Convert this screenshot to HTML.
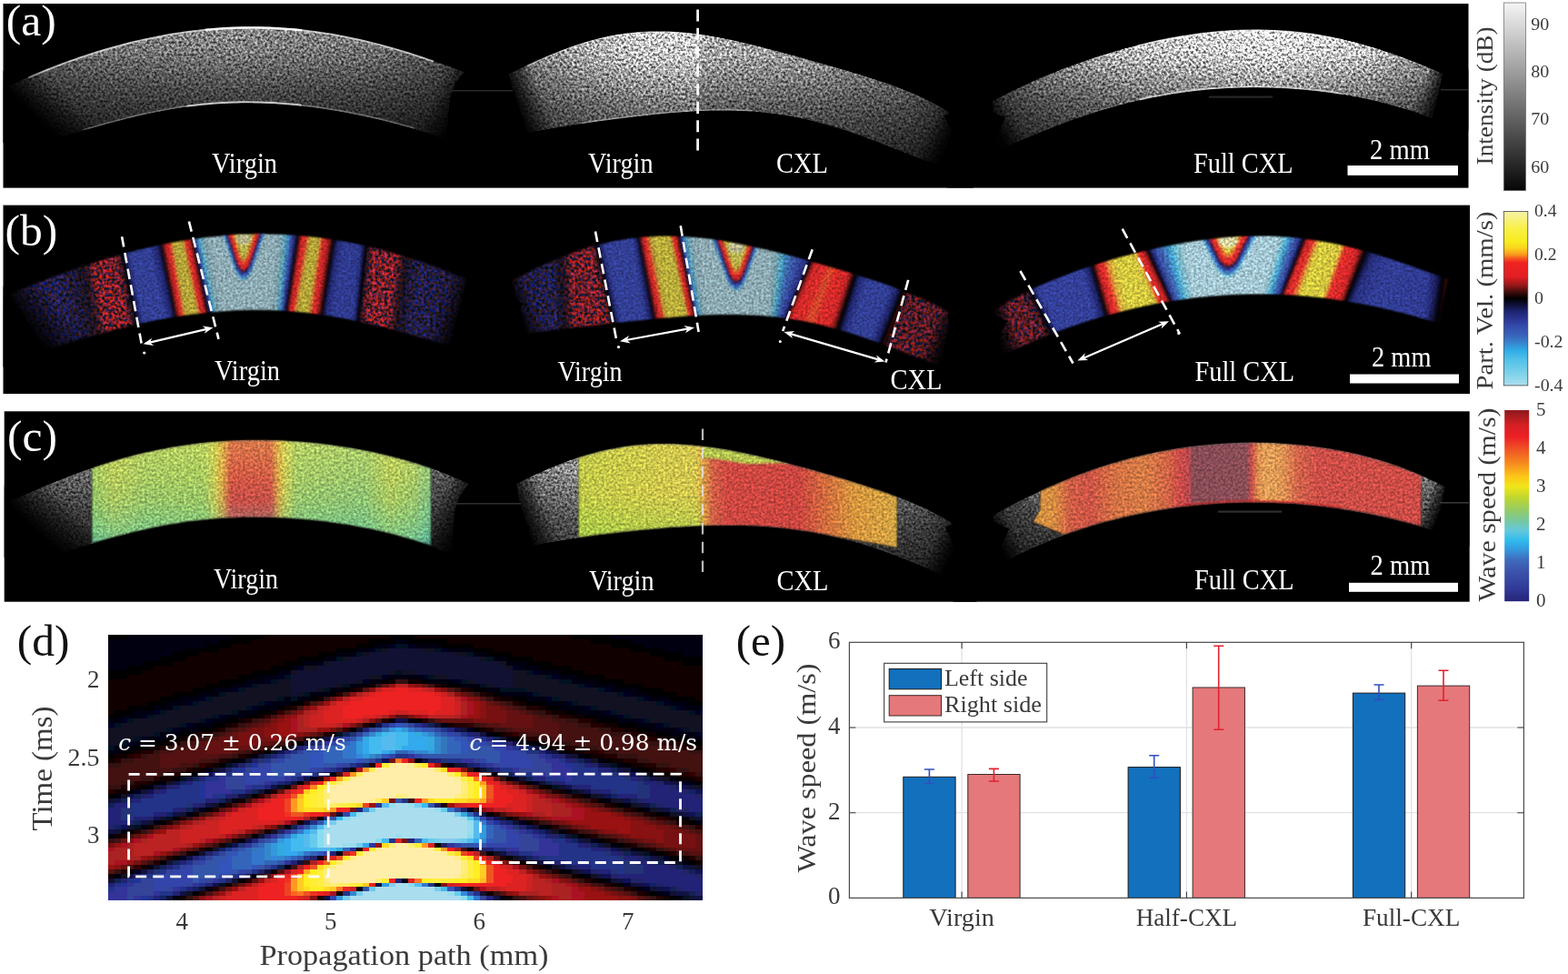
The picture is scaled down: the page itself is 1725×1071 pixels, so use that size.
<!DOCTYPE html>
<html lang="en"><head><meta charset="utf-8"><title>Figure</title>
<style>
html,body{margin:0;padding:0;background:#fff;}
body{width:1725px;height:1071px;overflow:hidden;position:relative;}
svg{position:absolute;left:0;top:0;display:block;font-family:"Liberation Serif","DejaVu Serif",serif;}
#hm{position:absolute;left:118.6px;top:697.5px;width:654.3px;height:292.3px;display:flex;background:#0a0a20;overflow:hidden}
#hm i{display:block;flex:1 1 0;height:100%}
</style></head>
<body>
<div id="hm"><i style="background:linear-gradient(#000 0 1.67%,#001 0 13.33%,#000 0 16.67%,#100 0 30%,#000 0 31.67%,#001 0 33.33%,#002 0 35%,#112 0 41.67%,#012 0 43.33%,#001 0 45%,#000 0 46.67%,#100 0 48.33%,#311 0 50%,#411 0 56.67%,#311 0 58.33%,#200 0 60%,#000 0 61.67%,#113 0 63.33%,#125 0 65%,#227 0 71.67%,#226 0 73.33%,#114 0 75%,#001 0 76.67%,#311 0 78.33%,#711 0 80%,#a12 0 81.67%,#a22 0 86.67%,#911 0 88.33%,#511 0 90%,#100 0 91.67%,#113 0 93.33%,#227 0 95%,#238 0 96.67%,#339 0)"></i><i style="background:linear-gradient(#000 0 1.67%,#001 0 13.33%,#000 0 16.67%,#100 0 28.33%,#000 0 31.67%,#001 0 33.33%,#012 0 35%,#112 0 41.67%,#001 0 45%,#100 0 46.67%,#200 0 48.33%,#311 0 50%,#411 0 56.67%,#311 0 58.33%,#100 0 60%,#001 0 61.67%,#114 0 63.33%,#227 0 71.67%,#126 0 73.33%,#113 0 75%,#100 0 76.67%,#411 0 78.33%,#911 0 80%,#a22 0 85%,#a12 0 86.67%,#811 0 88.33%,#311 0 90%,#001 0 91.67%,#125 0 93.33%,#238 0 95%,#339 0)"></i><i style="background:linear-gradient(#000 0 1.67%,#001 0 13.33%,#000 0 16.67%,#100 0 28.33%,#000 0 30%,#001 0 31.67%,#002 0 33.33%,#112 0 40%,#012 0 41.67%,#001 0 43.33%,#000 0 45%,#100 0 46.67%,#311 0 48.33%,#411 0 55%,#311 0 56.67%,#200 0 58.33%,#100 0 60%,#112 0 61.67%,#125 0 63.33%,#227 0 65%,#237 0 70%,#227 0 71.67%,#115 0 73.33%,#001 0 75%,#200 0 76.67%,#611 0 78.33%,#a12 0 80%,#a22 0 85%,#a12 0 86.67%,#611 0 88.33%,#200 0 90%,#112 0 91.67%,#227 0 93.33%,#239 0 95%,#339 0)"></i><i style="background:linear-gradient(#001 0 11.67%,#000 0 15%,#100 0 26.67%,#000 0 30%,#001 0 31.67%,#012 0 33.33%,#112 0 40%,#002 0 41.67%,#001 0 43.33%,#000 0 45%,#200 0 46.67%,#311 0 48.33%,#411 0 55%,#311 0 56.67%,#200 0 58.33%,#000 0 60%,#114 0 61.67%,#226 0 63.33%,#237 0 70%,#226 0 71.67%,#113 0 73.33%,#000 0 75%,#411 0 76.67%,#811 0 78.33%,#a22 0 85%,#911 0 86.67%,#411 0 88.33%,#000 0 90%,#114 0 91.67%,#238 0 93.33%,#339 0 95%,#349 0)"></i><i style="background:linear-gradient(#001 0 11.67%,#000 0 15%,#100 0 26.67%,#000 0 28.33%,#001 0 31.67%,#112 0 38.33%,#012 0 40%,#001 0 41.67%,#000 0 43.33%,#100 0 45%,#300 0 46.67%,#411 0 55%,#200 0 56.67%,#100 0 58.33%,#002 0 60%,#125 0 61.67%,#227 0 63.33%,#238 0 68.33%,#227 0 70%,#125 0 71.67%,#012 0 73.33%,#200 0 75%,#611 0 76.67%,#a12 0 78.33%,#b22 0 83.33%,#a22 0 85%,#711 0 86.67%,#300 0 88.33%,#002 0 90%,#226 0 91.67%,#239 0 93.33%,#349 0 98.33%,#339 0)"></i><i style="background:linear-gradient(#001 0 10%,#000 0 13.33%,#100 0 26.67%,#000 0 28.33%,#001 0 30%,#002 0 31.67%,#112 0 38.33%,#002 0 40%,#001 0 41.67%,#000 0 43.33%,#200 0 45%,#311 0 46.67%,#411 0 53.33%,#311 0 55%,#200 0 56.67%,#000 0 58.33%,#113 0 60%,#226 0 61.67%,#238 0 68.33%,#227 0 70%,#114 0 71.67%,#001 0 73.33%,#311 0 75%,#811 0 76.67%,#a22 0 78.33%,#b22 0 83.33%,#911 0 85%,#511 0 86.67%,#100 0 88.33%,#114 0 90%,#238 0 91.67%,#349 0 98.33%,#239 0)"></i><i style="background:linear-gradient(#001 0 10%,#000 0 13.33%,#100 0 25%,#000 0 28.33%,#001 0 30%,#012 0 31.67%,#112 0 38.33%,#001 0 41.67%,#100 0 43.33%,#200 0 45%,#411 0 53.33%,#311 0 55%,#100 0 56.67%,#001 0 58.33%,#115 0 60%,#227 0 61.67%,#238 0 68.33%,#226 0 70%,#113 0 71.67%,#100 0 73.33%,#511 0 75%,#a12 0 76.67%,#b22 0 83.33%,#811 0 85%,#311 0 86.67%,#001 0 88.33%,#226 0 90%,#238 0 91.67%,#349 0 98.33%,#238 0)"></i><i style="background:linear-gradient(#001 0 10%,#000 0 11.67%,#100 0 25%,#000 0 26.67%,#001 0 28.33%,#002 0 30%,#112 0 36.67%,#012 0 38.33%,#001 0 40%,#000 0 41.67%,#100 0 43.33%,#311 0 45%,#411 0 53.33%,#200 0 55%,#000 0 56.67%,#113 0 58.33%,#226 0 60%,#238 0 66.67%,#227 0 68.33%,#115 0 70%,#001 0 71.67%,#311 0 73.33%,#811 0 75%,#b22 0 81.67%,#a12 0 83.33%,#611 0 85%,#200 0 86.67%,#113 0 88.33%,#237 0 90%,#349 0 91.67%,#34a 0 96.67%,#339 0 98.33%,#227 0)"></i><i style="background:linear-gradient(#001 0 8.33%,#000 0 11.67%,#100 0 23.33%,#000 0 26.67%,#001 0 28.33%,#012 0 30%,#112 0 36.67%,#001 0 40%,#000 0 41.67%,#200 0 43.33%,#411 0 45%,#511 0 50%,#411 0 51.67%,#311 0 53.33%,#100 0 55%,#001 0 56.67%,#114 0 58.33%,#227 0 60%,#238 0 66.67%,#227 0 68.33%,#113 0 70%,#000 0 71.67%,#511 0 73.33%,#911 0 75%,#b22 0 81.67%,#911 0 83.33%,#411 0 85%,#000 0 86.67%,#125 0 88.33%,#238 0 90%,#34a 0 96.67%,#238 0 98.33%,#126 0)"></i><i style="background:linear-gradient(#001 0 8.33%,#000 0 11.67%,#100 0 23.33%,#000 0 25%,#001 0 28.33%,#112 0 35%,#012 0 36.67%,#001 0 38.33%,#000 0 40%,#100 0 41.67%,#311 0 43.33%,#411 0 45%,#511 0 50%,#411 0 51.67%,#200 0 53.33%,#100 0 55%,#112 0 56.67%,#226 0 58.33%,#238 0 66.67%,#126 0 68.33%,#012 0 70%,#200 0 71.67%,#711 0 73.33%,#b22 0 81.67%,#711 0 83.33%,#200 0 85%,#113 0 86.67%,#227 0 88.33%,#349 0 90%,#34a 0 95%,#349 0 96.67%,#238 0 98.33%,#113 0)"></i><i style="background:linear-gradient(#001 0 6.67%,#000 0 10%,#100 0 21.67%,#000 0 25%,#001 0 26.67%,#012 0 28.33%,#112 0 35%,#002 0 36.67%,#001 0 38.33%,#000 0 40%,#200 0 41.67%,#411 0 43.33%,#511 0 50%,#311 0 51.67%,#200 0 53.33%,#000 0 55%,#114 0 56.67%,#227 0 58.33%,#238 0 65%,#227 0 66.67%,#114 0 68.33%,#000 0 70%,#411 0 71.67%,#911 0 73.33%,#b22 0 80%,#a12 0 81.67%,#511 0 83.33%,#000 0 85%,#125 0 86.67%,#238 0 88.33%,#34a 0 95%,#339 0 96.67%,#227 0 98.33%,#001 0)"></i><i style="background:linear-gradient(#001 0 6.67%,#000 0 10%,#100 0 21.67%,#000 0 23.33%,#001 0 26.67%,#112 0 33.33%,#012 0 35%,#001 0 36.67%,#000 0 38.33%,#100 0 40%,#311 0 41.67%,#411 0 43.33%,#511 0 48.33%,#411 0 50%,#311 0 51.67%,#100 0 53.33%,#012 0 55%,#126 0 56.67%,#238 0 65%,#226 0 66.67%,#113 0 68.33%,#200 0 70%,#711 0 71.67%,#a22 0 73.33%,#c22 0 78.33%,#b22 0 80%,#811 0 81.67%,#311 0 83.33%,#002 0 85%,#227 0 86.67%,#349 0 88.33%,#34a 0 95%,#238 0 96.67%,#114 0 98.33%,#100 0)"></i><i style="background:linear-gradient(#001 0 5%,#000 0 8.33%,#100 0 21.67%,#000 0 23.33%,#001 0 25%,#002 0 26.67%,#112 0 33.33%,#002 0 35%,#001 0 36.67%,#000 0 38.33%,#200 0 40%,#411 0 41.67%,#511 0 48.33%,#411 0 50%,#200 0 51.67%,#000 0 53.33%,#114 0 55%,#227 0 56.67%,#238 0 63.33%,#237 0 65%,#125 0 66.67%,#001 0 68.33%,#311 0 70%,#911 0 71.67%,#b22 0 73.33%,#c22 0 78.33%,#a22 0 80%,#611 0 81.67%,#100 0 83.33%,#114 0 85%,#238 0 86.67%,#34a 0 93.33%,#349 0 95%,#227 0 96.67%,#112 0 98.33%,#311 0)"></i><i style="background:linear-gradient(#001 0 5%,#000 0 8.33%,#100 0 20%,#000 0 23.33%,#001 0 25%,#012 0 26.67%,#112 0 33.33%,#001 0 36.67%,#100 0 38.33%,#300 0 40%,#411 0 41.67%,#511 0 48.33%,#311 0 50%,#100 0 51.67%,#001 0 53.33%,#125 0 55%,#238 0 63.33%,#227 0 65%,#113 0 66.67%,#100 0 68.33%,#611 0 70%,#a22 0 71.67%,#c22 0 78.33%,#911 0 80%,#411 0 81.67%,#001 0 83.33%,#227 0 85%,#349 0 86.67%,#35a 0 93.33%,#339 0 95%,#126 0 96.67%,#000 0 98.33%,#511 0)"></i><i style="background:linear-gradient(#001 0 5%,#000 0 6.67%,#100 0 20%,#000 0 21.67%,#001 0 23.33%,#002 0 25%,#112 0 31.67%,#012 0 33.33%,#001 0 35%,#000 0 36.67%,#200 0 38.33%,#311 0 40%,#511 0 46.67%,#411 0 48.33%,#300 0 50%,#100 0 51.67%,#113 0 53.33%,#227 0 55%,#238 0 56.67%,#239 0 61.67%,#238 0 63.33%,#226 0 65%,#002 0 66.67%,#311 0 68.33%,#811 0 70%,#b22 0 71.67%,#c22 0 76.67%,#b22 0 78.33%,#711 0 80%,#200 0 81.67%,#113 0 83.33%,#238 0 85%,#34a 0 86.67%,#35a 0 91.67%,#34a 0 93.33%,#238 0 95%,#113 0 96.67%,#200 0 98.33%,#811 0)"></i><i style="background:linear-gradient(#001 0 3.33%,#000 0 6.67%,#100 0 18.33%,#000 0 21.67%,#001 0 23.33%,#012 0 25%,#112 0 31.67%,#002 0 33.33%,#001 0 35%,#000 0 36.67%,#200 0 38.33%,#411 0 40%,#611 0 45%,#511 0 46.67%,#411 0 48.33%,#200 0 50%,#001 0 51.67%,#115 0 53.33%,#238 0 55%,#339 0 61.67%,#227 0 63.33%,#114 0 65%,#000 0 66.67%,#511 0 68.33%,#a22 0 70%,#c22 0 76.67%,#a12 0 78.33%,#511 0 80%,#000 0 81.67%,#226 0 83.33%,#349 0 85%,#35a 0 91.67%,#349 0 93.33%,#227 0 95%,#001 0 96.67%,#411 0 98.33%,#a12 0)"></i><i style="background:linear-gradient(#001 0 3.33%,#000 0 6.67%,#100 0 18.33%,#000 0 20%,#001 0 23.33%,#112 0 30%,#012 0 31.67%,#001 0 33.33%,#000 0 35%,#100 0 36.67%,#311 0 38.33%,#511 0 40%,#611 0 45%,#511 0 46.67%,#311 0 48.33%,#100 0 50%,#112 0 51.67%,#227 0 53.33%,#238 0 55%,#339 0 60%,#238 0 61.67%,#227 0 63.33%,#112 0 65%,#200 0 66.67%,#811 0 68.33%,#b22 0 70%,#c22 0 76.67%,#811 0 78.33%,#311 0 80%,#113 0 81.67%,#238 0 83.33%,#35a 0 91.67%,#339 0 93.33%,#114 0 95%,#200 0 96.67%,#711 0 98.33%,#b22 0)"></i><i style="background:linear-gradient(#001 0 1.67%,#000 0 5%,#100 0 16.67%,#000 0 20%,#001 0 21.67%,#012 0 23.33%,#112 0 30%,#002 0 31.67%,#001 0 33.33%,#000 0 35%,#200 0 36.67%,#411 0 38.33%,#611 0 45%,#411 0 46.67%,#200 0 48.33%,#000 0 50%,#114 0 51.67%,#238 0 53.33%,#339 0 60%,#238 0 61.67%,#125 0 63.33%,#001 0 65%,#511 0 66.67%,#a12 0 68.33%,#c22 0 70%,#d22 0 75%,#b22 0 76.67%,#611 0 78.33%,#100 0 80%,#126 0 81.67%,#349 0 83.33%,#35a 0 85%,#35b 0 90%,#34a 0 91.67%,#238 0 93.33%,#012 0 95%,#411 0 96.67%,#911 0 98.33%,#c22 0)"></i><i style="background:linear-gradient(#001 0 1.67%,#000 0 5%,#100 0 16.67%,#000 0 20%,#001 0 21.67%,#112 0 30%,#001 0 31.67%,#000 0 33.33%,#100 0 35%,#311 0 36.67%,#511 0 38.33%,#611 0 45%,#411 0 46.67%,#100 0 48.33%,#012 0 50%,#226 0 51.67%,#238 0 53.33%,#349 0 58.33%,#339 0 60%,#227 0 61.67%,#113 0 63.33%,#200 0 65%,#711 0 66.67%,#c22 0 68.33%,#d22 0 75%,#a12 0 76.67%,#411 0 78.33%,#012 0 80%,#238 0 81.67%,#35a 0 83.33%,#35b 0 90%,#349 0 91.67%,#226 0 93.33%,#100 0 95%,#711 0 96.67%,#b22 0 98.33%,#d22 0)"></i><i style="background:linear-gradient(#000 0 3.33%,#100 0 16.67%,#000 0 18.33%,#001 0 20%,#002 0 21.67%,#112 0 28.33%,#012 0 30%,#001 0 31.67%,#000 0 33.33%,#200 0 35%,#411 0 36.67%,#611 0 43.33%,#511 0 45%,#311 0 46.67%,#000 0 48.33%,#114 0 50%,#238 0 51.67%,#349 0 58.33%,#238 0 60%,#226 0 61.67%,#001 0 63.33%,#411 0 65%,#a12 0 66.67%,#d22 0 73.33%,#c22 0 75%,#811 0 76.67%,#200 0 78.33%,#115 0 80%,#349 0 81.67%,#35b 0 83.33%,#36b 0 88.33%,#35a 0 90%,#238 0 91.67%,#113 0 93.33%,#311 0 95%,#911 0 96.67%,#d22 0)"></i><i style="background:linear-gradient(#000 0 3.33%,#100 0 15%,#000 0 18.33%,#001 0 20%,#012 0 21.67%,#112 0 28.33%,#001 0 31.67%,#100 0 33.33%,#311 0 35%,#511 0 36.67%,#711 0 41.67%,#611 0 43.33%,#411 0 45%,#200 0 46.67%,#001 0 48.33%,#226 0 50%,#239 0 51.67%,#349 0 58.33%,#238 0 60%,#114 0 61.67%,#100 0 63.33%,#711 0 65%,#c22 0 66.67%,#d22 0 73.33%,#b22 0 75%,#511 0 76.67%,#001 0 78.33%,#237 0 80%,#35a 0 81.67%,#36b 0 88.33%,#34a 0 90%,#227 0 91.67%,#000 0 93.33%,#611 0 95%,#b22 0 96.67%,#d22 0)"></i><i style="background:linear-gradient(#000 0 3.33%,#100 0 15%,#000 0 16.67%,#001 0 18.33%,#002 0 20%,#112 0 26.67%,#012 0 28.33%,#001 0 30%,#000 0 31.67%,#200 0 33.33%,#411 0 35%,#611 0 36.67%,#711 0 41.67%,#611 0 43.33%,#311 0 45%,#100 0 46.67%,#113 0 48.33%,#237 0 50%,#349 0 51.67%,#34a 0 56.67%,#339 0 58.33%,#227 0 60%,#112 0 61.67%,#311 0 63.33%,#a12 0 65%,#d22 0 73.33%,#911 0 75%,#311 0 76.67%,#114 0 78.33%,#339 0 80%,#36b 0 88.33%,#349 0 90%,#114 0 91.67%,#200 0 93.33%,#911 0 95%,#d22 0)"></i><i style="background:linear-gradient(#000 0 1.67%,#100 0 13.33%,#000 0 16.67%,#001 0 18.33%,#012 0 20%,#112 0 26.67%,#002 0 28.33%,#001 0 30%,#000 0 31.67%,#311 0 33.33%,#511 0 35%,#711 0 41.67%,#511 0 43.33%,#200 0 45%,#001 0 46.67%,#226 0 48.33%,#239 0 50%,#34a 0 56.67%,#238 0 58.33%,#125 0 60%,#000 0 61.67%,#711 0 63.33%,#c22 0 65%,#d22 0 71.67%,#c22 0 73.33%,#711 0 75%,#000 0 76.67%,#227 0 78.33%,#35a 0 80%,#37b 0 81.67%,#37c 0 86.67%,#35b 0 88.33%,#238 0 90%,#001 0 91.67%,#511 0 93.33%,#b22 0 95%,#d22 0)"></i><i style="background:linear-gradient(#000 0 1.67%,#100 0 13.33%,#000 0 15%,#001 0 18.33%,#112 0 25%,#012 0 26.67%,#001 0 28.33%,#000 0 30%,#100 0 31.67%,#411 0 33.33%,#611 0 35%,#711 0 40%,#611 0 41.67%,#411 0 43.33%,#100 0 45%,#113 0 46.67%,#237 0 48.33%,#349 0 50%,#34a 0 55%,#349 0 56.67%,#238 0 58.33%,#113 0 60%,#300 0 61.67%,#a12 0 63.33%,#d22 0 65%,#e22 0 70%,#d22 0 71.67%,#b22 0 73.33%,#411 0 75%,#113 0 76.67%,#349 0 78.33%,#36b 0 80%,#37c 0 86.67%,#35a 0 88.33%,#226 0 90%,#200 0 91.67%,#911 0 93.33%,#d22 0 95%,#e22 0)"></i><i style="background:linear-gradient(#100 0 13.33%,#000 0 15%,#001 0 16.67%,#002 0 18.33%,#112 0 25%,#002 0 26.67%,#001 0 28.33%,#000 0 30%,#300 0 31.67%,#511 0 33.33%,#711 0 35%,#811 0 38.33%,#711 0 40%,#611 0 41.67%,#311 0 43.33%,#000 0 45%,#125 0 46.67%,#238 0 48.33%,#34a 0 55%,#339 0 56.67%,#227 0 58.33%,#001 0 60%,#611 0 61.67%,#c22 0 63.33%,#e22 0 70%,#d22 0 71.67%,#911 0 73.33%,#100 0 75%,#227 0 76.67%,#35a 0 78.33%,#38c 0 85%,#36b 0 86.67%,#349 0 88.33%,#113 0 90%,#511 0 91.67%,#c22 0 93.33%,#e22 0)"></i><i style="background:linear-gradient(#100 0 11.67%,#000 0 15%,#001 0 16.67%,#012 0 18.33%,#112 0 25%,#001 0 28.33%,#100 0 30%,#411 0 31.67%,#711 0 33.33%,#811 0 40%,#511 0 41.67%,#200 0 43.33%,#012 0 45%,#227 0 46.67%,#349 0 48.33%,#35a 0 53.33%,#34a 0 55%,#238 0 56.67%,#114 0 58.33%,#200 0 60%,#a22 0 61.67%,#e22 0 70%,#d22 0 71.67%,#711 0 73.33%,#112 0 75%,#339 0 76.67%,#36b 0 78.33%,#39d 0 83.33%,#38d 0 85%,#36b 0 86.67%,#238 0 88.33%,#100 0 90%,#911 0 91.67%,#d22 0 93.33%,#e22 0)"></i><i style="background:linear-gradient(#100 0 11.67%,#000 0 13.33%,#001 0 15%,#002 0 16.67%,#112 0 23.33%,#012 0 25%,#001 0 26.67%,#000 0 28.33%,#300 0 30%,#611 0 31.67%,#811 0 33.33%,#911 0 38.33%,#711 0 40%,#411 0 41.67%,#100 0 43.33%,#115 0 45%,#238 0 46.67%,#34a 0 48.33%,#35a 0 53.33%,#34a 0 55%,#227 0 56.67%,#012 0 58.33%,#611 0 60%,#d22 0 61.67%,#e22 0 70%,#c22 0 71.67%,#311 0 73.33%,#226 0 75%,#35a 0 76.67%,#39d 0 78.33%,#3ad 0 83.33%,#38c 0 85%,#35a 0 86.67%,#125 0 88.33%,#511 0 90%,#d22 0 91.67%,#e22 0)"></i><i style="background:linear-gradient(#100 0 10%,#000 0 13.33%,#001 0 15%,#012 0 16.67%,#112 0 23.33%,#001 0 26.67%,#100 0 28.33%,#411 0 30%,#811 0 31.67%,#911 0 38.33%,#611 0 40%,#311 0 41.67%,#001 0 43.33%,#227 0 45%,#349 0 46.67%,#35a 0 53.33%,#339 0 55%,#126 0 56.67%,#100 0 58.33%,#b22 0 60%,#e22 0 61.67%,#e42 0 66.67%,#e32 0 68.33%,#e22 0 70%,#a12 0 71.67%,#001 0 73.33%,#339 0 75%,#37c 0 76.67%,#3ae 0 83.33%,#37c 0 85%,#339 0 86.67%,#001 0 88.33%,#a12 0 90%,#e22 0 91.67%,#e32 0 93.33%,#e42 0 98.33%,#e22 0)"></i><i style="background:linear-gradient(#100 0 10%,#000 0 11.67%,#001 0 13.33%,#112 0 15%,#113 0 23.33%,#012 0 25%,#000 0 26.67%,#200 0 28.33%,#611 0 30%,#911 0 31.67%,#a12 0 36.67%,#911 0 38.33%,#511 0 40%,#100 0 41.67%,#114 0 43.33%,#238 0 45%,#35a 0 51.67%,#34a 0 53.33%,#238 0 55%,#113 0 56.67%,#611 0 58.33%,#e22 0 60%,#e52 0 61.67%,#f92 0 66.67%,#e52 0 68.33%,#e22 0 70%,#611 0 71.67%,#125 0 73.33%,#35a 0 75%,#3ad 0 76.67%,#4be 0 81.67%,#3ae 0 83.33%,#36b 0 85%,#227 0 86.67%,#411 0 88.33%,#d22 0 90%,#e42 0 91.67%,#f92 0 96.67%,#f62 0 98.33%,#e22 0)"></i><i style="background:linear-gradient(#100 0 8.33%,#000 0 11.67%,#002 0 13.33%,#113 0 21.67%,#112 0 23.33%,#001 0 25%,#000 0 26.67%,#411 0 28.33%,#811 0 30%,#a22 0 36.67%,#811 0 38.33%,#411 0 40%,#000 0 41.67%,#227 0 43.33%,#349 0 45%,#35a 0 51.67%,#349 0 53.33%,#227 0 55%,#000 0 56.67%,#c22 0 58.33%,#e32 0 60%,#fb2 0 61.67%,#fc2 0 66.67%,#e52 0 68.33%,#d22 0 70%,#100 0 71.67%,#339 0 73.33%,#37c 0 75%,#4be 0 81.67%,#39d 0 83.33%,#35a 0 85%,#113 0 86.67%,#a22 0 88.33%,#e22 0 90%,#fb2 0 91.67%,#fc2 0 96.67%,#f72 0 98.33%,#d22 0)"></i><i style="background:linear-gradient(#100 0 8.33%,#000 0 10%,#001 0 11.67%,#112 0 13.33%,#113 0 21.67%,#012 0 23.33%,#001 0 25%,#200 0 26.67%,#711 0 28.33%,#a22 0 30%,#b22 0 35%,#a22 0 36.67%,#711 0 38.33%,#200 0 40%,#113 0 41.67%,#238 0 43.33%,#35a 0 51.67%,#239 0 53.33%,#114 0 55%,#511 0 56.67%,#e22 0 58.33%,#fc2 0 60%,#fe2 0 65%,#fd2 0 66.67%,#e32 0 68.33%,#a22 0 70%,#114 0 71.67%,#35a 0 73.33%,#3ae 0 75%,#5be 0 80%,#4be 0 81.67%,#37c 0 83.33%,#238 0 85%,#311 0 86.67%,#e22 0 88.33%,#fa2 0 90%,#fe2 0 95%,#fd2 0 96.67%,#e52 0 98.33%,#c22 0)"></i><i style="background:linear-gradient(#100 0 8.33%,#000 0 10%,#001 0 11.67%,#112 0 13.33%,#113 0 21.67%,#001 0 23.33%,#000 0 25%,#411 0 26.67%,#911 0 28.33%,#b22 0 30%,#c22 0 35%,#a22 0 36.67%,#611 0 38.33%,#100 0 40%,#126 0 41.67%,#349 0 43.33%,#35a 0 45%,#35b 0 50%,#34a 0 51.67%,#238 0 53.33%,#002 0 55%,#c22 0 56.67%,#f82 0 58.33%,#fe2 0 60%,#fe3 0 65%,#fd2 0 66.67%,#e22 0 68.33%,#611 0 70%,#238 0 71.67%,#38c 0 73.33%,#5be 0 75%,#6ce 0 80%,#4be 0 81.67%,#36b 0 83.33%,#226 0 85%,#a22 0 86.67%,#e52 0 88.33%,#fe2 0 90%,#fe3 0 95%,#fe2 0 96.67%,#e32 0 98.33%,#811 0)"></i><i style="background:linear-gradient(#100 0 6.67%,#000 0 10%,#002 0 11.67%,#113 0 20%,#112 0 21.67%,#001 0 23.33%,#100 0 25%,#611 0 26.67%,#b22 0 28.33%,#c22 0 35%,#911 0 36.67%,#411 0 38.33%,#001 0 40%,#237 0 41.67%,#34a 0 43.33%,#35b 0 50%,#349 0 51.67%,#226 0 53.33%,#200 0 55%,#e22 0 56.67%,#fe2 0 58.33%,#fe4 0 65%,#fd2 0 66.67%,#e22 0 68.33%,#000 0 70%,#35a 0 71.67%,#5be 0 73.33%,#8de 0 80%,#5be 0 81.67%,#35b 0 83.33%,#001 0 85%,#e22 0 86.67%,#fd2 0 88.33%,#fe4 0 95%,#fe2 0 96.67%,#e22 0 98.33%,#200 0)"></i><i style="background:linear-gradient(#100 0 6.67%,#000 0 8.33%,#001 0 10%,#112 0 11.67%,#113 0 20%,#012 0 21.67%,#001 0 23.33%,#311 0 25%,#911 0 26.67%,#c22 0 28.33%,#d22 0 33.33%,#c22 0 35%,#911 0 36.67%,#200 0 38.33%,#114 0 40%,#339 0 41.67%,#35a 0 43.33%,#36b 0 48.33%,#35a 0 50%,#339 0 51.67%,#114 0 53.33%,#911 0 55%,#fa2 0 56.67%,#fe4 0 58.33%,#fe7 0 63.33%,#fe5 0 65%,#fc2 0 66.67%,#c22 0 68.33%,#227 0 70%,#39d 0 71.67%,#8de 0 73.33%,#ade 0 80%,#5be 0 81.67%,#34a 0 83.33%,#611 0 85%,#e62 0 86.67%,#fe4 0 88.33%,#fe7 0 93.33%,#fe6 0 95%,#fd2 0 96.67%,#d22 0 98.33%,#114 0)"></i><i style="background:linear-gradient(#100 0 6.67%,#000 0 8.33%,#001 0 10%,#113 0 20%,#001 0 21.67%,#000 0 23.33%,#611 0 25%,#b22 0 26.67%,#d22 0 33.33%,#c22 0 35%,#711 0 36.67%,#100 0 38.33%,#227 0 40%,#34a 0 41.67%,#36b 0 48.33%,#35a 0 50%,#238 0 51.67%,#001 0 53.33%,#e22 0 55%,#fe3 0 56.67%,#fe9 0 58.33%,#fea 0 63.33%,#fe6 0 65%,#f92 0 66.67%,#611 0 68.33%,#35a 0 70%,#7ce 0 71.67%,#ade 0 80%,#4be 0 81.67%,#227 0 83.33%,#d22 0 85%,#fe2 0 86.67%,#fe8 0 88.33%,#fea 0 93.33%,#fe7 0 95%,#fc2 0 96.67%,#a12 0 98.33%,#34a 0)"></i><i style="background:linear-gradient(#100 0 5%,#000 0 6.67%,#001 0 8.33%,#012 0 10%,#113 0 18.33%,#112 0 20%,#001 0 21.67%,#200 0 23.33%,#911 0 25%,#d22 0 33.33%,#b22 0 35%,#511 0 36.67%,#012 0 38.33%,#238 0 40%,#35a 0 41.67%,#36b 0 48.33%,#34a 0 50%,#227 0 51.67%,#411 0 53.33%,#fa2 0 55%,#fe7 0 56.67%,#fea 0 63.33%,#fe5 0 65%,#e22 0 66.67%,#113 0 68.33%,#3be 0 70%,#ade 0 80%,#3ad 0 81.67%,#001 0 83.33%,#e52 0 85%,#fe6 0 86.67%,#fea 0 93.33%,#fe6 0 95%,#f72 0 96.67%,#100 0 98.33%,#39d 0)"></i><i style="background:linear-gradient(#100 0 5%,#000 0 6.67%,#001 0 8.33%,#112 0 10%,#113 0 18.33%,#012 0 20%,#000 0 21.67%,#411 0 23.33%,#b22 0 25%,#d22 0 26.67%,#e22 0 31.67%,#d22 0 33.33%,#a12 0 35%,#300 0 36.67%,#125 0 38.33%,#34a 0 40%,#36b 0 41.67%,#37c 0 46.67%,#36b 0 48.33%,#349 0 50%,#114 0 51.67%,#d22 0 53.33%,#fe4 0 55%,#fea 0 63.33%,#fe4 0 65%,#e22 0 66.67%,#34a 0 68.33%,#8de 0 70%,#ade 0 78.33%,#9de 0 80%,#36b 0 81.67%,#b22 0 83.33%,#fe2 0 85%,#fea 0 93.33%,#fe6 0 95%,#e22 0 96.67%,#238 0 98.33%,#7ce 0)"></i><i style="background:linear-gradient(#100 0 5%,#000 0 6.67%,#001 0 8.33%,#113 0 18.33%,#001 0 20%,#100 0 21.67%,#811 0 23.33%,#d22 0 25%,#e22 0 31.67%,#d22 0 33.33%,#811 0 35%,#000 0 36.67%,#237 0 38.33%,#35a 0 40%,#37c 0 46.67%,#36b 0 48.33%,#238 0 50%,#000 0 51.67%,#f92 0 53.33%,#fe9 0 55%,#fea 0 63.33%,#fe3 0 65%,#711 0 66.67%,#4be 0 68.33%,#ade 0 78.33%,#9de 0 80%,#239 0 81.67%,#e32 0 83.33%,#fe8 0 85%,#fea 0 93.33%,#fe4 0 95%,#c22 0 96.67%,#38c 0 98.33%,#ade 0)"></i><i style="background:linear-gradient(#100 0 3.33%,#000 0 5%,#001 0 6.67%,#012 0 8.33%,#113 0 16.67%,#112 0 18.33%,#001 0 20%,#200 0 21.67%,#a22 0 23.33%,#d22 0 25%,#e22 0 31.67%,#c22 0 33.33%,#511 0 35%,#113 0 36.67%,#349 0 38.33%,#37c 0 40%,#39d 0 45%,#38d 0 46.67%,#35b 0 48.33%,#227 0 50%,#a12 0 51.67%,#fe5 0 53.33%,#fea 0 63.33%,#fd2 0 65%,#227 0 66.67%,#9de 0 68.33%,#ade 0 78.33%,#7ce 0 80%,#200 0 81.67%,#fe3 0 83.33%,#fea 0 93.33%,#fe3 0 95%,#001 0 96.67%,#7ce 0 98.33%,#ade 0)"></i><i style="background:linear-gradient(#100 0 3.33%,#000 0 5%,#001 0 6.67%,#112 0 8.33%,#113 0 16.67%,#002 0 18.33%,#000 0 20%,#511 0 21.67%,#c22 0 23.33%,#e22 0 30%,#d22 0 31.67%,#a22 0 33.33%,#200 0 35%,#227 0 36.67%,#36b 0 38.33%,#3ad 0 40%,#3ae 0 45%,#39d 0 46.67%,#35a 0 48.33%,#125 0 50%,#f92 0 51.67%,#fea 0 63.33%,#e42 0 65%,#38c 0 66.67%,#ade 0 78.33%,#3ae 0 80%,#e22 0 81.67%,#fe9 0 83.33%,#fea 0 93.33%,#fc2 0 95%,#35a 0 96.67%,#ade 0)"></i><i style="background:linear-gradient(#100 0 1.67%,#000 0 5%,#002 0 6.67%,#113 0 15%,#112 0 16.67%,#001 0 18.33%,#100 0 20%,#811 0 21.67%,#d22 0 23.33%,#e22 0 30%,#d22 0 31.67%,#811 0 33.33%,#001 0 35%,#349 0 36.67%,#38c 0 38.33%,#4be 0 45%,#38c 0 46.67%,#349 0 48.33%,#200 0 50%,#fe5 0 51.67%,#fea 0 61.67%,#fe9 0 63.33%,#911 0 65%,#7ce 0 66.67%,#ade 0 78.33%,#339 0 80%,#fe3 0 81.67%,#fea 0 93.33%,#e22 0 95%,#6ce 0 96.67%,#ade 0)"></i><i style="background:linear-gradient(#100 0 1.67%,#000 0 3.33%,#001 0 5%,#012 0 6.67%,#113 0 15%,#112 0 16.67%,#001 0 18.33%,#311 0 20%,#b22 0 21.67%,#e22 0 30%,#c22 0 31.67%,#511 0 33.33%,#114 0 35%,#35a 0 36.67%,#3ad 0 38.33%,#4be 0 45%,#37b 0 46.67%,#238 0 48.33%,#e22 0 50%,#fea 0 61.67%,#fe5 0 63.33%,#339 0 65%,#ade 0 76.67%,#8de 0 78.33%,#911 0 80%,#fe9 0 81.67%,#fea 0 91.67%,#fe7 0 93.33%,#114 0 95%,#ade 0)"></i><i style="background:linear-gradient(#100 0 1.67%,#000 0 3.33%,#001 0 5%,#112 0 6.67%,#113 0 15%,#002 0 16.67%,#000 0 18.33%,#611 0 20%,#d22 0 21.67%,#e22 0 30%,#a22 0 31.67%,#200 0 33.33%,#238 0 35%,#37b 0 36.67%,#4be 0 38.33%,#5be 0 43.33%,#3ae 0 45%,#35b 0 46.67%,#115 0 48.33%,#fe3 0 50%,#fea 0 61.67%,#fc2 0 63.33%,#5be 0 65%,#ade 0 76.67%,#4be 0 78.33%,#fd2 0 80%,#fea 0 91.67%,#fe3 0 93.33%,#39d 0 95%,#ade 0)"></i><i style="background:linear-gradient(#000 0 3.33%,#002 0 5%,#113 0 13.33%,#112 0 15%,#001 0 16.67%,#100 0 18.33%,#911 0 20%,#d22 0 21.67%,#e22 0 28.33%,#d22 0 30%,#811 0 31.67%,#001 0 33.33%,#34a 0 35%,#39d 0 36.67%,#5be 0 43.33%,#39d 0 45%,#34a 0 46.67%,#711 0 48.33%,#fe9 0 50%,#fea 0 61.67%,#711 0 63.33%,#9de 0 65%,#ade 0 76.67%,#238 0 78.33%,#fe7 0 80%,#fea 0 91.67%,#e22 0 93.33%,#8ce 0 95%,#ade 0)"></i><i style="background:linear-gradient(#000 0 1.67%,#001 0 3.33%,#012 0 5%,#113 0 13.33%,#012 0 15%,#001 0 16.67%,#311 0 18.33%,#b22 0 20%,#e22 0 28.33%,#c22 0 30%,#511 0 31.67%,#115 0 33.33%,#35b 0 35%,#3ae 0 36.67%,#4be 0 43.33%,#36b 0 45%,#238 0 46.67%,#f72 0 48.33%,#fea 0 60%,#fe7 0 61.67%,#35a 0 63.33%,#ade 0 75%,#9de 0 76.67%,#d22 0 78.33%,#fea 0 90%,#fe9 0 91.67%,#227 0 93.33%,#ade 0)"></i><i style="background:linear-gradient(#000 0 1.67%,#001 0 3.33%,#012 0 5%,#113 0 13.33%,#112 0 15%,#001 0 16.67%,#311 0 18.33%,#b22 0 20%,#e22 0 28.33%,#c22 0 30%,#511 0 31.67%,#114 0 33.33%,#35a 0 35%,#39d 0 36.67%,#4be 0 41.67%,#3ae 0 43.33%,#36b 0 45%,#238 0 46.67%,#e22 0 48.33%,#fea 0 60%,#fe8 0 61.67%,#238 0 63.33%,#ade 0 76.67%,#711 0 78.33%,#fea 0 91.67%,#001 0 93.33%,#ade 0)"></i><i style="background:linear-gradient(#000 0 3.33%,#002 0 5%,#113 0 13.33%,#112 0 15%,#001 0 16.67%,#100 0 18.33%,#911 0 20%,#d22 0 21.67%,#e22 0 28.33%,#d22 0 30%,#711 0 31.67%,#001 0 33.33%,#349 0 35%,#37c 0 36.67%,#3ae 0 43.33%,#37c 0 45%,#339 0 46.67%,#911 0 48.33%,#fe9 0 50%,#fea 0 61.67%,#311 0 63.33%,#9de 0 65%,#ade 0 76.67%,#227 0 78.33%,#fe7 0 80%,#fea 0 91.67%,#d22 0 93.33%,#8de 0 95%,#ade 0)"></i><i style="background:linear-gradient(#100 0 1.67%,#000 0 3.33%,#001 0 5%,#113 0 15%,#001 0 16.67%,#100 0 18.33%,#811 0 20%,#d22 0 21.67%,#e22 0 28.33%,#d22 0 30%,#911 0 31.67%,#000 0 33.33%,#238 0 35%,#36b 0 36.67%,#3ad 0 38.33%,#3ae 0 43.33%,#38c 0 45%,#34a 0 46.67%,#001 0 48.33%,#fe5 0 50%,#fea 0 61.67%,#e22 0 63.33%,#7ce 0 65%,#ade 0 76.67%,#36b 0 78.33%,#fe3 0 80%,#fea 0 91.67%,#f72 0 93.33%,#5be 0 95%,#ade 0)"></i><i style="background:linear-gradient(#100 0 1.67%,#000 0 3.33%,#001 0 5%,#112 0 6.67%,#113 0 15%,#002 0 16.67%,#000 0 18.33%,#611 0 20%,#c22 0 21.67%,#e22 0 28.33%,#d22 0 30%,#a12 0 31.67%,#200 0 33.33%,#227 0 35%,#35b 0 36.67%,#39d 0 38.33%,#3ae 0 43.33%,#38c 0 45%,#35a 0 46.67%,#114 0 48.33%,#fe2 0 50%,#fea 0 61.67%,#f92 0 63.33%,#3be 0 65%,#ade 0 76.67%,#4be 0 78.33%,#f92 0 80%,#fea 0 91.67%,#fe2 0 93.33%,#37c 0 95%,#ade 0)"></i><i style="background:linear-gradient(#100 0 1.67%,#000 0 3.33%,#001 0 5%,#112 0 6.67%,#113 0 15%,#012 0 16.67%,#001 0 18.33%,#411 0 20%,#b22 0 21.67%,#e22 0 30%,#b22 0 31.67%,#311 0 33.33%,#125 0 35%,#35a 0 36.67%,#38c 0 38.33%,#3ad 0 43.33%,#39d 0 45%,#35a 0 46.67%,#226 0 48.33%,#e22 0 50%,#fea 0 61.67%,#fd2 0 63.33%,#35a 0 65%,#ade 0 76.67%,#6ce 0 78.33%,#d22 0 80%,#fe9 0 81.67%,#fea 0 91.67%,#fe3 0 93.33%,#238 0 95%,#ade 0)"></i><i style="background:linear-gradient(#100 0 1.67%,#000 0 3.33%,#001 0 5%,#012 0 6.67%,#113 0 15%,#112 0 16.67%,#001 0 18.33%,#200 0 20%,#911 0 21.67%,#d22 0 23.33%,#e22 0 28.33%,#d22 0 30%,#b22 0 31.67%,#511 0 33.33%,#113 0 35%,#349 0 36.67%,#36b 0 38.33%,#38c 0 45%,#35a 0 46.67%,#227 0 48.33%,#911 0 50%,#fe6 0 51.67%,#fea 0 61.67%,#fe2 0 63.33%,#226 0 65%,#9de 0 66.67%,#ade 0 76.67%,#7ce 0 78.33%,#100 0 80%,#fe4 0 81.67%,#fea 0 91.67%,#fe4 0 93.33%,#000 0 95%,#7ce 0 96.67%,#ade 0)"></i><i style="background:linear-gradient(#100 0 1.67%,#000 0 5%,#002 0 6.67%,#113 0 15%,#112 0 16.67%,#001 0 18.33%,#100 0 20%,#711 0 21.67%,#c22 0 23.33%,#d22 0 30%,#b22 0 31.67%,#611 0 33.33%,#001 0 35%,#238 0 36.67%,#35a 0 38.33%,#37b 0 45%,#35a 0 46.67%,#237 0 48.33%,#200 0 50%,#fd2 0 51.67%,#fea 0 61.67%,#fe2 0 63.33%,#200 0 65%,#6ce 0 66.67%,#ade 0 76.67%,#8ce 0 78.33%,#226 0 80%,#f92 0 81.67%,#fe9 0 83.33%,#fea 0 91.67%,#fe3 0 93.33%,#811 0 95%,#4be 0 96.67%,#ade 0)"></i><i style="background:linear-gradient(#100 0 3.33%,#000 0 5%,#001 0 6.67%,#113 0 16.67%,#001 0 18.33%,#000 0 20%,#511 0 21.67%,#a22 0 23.33%,#d22 0 30%,#b22 0 31.67%,#611 0 33.33%,#100 0 35%,#227 0 36.67%,#34a 0 38.33%,#36b 0 45%,#35a 0 46.67%,#238 0 48.33%,#001 0 50%,#e22 0 51.67%,#fe6 0 53.33%,#fea 0 61.67%,#fe2 0 63.33%,#911 0 65%,#37c 0 66.67%,#ade 0 76.67%,#8ce 0 78.33%,#339 0 80%,#e22 0 81.67%,#fe4 0 83.33%,#fea 0 91.67%,#fe3 0 93.33%,#c22 0 95%,#35b 0 96.67%,#9de 0 98.33%,#ade 0)"></i><i style="background:linear-gradient(#100 0 3.33%,#000 0 5%,#001 0 6.67%,#112 0 8.33%,#113 0 16.67%,#002 0 18.33%,#000 0 20%,#311 0 21.67%,#811 0 23.33%,#b22 0 25%,#c22 0 30%,#a22 0 31.67%,#611 0 33.33%,#200 0 35%,#115 0 36.67%,#349 0 38.33%,#35b 0 40%,#36b 0 45%,#35a 0 46.67%,#238 0 48.33%,#113 0 50%,#d22 0 51.67%,#fe2 0 53.33%,#fe9 0 55%,#fea 0 60%,#fe8 0 61.67%,#fd2 0 63.33%,#c22 0 65%,#349 0 66.67%,#7ce 0 68.33%,#ade 0 76.67%,#7ce 0 78.33%,#34a 0 80%,#a22 0 81.67%,#fd2 0 83.33%,#fe8 0 85%,#fea 0 90%,#fe9 0 91.67%,#fe2 0 93.33%,#d22 0 95%,#238 0 96.67%,#6ce 0 98.33%,#ade 0)"></i><i style="background:linear-gradient(#100 0 3.33%,#000 0 5%,#001 0 6.67%,#112 0 8.33%,#113 0 16.67%,#012 0 18.33%,#001 0 20%,#200 0 21.67%,#611 0 23.33%,#a12 0 25%,#a22 0 30%,#a12 0 31.67%,#611 0 33.33%,#200 0 35%,#113 0 36.67%,#238 0 38.33%,#35a 0 40%,#35b 0 45%,#35a 0 46.67%,#339 0 48.33%,#114 0 50%,#811 0 51.67%,#f82 0 53.33%,#fe4 0 55%,#fe7 0 60%,#fe6 0 61.67%,#fd2 0 63.33%,#d22 0 65%,#226 0 66.67%,#3ad 0 68.33%,#9de 0 70%,#ade 0 76.67%,#6ce 0 78.33%,#35a 0 80%,#411 0 81.67%,#e42 0 83.33%,#fe3 0 85%,#fe7 0 90%,#fe6 0 91.67%,#fe2 0 93.33%,#e22 0 95%,#113 0 96.67%,#38d 0 98.33%,#8de 0)"></i><i style="background:linear-gradient(#100 0 3.33%,#000 0 5%,#001 0 6.67%,#012 0 8.33%,#113 0 16.67%,#112 0 18.33%,#001 0 20%,#100 0 21.67%,#511 0 23.33%,#811 0 25%,#a12 0 30%,#911 0 31.67%,#611 0 33.33%,#300 0 35%,#002 0 36.67%,#227 0 38.33%,#34a 0 40%,#35a 0 46.67%,#339 0 48.33%,#126 0 50%,#311 0 51.67%,#e22 0 53.33%,#fe2 0 55%,#fe4 0 61.67%,#fc2 0 63.33%,#e22 0 65%,#002 0 66.67%,#36b 0 68.33%,#5ce 0 70%,#9de 0 75%,#8de 0 76.67%,#5be 0 78.33%,#35a 0 80%,#000 0 81.67%,#e22 0 83.33%,#fd2 0 85%,#fe4 0 91.67%,#fd2 0 93.33%,#e22 0 95%,#100 0 96.67%,#35a 0 98.33%,#4be 0)"></i><i style="background:linear-gradient(#100 0 5%,#000 0 6.67%,#001 0 8.33%,#113 0 18.33%,#001 0 20%,#000 0 21.67%,#311 0 23.33%,#711 0 25%,#911 0 31.67%,#711 0 33.33%,#311 0 35%,#000 0 36.67%,#226 0 38.33%,#339 0 40%,#35a 0 46.67%,#349 0 48.33%,#227 0 50%,#001 0 51.67%,#d22 0 53.33%,#f72 0 55%,#fe2 0 61.67%,#fc2 0 63.33%,#e22 0 65%,#311 0 66.67%,#238 0 68.33%,#38c 0 70%,#5be 0 76.67%,#3ae 0 78.33%,#35b 0 80%,#114 0 81.67%,#b22 0 83.33%,#e42 0 85%,#fe2 0 91.67%,#fd2 0 93.33%,#e22 0 95%,#611 0 96.67%,#238 0 98.33%,#37c 0)"></i><i style="background:linear-gradient(#100 0 5%,#000 0 6.67%,#001 0 8.33%,#112 0 10%,#113 0 18.33%,#012 0 20%,#000 0 21.67%,#200 0 23.33%,#511 0 25%,#811 0 31.67%,#711 0 33.33%,#411 0 35%,#100 0 36.67%,#114 0 38.33%,#238 0 40%,#34a 0 41.67%,#35a 0 46.67%,#34a 0 48.33%,#238 0 50%,#113 0 51.67%,#711 0 53.33%,#e22 0 55%,#f92 0 56.67%,#fc2 0 61.67%,#fa2 0 63.33%,#e22 0 65%,#811 0 66.67%,#114 0 68.33%,#34a 0 70%,#37c 0 71.67%,#39d 0 76.67%,#38c 0 78.33%,#35a 0 80%,#226 0 81.67%,#411 0 83.33%,#e22 0 85%,#f82 0 86.67%,#fc2 0 91.67%,#fb2 0 93.33%,#e22 0 95%,#a12 0 96.67%,#113 0 98.33%,#349 0)"></i><i style="background:linear-gradient(#100 0 5%,#000 0 8.33%,#012 0 10%,#113 0 18.33%,#112 0 20%,#001 0 21.67%,#100 0 23.33%,#311 0 25%,#611 0 26.67%,#711 0 33.33%,#511 0 35%,#200 0 36.67%,#001 0 38.33%,#227 0 40%,#349 0 41.67%,#35a 0 48.33%,#339 0 50%,#125 0 51.67%,#200 0 53.33%,#c22 0 55%,#e22 0 56.67%,#e52 0 61.67%,#e42 0 63.33%,#e22 0 65%,#a12 0 66.67%,#000 0 68.33%,#227 0 70%,#34a 0 71.67%,#36b 0 76.67%,#35b 0 78.33%,#34a 0 80%,#227 0 81.67%,#000 0 83.33%,#a22 0 85%,#e22 0 86.67%,#e52 0 93.33%,#e22 0 95%,#b22 0 96.67%,#100 0 98.33%,#227 0)"></i><i style="background:linear-gradient(#100 0 6.67%,#000 0 8.33%,#001 0 10%,#113 0 20%,#001 0 21.67%,#000 0 23.33%,#200 0 25%,#511 0 26.67%,#711 0 33.33%,#511 0 35%,#311 0 36.67%,#000 0 38.33%,#125 0 40%,#239 0 41.67%,#34a 0 43.33%,#35a 0 48.33%,#349 0 50%,#227 0 51.67%,#001 0 53.33%,#711 0 55%,#d22 0 56.67%,#e22 0 65%,#b22 0 66.67%,#200 0 68.33%,#115 0 70%,#239 0 71.67%,#35a 0 78.33%,#34a 0 80%,#238 0 81.67%,#112 0 83.33%,#511 0 85%,#d22 0 86.67%,#e22 0 95%,#b22 0 96.67%,#311 0 98.33%,#114 0)"></i><i style="background:linear-gradient(#100 0 6.67%,#000 0 8.33%,#001 0 10%,#112 0 11.67%,#113 0 20%,#012 0 21.67%,#001 0 23.33%,#100 0 25%,#411 0 26.67%,#611 0 28.33%,#711 0 33.33%,#611 0 35%,#311 0 36.67%,#100 0 38.33%,#113 0 40%,#238 0 41.67%,#34a 0 50%,#238 0 51.67%,#113 0 53.33%,#311 0 55%,#a22 0 56.67%,#d22 0 58.33%,#e22 0 65%,#b22 0 66.67%,#411 0 68.33%,#112 0 70%,#227 0 71.67%,#34a 0 73.33%,#35a 0 78.33%,#34a 0 80%,#238 0 81.67%,#114 0 83.33%,#200 0 85%,#911 0 86.67%,#d22 0 88.33%,#e22 0 95%,#c22 0 96.67%,#511 0 98.33%,#001 0)"></i><i style="background:linear-gradient(#100 0 6.67%,#000 0 10%,#001 0 11.67%,#112 0 13.33%,#113 0 20%,#012 0 21.67%,#001 0 23.33%,#100 0 25%,#311 0 26.67%,#511 0 28.33%,#611 0 35%,#411 0 36.67%,#200 0 38.33%,#001 0 40%,#226 0 41.67%,#339 0 43.33%,#34a 0 50%,#238 0 51.67%,#125 0 53.33%,#000 0 55%,#711 0 56.67%,#c22 0 58.33%,#d22 0 60%,#e22 0 63.33%,#d22 0 65%,#c22 0 66.67%,#711 0 68.33%,#000 0 70%,#126 0 71.67%,#339 0 73.33%,#34a 0 80%,#339 0 81.67%,#226 0 83.33%,#000 0 85%,#611 0 86.67%,#c22 0 88.33%,#d22 0 90%,#e22 0 93.33%,#d22 0 96.67%,#811 0 98.33%,#100 0)"></i><i style="background:linear-gradient(#100 0 8.33%,#000 0 10%,#001 0 11.67%,#002 0 13.33%,#112 0 20%,#012 0 21.67%,#001 0 23.33%,#000 0 25%,#200 0 26.67%,#411 0 28.33%,#611 0 35%,#511 0 36.67%,#300 0 38.33%,#000 0 40%,#114 0 41.67%,#238 0 43.33%,#34a 0 50%,#339 0 51.67%,#227 0 53.33%,#002 0 55%,#411 0 56.67%,#a22 0 58.33%,#d22 0 66.67%,#811 0 68.33%,#200 0 70%,#113 0 71.67%,#237 0 73.33%,#349 0 75%,#34a 0 80%,#339 0 81.67%,#227 0 83.33%,#112 0 85%,#311 0 86.67%,#a12 0 88.33%,#d22 0 96.67%,#911 0 98.33%,#311 0)"></i><i style="background:linear-gradient(#100 0 8.33%,#000 0 10%,#001 0 13.33%,#112 0 20%,#012 0 21.67%,#001 0 23.33%,#000 0 25%,#100 0 26.67%,#311 0 28.33%,#511 0 30%,#611 0 35%,#511 0 36.67%,#311 0 38.33%,#100 0 40%,#112 0 41.67%,#227 0 43.33%,#349 0 45%,#34a 0 50%,#349 0 51.67%,#237 0 53.33%,#113 0 55%,#200 0 56.67%,#811 0 58.33%,#c22 0 60%,#d22 0 66.67%,#911 0 68.33%,#411 0 70%,#002 0 71.67%,#226 0 73.33%,#339 0 75%,#349 0 81.67%,#238 0 83.33%,#114 0 85%,#100 0 86.67%,#711 0 88.33%,#b22 0 90%,#d22 0 96.67%,#a22 0 98.33%,#411 0)"></i><i style="background:linear-gradient(#100 0 8.33%,#000 0 11.67%,#001 0 13.33%,#012 0 15%,#112 0 21.67%,#002 0 23.33%,#001 0 25%,#000 0 26.67%,#200 0 28.33%,#411 0 30%,#611 0 35%,#511 0 36.67%,#411 0 38.33%,#200 0 40%,#001 0 41.67%,#126 0 43.33%,#238 0 45%,#349 0 46.67%,#34a 0 50%,#349 0 51.67%,#238 0 53.33%,#125 0 55%,#000 0 56.67%,#511 0 58.33%,#a12 0 60%,#c22 0 66.67%,#a12 0 68.33%,#511 0 70%,#000 0 71.67%,#115 0 73.33%,#238 0 75%,#349 0 81.67%,#238 0 83.33%,#125 0 85%,#001 0 86.67%,#411 0 88.33%,#911 0 90%,#c22 0 96.67%,#a22 0 98.33%,#611 0)"></i><i style="background:linear-gradient(#100 0 10%,#000 0 11.67%,#001 0 13.33%,#002 0 15%,#112 0 21.67%,#012 0 23.33%,#001 0 25%,#000 0 26.67%,#200 0 28.33%,#311 0 30%,#511 0 36.67%,#411 0 38.33%,#200 0 40%,#000 0 41.67%,#114 0 43.33%,#237 0 45%,#349 0 51.67%,#339 0 53.33%,#227 0 55%,#002 0 56.67%,#311 0 58.33%,#811 0 60%,#b22 0 66.67%,#a22 0 68.33%,#611 0 70%,#200 0 71.67%,#113 0 73.33%,#227 0 75%,#339 0 76.67%,#349 0 81.67%,#339 0 83.33%,#227 0 85%,#112 0 86.67%,#200 0 88.33%,#711 0 90%,#a22 0 91.67%,#b22 0 96.67%,#a22 0 98.33%,#711 0)"></i><i style="background:linear-gradient(#100 0 10%,#000 0 13.33%,#001 0 15%,#112 0 23.33%,#001 0 25%,#000 0 26.67%,#100 0 28.33%,#311 0 30%,#411 0 31.67%,#511 0 38.33%,#311 0 40%,#100 0 41.67%,#012 0 43.33%,#227 0 45%,#339 0 46.67%,#349 0 51.67%,#339 0 53.33%,#227 0 55%,#113 0 56.67%,#100 0 58.33%,#611 0 60%,#a12 0 61.67%,#b22 0 66.67%,#a22 0 68.33%,#811 0 70%,#311 0 71.67%,#001 0 73.33%,#126 0 75%,#238 0 76.67%,#339 0 83.33%,#237 0 85%,#114 0 86.67%,#100 0 88.33%,#511 0 90%,#911 0 91.67%,#b22 0 98.33%,#811 0)"></i><i style="background:linear-gradient(#100 0 10%,#000 0 13.33%,#001 0 15%,#012 0 16.67%,#112 0 23.33%,#002 0 25%,#001 0 26.67%,#000 0 28.33%,#200 0 30%,#411 0 31.67%,#511 0 38.33%,#311 0 40%,#200 0 41.67%,#000 0 43.33%,#115 0 45%,#238 0 46.67%,#339 0 48.33%,#349 0 53.33%,#238 0 55%,#125 0 56.67%,#000 0 58.33%,#411 0 60%,#811 0 61.67%,#a22 0 63.33%,#b22 0 68.33%,#911 0 70%,#411 0 71.67%,#000 0 73.33%,#114 0 75%,#227 0 76.67%,#339 0 83.33%,#238 0 85%,#125 0 86.67%,#001 0 88.33%,#311 0 90%,#811 0 91.67%,#a22 0 93.33%,#b22 0 98.33%,#911 0)"></i><i style="background:linear-gradient(#100 0 11.67%,#000 0 13.33%,#001 0 15%,#002 0 16.67%,#112 0 23.33%,#012 0 25%,#001 0 26.67%,#000 0 28.33%,#100 0 30%,#311 0 31.67%,#411 0 33.33%,#511 0 38.33%,#411 0 40%,#200 0 41.67%,#100 0 43.33%,#113 0 45%,#227 0 46.67%,#339 0 53.33%,#238 0 55%,#226 0 56.67%,#012 0 58.33%,#200 0 60%,#711 0 61.67%,#a12 0 63.33%,#a22 0 68.33%,#a12 0 70%,#611 0 71.67%,#200 0 73.33%,#112 0 75%,#226 0 76.67%,#238 0 78.33%,#339 0 83.33%,#238 0 85%,#227 0 86.67%,#112 0 88.33%,#200 0 90%,#611 0 91.67%,#a12 0 93.33%,#a22 0 98.33%,#a12 0)"></i><i style="background:linear-gradient(#100 0 11.67%,#000 0 15%,#001 0 16.67%,#012 0 18.33%,#112 0 25%,#001 0 28.33%,#100 0 30%,#200 0 31.67%,#411 0 40%,#311 0 41.67%,#100 0 43.33%,#001 0 45%,#226 0 46.67%,#238 0 48.33%,#339 0 53.33%,#239 0 55%,#227 0 56.67%,#113 0 58.33%,#100 0 60%,#511 0 61.67%,#911 0 63.33%,#a22 0 68.33%,#a12 0 70%,#711 0 71.67%,#311 0 73.33%,#001 0 75%,#125 0 76.67%,#238 0 85%,#227 0 86.67%,#114 0 88.33%,#000 0 90%,#411 0 91.67%,#811 0 93.33%,#a22 0)"></i><i style="background:linear-gradient(#100 0 11.67%,#000 0 15%,#001 0 16.67%,#012 0 18.33%,#112 0 25%,#002 0 26.67%,#001 0 28.33%,#000 0 30%,#200 0 31.67%,#311 0 33.33%,#411 0 40%,#311 0 41.67%,#200 0 43.33%,#000 0 45%,#114 0 46.67%,#227 0 48.33%,#239 0 50%,#339 0 55%,#238 0 56.67%,#115 0 58.33%,#001 0 60%,#311 0 61.67%,#711 0 63.33%,#a12 0 65%,#a22 0 68.33%,#a12 0 70%,#811 0 71.67%,#411 0 73.33%,#100 0 75%,#113 0 76.67%,#227 0 78.33%,#238 0 86.67%,#125 0 88.33%,#001 0 90%,#311 0 91.67%,#711 0 93.33%,#a12 0 95%,#a22 0)"></i><i style="background:linear-gradient(#000 0 1.67%,#100 0 13.33%,#000 0 15%,#001 0 18.33%,#112 0 25%,#012 0 26.67%,#001 0 28.33%,#000 0 30%,#100 0 31.67%,#311 0 33.33%,#411 0 41.67%,#200 0 43.33%,#100 0 45%,#113 0 46.67%,#226 0 48.33%,#238 0 56.67%,#226 0 58.33%,#012 0 60%,#200 0 61.67%,#611 0 63.33%,#911 0 65%,#a12 0 70%,#911 0 71.67%,#611 0 73.33%,#200 0 75%,#012 0 76.67%,#126 0 78.33%,#238 0 86.67%,#226 0 88.33%,#112 0 90%,#100 0 91.67%,#511 0 93.33%,#911 0 95%,#a12 0)"></i><i style="background:linear-gradient(#000 0 1.67%,#100 0 13.33%,#000 0 16.67%,#001 0 18.33%,#012 0 20%,#112 0 26.67%,#001 0 30%,#100 0 31.67%,#200 0 33.33%,#311 0 35%,#411 0 41.67%,#311 0 43.33%,#100 0 45%,#001 0 46.67%,#125 0 48.33%,#237 0 50%,#238 0 56.67%,#227 0 58.33%,#113 0 60%,#100 0 61.67%,#411 0 63.33%,#811 0 65%,#a12 0 70%,#911 0 71.67%,#711 0 73.33%,#311 0 75%,#000 0 76.67%,#114 0 78.33%,#227 0 80%,#238 0 86.67%,#227 0 88.33%,#114 0 90%,#000 0 91.67%,#311 0 93.33%,#711 0 95%,#911 0 96.67%,#a12 0)"></i><i style="background:linear-gradient(#000 0 1.67%,#100 0 15%,#000 0 16.67%,#001 0 18.33%,#002 0 20%,#112 0 26.67%,#002 0 28.33%,#001 0 30%,#000 0 31.67%,#200 0 33.33%,#311 0 35%,#411 0 41.67%,#311 0 43.33%,#200 0 45%,#000 0 46.67%,#114 0 48.33%,#227 0 50%,#238 0 56.67%,#227 0 58.33%,#115 0 60%,#001 0 61.67%,#311 0 63.33%,#611 0 65%,#911 0 71.67%,#811 0 73.33%,#411 0 75%,#100 0 76.67%,#113 0 78.33%,#226 0 80%,#238 0 86.67%,#227 0 88.33%,#115 0 90%,#001 0 91.67%,#200 0 93.33%,#611 0 95%,#911 0)"></i><i style="background:linear-gradient(#000 0 3.33%,#100 0 15%,#000 0 16.67%,#001 0 20%,#112 0 26.67%,#012 0 28.33%,#001 0 30%,#000 0 31.67%,#100 0 33.33%,#200 0 35%,#411 0 41.67%,#311 0 43.33%,#200 0 45%,#100 0 46.67%,#112 0 48.33%,#226 0 50%,#238 0 58.33%,#226 0 60%,#112 0 61.67%,#200 0 63.33%,#511 0 65%,#811 0 66.67%,#911 0 73.33%,#511 0 75%,#200 0 76.67%,#002 0 78.33%,#125 0 80%,#227 0 81.67%,#238 0 88.33%,#226 0 90%,#112 0 91.67%,#100 0 93.33%,#411 0 95%,#811 0 96.67%,#911 0)"></i><i style="background:linear-gradient(#000 0 3.33%,#100 0 15%,#000 0 18.33%,#001 0 20%,#012 0 21.67%,#112 0 28.33%,#001 0 31.67%,#000 0 33.33%,#200 0 35%,#311 0 36.67%,#411 0 43.33%,#300 0 45%,#100 0 46.67%,#001 0 48.33%,#114 0 50%,#227 0 51.67%,#238 0 58.33%,#227 0 60%,#113 0 61.67%,#000 0 63.33%,#411 0 65%,#711 0 66.67%,#911 0 73.33%,#711 0 75%,#311 0 76.67%,#000 0 78.33%,#114 0 80%,#227 0 81.67%,#238 0 88.33%,#227 0 90%,#114 0 91.67%,#000 0 93.33%,#311 0 95%,#711 0 96.67%,#911 0)"></i><i style="background:linear-gradient(#000 0 3.33%,#100 0 16.67%,#000 0 18.33%,#001 0 20%,#002 0 21.67%,#112 0 28.33%,#002 0 30%,#001 0 31.67%,#000 0 33.33%,#100 0 35%,#311 0 36.67%,#411 0 43.33%,#311 0 45%,#200 0 46.67%,#000 0 48.33%,#113 0 50%,#227 0 51.67%,#238 0 58.33%,#227 0 60%,#115 0 61.67%,#001 0 63.33%,#200 0 65%,#611 0 66.67%,#911 0 73.33%,#811 0 75%,#411 0 76.67%,#100 0 78.33%,#112 0 80%,#226 0 81.67%,#237 0 83.33%,#238 0 88.33%,#227 0 90%,#115 0 91.67%,#001 0 93.33%,#200 0 95%,#511 0 96.67%,#811 0 98.33%,#911 0)"></i><i style="background:linear-gradient(#001 0 1.67%,#000 0 5%,#100 0 16.67%,#000 0 18.33%,#001 0 21.67%,#112 0 28.33%,#012 0 30%,#001 0 31.67%,#000 0 33.33%,#100 0 35%,#200 0 36.67%,#311 0 38.33%,#411 0 43.33%,#311 0 45%,#200 0 46.67%,#100 0 48.33%,#012 0 50%,#125 0 51.67%,#237 0 53.33%,#238 0 58.33%,#237 0 60%,#126 0 61.67%,#112 0 63.33%,#100 0 65%,#411 0 66.67%,#811 0 68.33%,#911 0 73.33%,#811 0 75%,#511 0 76.67%,#200 0 78.33%,#001 0 80%,#115 0 81.67%,#227 0 83.33%,#238 0 88.33%,#237 0 90%,#226 0 91.67%,#113 0 93.33%,#100 0 95%,#411 0 96.67%,#711 0 98.33%,#911 0)"></i><i style="background:linear-gradient(#001 0 1.67%,#000 0 5%,#100 0 16.67%,#000 0 20%,#001 0 21.67%,#012 0 23.33%,#112 0 30%,#002 0 31.67%,#001 0 33.33%,#000 0 35%,#200 0 36.67%,#311 0 38.33%,#411 0 45%,#311 0 46.67%,#100 0 48.33%,#001 0 50%,#114 0 51.67%,#227 0 53.33%,#238 0 60%,#227 0 61.67%,#113 0 63.33%,#000 0 65%,#311 0 66.67%,#711 0 68.33%,#911 0 75%,#611 0 76.67%,#311 0 78.33%,#000 0 80%,#113 0 81.67%,#226 0 83.33%,#237 0 85%,#238 0 90%,#227 0 91.67%,#114 0 93.33%,#000 0 95%,#311 0 96.67%,#611 0 98.33%,#811 0)"></i><i style="background:linear-gradient(#001 0 1.67%,#000 0 5%,#100 0 18.33%,#000 0 20%,#001 0 21.67%,#002 0 23.33%,#112 0 30%,#012 0 31.67%,#001 0 33.33%,#000 0 35%,#100 0 36.67%,#311 0 38.33%,#411 0 45%,#311 0 46.67%,#200 0 48.33%,#000 0 50%,#113 0 51.67%,#226 0 53.33%,#237 0 55%,#238 0 60%,#227 0 61.67%,#114 0 63.33%,#001 0 65%,#200 0 66.67%,#511 0 68.33%,#811 0 70%,#911 0 75%,#711 0 76.67%,#411 0 78.33%,#100 0 80%,#112 0 81.67%,#125 0 83.33%,#227 0 85%,#237 0 90%,#227 0 91.67%,#115 0 93.33%,#002 0 95%,#200 0 96.67%,#511 0 98.33%,#811 0)"></i><i style="background:linear-gradient(#001 0 3.33%,#000 0 6.67%,#100 0 18.33%,#000 0 20%,#001 0 23.33%,#112 0 31.67%,#001 0 33.33%,#000 0 35%,#100 0 36.67%,#200 0 38.33%,#311 0 40%,#411 0 45%,#311 0 46.67%,#200 0 48.33%,#100 0 50%,#001 0 51.67%,#115 0 53.33%,#227 0 55%,#238 0 60%,#227 0 61.67%,#125 0 63.33%,#112 0 65%,#100 0 66.67%,#411 0 68.33%,#711 0 70%,#811 0 76.67%,#511 0 78.33%,#200 0 80%,#001 0 81.67%,#114 0 83.33%,#227 0 85%,#237 0 90%,#227 0 91.67%,#226 0 93.33%,#113 0 95%,#100 0 96.67%,#311 0 98.33%,#711 0)"></i><i style="background:linear-gradient(#001 0 3.33%,#000 0 6.67%,#100 0 18.33%,#000 0 21.67%,#001 0 23.33%,#012 0 25%,#112 0 31.67%,#002 0 33.33%,#001 0 35%,#000 0 36.67%,#200 0 38.33%,#311 0 40%,#411 0 46.67%,#311 0 48.33%,#100 0 50%,#000 0 51.67%,#114 0 53.33%,#226 0 55%,#237 0 61.67%,#226 0 63.33%,#113 0 65%,#000 0 66.67%,#311 0 68.33%,#611 0 70%,#811 0 76.67%,#611 0 78.33%,#311 0 80%,#000 0 81.67%,#113 0 83.33%,#226 0 85%,#227 0 86.67%,#237 0 90%,#227 0 91.67%,#226 0 93.33%,#114 0 95%,#001 0 96.67%,#200 0 98.33%,#511 0)"></i><i style="background:linear-gradient(#001 0 5%,#000 0 6.67%,#100 0 20%,#000 0 21.67%,#001 0 23.33%,#002 0 25%,#112 0 31.67%,#012 0 33.33%,#001 0 35%,#000 0 36.67%,#100 0 38.33%,#300 0 40%,#411 0 46.67%,#311 0 48.33%,#200 0 50%,#000 0 51.67%,#112 0 53.33%,#125 0 55%,#227 0 56.67%,#237 0 61.67%,#227 0 63.33%,#114 0 65%,#001 0 66.67%,#200 0 68.33%,#511 0 70%,#711 0 71.67%,#811 0 76.67%,#711 0 78.33%,#411 0 80%,#100 0 81.67%,#012 0 83.33%,#125 0 85%,#227 0 93.33%,#115 0 95%,#002 0 96.67%,#100 0 98.33%,#411 0)"></i><i style="background:linear-gradient(#001 0 5%,#000 0 8.33%,#100 0 20%,#000 0 23.33%,#001 0 25%,#112 0 33.33%,#001 0 36.67%,#100 0 38.33%,#200 0 40%,#311 0 41.67%,#411 0 48.33%,#200 0 50%,#100 0 51.67%,#001 0 53.33%,#114 0 55%,#227 0 63.33%,#125 0 65%,#112 0 66.67%,#100 0 68.33%,#311 0 70%,#611 0 71.67%,#811 0 76.67%,#711 0 78.33%,#511 0 80%,#200 0 81.67%,#001 0 83.33%,#114 0 85%,#226 0 86.67%,#227 0 93.33%,#126 0 95%,#113 0 96.67%,#000 0 98.33%,#311 0)"></i><i style="background:linear-gradient(#001 0 5%,#000 0 8.33%,#100 0 20%,#000 0 23.33%,#001 0 25%,#012 0 26.67%,#112 0 33.33%,#002 0 35%,#001 0 36.67%,#000 0 38.33%,#200 0 40%,#311 0 41.67%,#411 0 48.33%,#311 0 50%,#200 0 51.67%,#000 0 53.33%,#113 0 55%,#226 0 56.67%,#227 0 63.33%,#226 0 65%,#113 0 66.67%,#000 0 68.33%,#300 0 70%,#511 0 71.67%,#711 0 73.33%,#811 0 78.33%,#611 0 80%,#311 0 81.67%,#000 0 83.33%,#113 0 85%,#125 0 86.67%,#227 0 93.33%,#226 0 95%,#114 0 96.67%,#001 0 98.33%,#200 0)"></i><i style="background:linear-gradient(#001 0 6.67%,#000 0 10%,#100 0 21.67%,#000 0 23.33%,#001 0 25%,#002 0 26.67%,#112 0 33.33%,#012 0 35%,#001 0 36.67%,#000 0 38.33%,#100 0 40%,#300 0 41.67%,#411 0 48.33%,#311 0 50%,#200 0 51.67%,#100 0 53.33%,#112 0 55%,#115 0 56.67%,#227 0 65%,#114 0 66.67%,#001 0 68.33%,#200 0 70%,#411 0 71.67%,#711 0 80%,#411 0 81.67%,#100 0 83.33%,#002 0 85%,#114 0 86.67%,#227 0 95%,#115 0 96.67%,#002 0 98.33%,#100 0)"></i><i style="background:linear-gradient(#001 0 6.67%,#000 0 10%,#100 0 21.67%,#000 0 25%,#001 0 26.67%,#012 0 28.33%,#112 0 35%,#001 0 38.33%,#100 0 40%,#200 0 41.67%,#311 0 43.33%,#411 0 50%,#300 0 51.67%,#100 0 53.33%,#001 0 55%,#114 0 56.67%,#226 0 58.33%,#227 0 65%,#125 0 66.67%,#112 0 68.33%,#100 0 70%,#311 0 71.67%,#611 0 73.33%,#711 0 80%,#511 0 81.67%,#200 0 83.33%,#000 0 85%,#113 0 86.67%,#226 0 88.33%,#227 0 95%,#125 0 96.67%,#113 0 98.33%,#000 0)"></i><i style="background:linear-gradient(#001 0 6.67%,#000 0 10%,#100 0 23.33%,#000 0 25%,#001 0 26.67%,#002 0 28.33%,#112 0 35%,#002 0 36.67%,#001 0 38.33%,#000 0 40%,#200 0 41.67%,#311 0 43.33%,#411 0 50%,#311 0 51.67%,#200 0 53.33%,#000 0 55%,#113 0 56.67%,#125 0 58.33%,#227 0 65%,#226 0 66.67%,#113 0 68.33%,#000 0 70%,#200 0 71.67%,#511 0 73.33%,#711 0 80%,#611 0 81.67%,#311 0 83.33%,#000 0 85%,#112 0 86.67%,#125 0 88.33%,#227 0 95%,#226 0 96.67%,#114 0 98.33%,#001 0)"></i><i style="background:linear-gradient(#001 0 8.33%,#000 0 11.67%,#100 0 23.33%,#000 0 25%,#001 0 28.33%,#112 0 35%,#012 0 36.67%,#001 0 38.33%,#000 0 40%,#100 0 41.67%,#200 0 43.33%,#411 0 50%,#311 0 51.67%,#200 0 53.33%,#100 0 55%,#002 0 56.67%,#114 0 58.33%,#226 0 60%,#227 0 65%,#226 0 66.67%,#114 0 68.33%,#001 0 70%,#100 0 71.67%,#411 0 73.33%,#611 0 75%,#711 0 80%,#611 0 81.67%,#411 0 83.33%,#100 0 85%,#001 0 86.67%,#114 0 88.33%,#226 0 90%,#227 0 96.67%,#114 0 98.33%,#012 0)"></i><i style="background:linear-gradient(#001 0 8.33%,#000 0 11.67%,#100 0 23.33%,#000 0 26.67%,#001 0 28.33%,#012 0 30%,#112 0 36.67%,#001 0 40%,#000 0 41.67%,#200 0 43.33%,#311 0 45%,#411 0 51.67%,#300 0 53.33%,#100 0 55%,#001 0 56.67%,#113 0 58.33%,#126 0 60%,#227 0 66.67%,#115 0 68.33%,#112 0 70%,#000 0 71.67%,#311 0 73.33%,#511 0 75%,#711 0 80%,#611 0 81.67%,#511 0 83.33%,#200 0 85%,#000 0 86.67%,#113 0 88.33%,#125 0 90%,#227 0 96.67%,#125 0 98.33%,#113 0)"></i><i style="background:linear-gradient(#001 0 8.33%,#000 0 11.67%,#100 0 25%,#000 0 26.67%,#001 0 28.33%,#002 0 30%,#112 0 36.67%,#002 0 38.33%,#001 0 40%,#000 0 41.67%,#100 0 43.33%,#311 0 45%,#411 0 51.67%,#311 0 53.33%,#200 0 55%,#000 0 56.67%,#112 0 58.33%,#115 0 60%,#226 0 61.67%,#227 0 66.67%,#125 0 68.33%,#113 0 70%,#001 0 71.67%,#200 0 73.33%,#411 0 75%,#611 0 81.67%,#511 0 83.33%,#311 0 85%,#100 0 86.67%,#112 0 88.33%,#115 0 90%,#226 0 91.67%,#227 0 96.67%,#226 0 98.33%,#114 0)"></i></div>
<svg width="1725" height="1071" viewBox="0 0 1725 1071">
<defs>
<filter id="spk" filterUnits="userSpaceOnUse" x="0" y="0" width="1620" height="665" color-interpolation-filters="sRGB">
<feTurbulence type="fractalNoise" baseFrequency="0.37" numOctaves="2" seed="7" result="n"/>
<feColorMatrix in="n" type="matrix" values="1.2 0 0 0 -0.1  1.2 0 0 0 -0.1  1.2 0 0 0 -0.1  0 0 0 0 1" result="g"/>
<feGaussianBlur in="SourceGraphic" stdDeviation="0.7" result="bl"/>
<feComposite in="bl" in2="g" operator="arithmetic" k1="2" k2="0" k3="0" k4="0" result="m"/>
<feComposite in="m" in2="bl" operator="in" result="mm"/>
<feGaussianBlur in="mm" stdDeviation="0.45"/>
</filter>
<filter id="spk2" filterUnits="userSpaceOnUse" x="0" y="220" width="1620" height="445" color-interpolation-filters="sRGB">
<feGaussianBlur in="SourceGraphic" stdDeviation="1.1" result="bl"/>
<feTurbulence type="fractalNoise" baseFrequency="0.37" numOctaves="2" seed="11" result="n"/>
<feColorMatrix in="n" type="matrix" values="0.42 0 0 0 0.29  0.42 0 0 0 0.29  0.42 0 0 0 0.29  0 0 0 0 1" result="g"/>
<feComposite in="bl" in2="g" operator="arithmetic" k1="2" k2="0" k3="0" k4="0" result="m"/>
<feComposite in="m" in2="bl" operator="in" result="mm"/>
<feGaussianBlur in="mm" stdDeviation="0.4"/>
</filter>
<filter id="spk3" filterUnits="userSpaceOnUse" x="0" y="220" width="1620" height="445" color-interpolation-filters="sRGB">
<feGaussianBlur in="SourceGraphic" stdDeviation="1.5" result="bl"/>
<feTurbulence type="fractalNoise" baseFrequency="0.3" numOctaves="2" seed="23" result="n"/>
<feColorMatrix in="n" type="matrix" values="2.2 0 0 0 -0.6  0.6 0 0.6 0 -0.1  0 0 2.2 0 -0.6  0 0 0 0 1" result="g"/>
<feComposite in="bl" in2="g" operator="arithmetic" k1="2" k2="0" k3="0" k4="0" result="m"/>
<feComposite in="m" in2="bl" operator="in" result="mm"/>
<feGaussianBlur in="mm" stdDeviation="0.5"/>
</filter>
<clipPath id="pa"><rect x="3.5" y="4" width="1612" height="202.6"/></clipPath>
<linearGradient id="shd" x1="0" y1="0" x2="0" y2="1"><stop offset="0" stop-color="#000" stop-opacity="0"/><stop offset=".2" stop-color="#000" stop-opacity=".08"/><stop offset=".55" stop-color="#000" stop-opacity=".45"/><stop offset="1" stop-color="#000" stop-opacity=".8"/></linearGradient>
<linearGradient id="ga1" gradientUnits="userSpaceOnUse" x1="5" y1="0" x2="512" y2="0"><stop offset="0.000" stop-color="#414141"/><stop offset="0.069" stop-color="#646464"/><stop offset="0.227" stop-color="#7c7c7c"/><stop offset="0.503" stop-color="#8a8a8a"/><stop offset="0.779" stop-color="#7c7c7c"/><stop offset="0.917" stop-color="#646464"/><stop offset="1.000" stop-color="#414141"/></linearGradient>
<linearGradient id="ga2" gradientUnits="userSpaceOnUse" x1="558" y1="0" x2="1046" y2="0"><stop offset="0.000" stop-color="#505050"/><stop offset="0.066" stop-color="#8c8c8c"/><stop offset="0.189" stop-color="#b4b4b4"/><stop offset="0.291" stop-color="#cdcdcd"/><stop offset="0.422" stop-color="#d7d7d7"/><stop offset="0.439" stop-color="#afafaf"/><stop offset="0.701" stop-color="#a0a0a0"/><stop offset="0.906" stop-color="#828282"/><stop offset="1.000" stop-color="#464646"/></linearGradient>
<linearGradient id="ga3" gradientUnits="userSpaceOnUse" x1="1090" y1="0" x2="1588" y2="0"><stop offset="0.000" stop-color="#555"/><stop offset="0.100" stop-color="#969696"/><stop offset="0.321" stop-color="#cdcdcd"/><stop offset="0.622" stop-color="#eee"/><stop offset="0.823" stop-color="#d4d4d4"/><stop offset="0.964" stop-color="#a0a0a0"/><stop offset="1.000" stop-color="#5f5f5f"/></linearGradient>
<linearGradient id="fd1" gradientUnits="userSpaceOnUse" x1="4" y1="94" x2="33.7" y2="64.3"><stop offset="0" stop-color="#000" stop-opacity="1.0"/><stop offset="1" stop-color="#000" stop-opacity="0"/></linearGradient>
<linearGradient id="fd2" gradientUnits="userSpaceOnUse" x1="488" y1="162" x2="457.4" y2="147.1"><stop offset="0" stop-color="#000" stop-opacity="1.0"/><stop offset="1" stop-color="#000" stop-opacity="0"/></linearGradient>
<linearGradient id="fd3" gradientUnits="userSpaceOnUse" x1="556" y1="84" x2="583.7" y2="72.6"><stop offset="0" stop-color="#000" stop-opacity="0.9"/><stop offset="1" stop-color="#000" stop-opacity="0"/></linearGradient>
<linearGradient id="fd4" gradientUnits="userSpaceOnUse" x1="1030" y1="188" x2="1006.3" y2="177.2"><stop offset="0" stop-color="#000" stop-opacity="1.0"/><stop offset="1" stop-color="#000" stop-opacity="0"/></linearGradient>
<linearGradient id="fd5" gradientUnits="userSpaceOnUse" x1="1084" y1="118" x2="1105.5" y2="107.3"><stop offset="0" stop-color="#000" stop-opacity="0.95"/><stop offset="1" stop-color="#000" stop-opacity="0"/></linearGradient>
<linearGradient id="fd6" gradientUnits="userSpaceOnUse" x1="1571" y1="134" x2="1550.6" y2="125.7"><stop offset="0" stop-color="#000" stop-opacity="0.8"/><stop offset="1" stop-color="#000" stop-opacity="0"/></linearGradient>
<linearGradient id="cba" gradientUnits="userSpaceOnUse" x1="0" y1="3" x2="0" y2="209.5"><stop offset="0.000" stop-color="#f5f5f5"/><stop offset="1.000" stop-color="#060606"/></linearGradient>
<clipPath id="cpb1"><path d="M10.3,322.8L17.3,319.8L24.3,317L31.3,314.1L38.3,311.4L45.3,308.6L52.3,305.9L59.3,303.3L66.3,300.7L73.3,298.2L80.3,295.7L87.3,293.3L94.3,290.9L101.3,288.7L108.3,286.4L115.3,284.3L122.3,282.2L129.3,280.2L136.3,278.2L143.3,276.4L150.3,274.6L157.3,272.9L164.3,271.3L171.3,269.7L178.3,268.2L185.3,266.8L192.3,265.5L199.3,264.3L206.3,263.2L213.3,262.2L220.3,261.2L227.3,260.3L234.3,259.6L241.3,258.9L248.3,258.3L255.3,257.8L262.3,257.4L269.3,257.1L276.3,256.9L283.3,256.8L290.3,256.8L297.3,256.9L304.3,257L311.3,257.3L318.3,257.7L325.3,258.1L332.3,258.7L339.3,259.4L346.3,260.1L353.3,261L360.3,262L367.3,263L374.3,264.2L381.3,265.4L388.3,266.8L395.3,268.2L402.3,269.8L409.3,271.4L416.3,273.1L423.3,275L430.3,276.9L437.3,278.9L444.3,281L451.3,283.2L458.3,285.5L465.3,287.8L472.3,290.3L479.3,292.8L486.3,295.5L493.3,298.2L500.3,301L507.3,303.8L514.3,306.8L495,381.1L488,379.1L481.1,377.1L474.1,375.1L467.1,373.1L460.2,371L453.2,369L446.3,367.1L439.3,365.2L432.3,363.3L425.4,361.4L418.4,359.6L411.4,357.9L404.5,356.3L397.5,354.7L390.5,353.2L383.6,351.8L376.6,350.4L369.6,349.2L362.7,348L355.7,346.9L348.8,345.9L341.8,345.1L334.8,344.3L327.9,343.6L320.9,343L313.9,342.5L307,342.1L300,341.8L293,341.6L286.1,341.5L279.1,341.5L272.1,341.6L265.2,341.8L258.2,342.1L251.3,342.5L244.3,342.9L237.3,343.5L230.4,344.1L223.4,344.9L216.4,345.7L209.5,346.6L202.5,347.6L195.5,348.6L188.6,349.8L181.6,351L174.7,352.3L167.7,353.6L160.7,355.1L153.8,356.6L146.8,358.1L139.8,359.8L132.9,361.5L125.9,363.2L118.9,365L112,366.9L105,368.9L98,370.9L91.1,372.9L84.1,375.1L77.2,377.2L70.2,379.5L63.2,381.8L56.3,384.2L49.3,386.6Z"/></clipPath>
<clipPath id="cpb2"><path d="M562.2,308.3L569.2,304.6L576.3,301L583.3,297.5L590.3,294.1L597.4,290.8L604.4,287.6L611.4,284.6L618.5,281.7L625.5,279L632.5,276.4L639.6,274L646.6,271.8L653.6,269.7L660.7,267.9L667.7,266.2L674.7,264.7L681.8,263.4L688.8,262.2L695.8,261.2L702.9,260.4L709.9,259.8L716.9,259.4L724,259.1L731,258.9L738,259L745.1,259.2L752.1,259.5L759.1,260L766.2,260.5L773.2,261.3L780.2,262.1L787.3,263.1L794.3,264.1L801.3,265.3L808.4,266.6L815.4,267.9L822.4,269.4L829.5,270.9L836.5,272.4L843.5,274.1L850.6,275.8L857.6,277.5L864.6,279.3L871.7,281.1L878.7,283L885.7,284.9L892.8,286.9L899.8,288.9L906.8,290.9L913.9,292.9L920.9,295L927.9,297.1L935,299.2L942,301.4L949,303.7L956.1,305.9L963.1,308.3L970.1,310.6L977.2,313.1L984.2,315.6L991.2,318.3L998.3,321L1005.3,323.8L1012.3,326.8L1019.4,329.9L1026.4,333.2L1033.4,336.7L1040.5,340.4L1047.5,344.3L1035.6,403.1L1028.6,400.8L1021.6,398.3L1014.6,395.8L1007.5,393.1L1000.5,390.5L993.5,387.8L986.5,385.1L979.5,382.4L972.5,379.8L965.5,377.2L958.4,374.6L951.4,372.2L944.4,369.8L937.4,367.5L930.4,365.3L923.4,363.2L916.4,361.2L909.4,359.4L902.3,357.6L895.3,356L888.3,354.6L881.3,353.2L874.3,352L867.3,350.9L860.3,349.9L853.2,349.1L846.2,348.4L839.2,347.8L832.2,347.3L825.2,346.9L818.2,346.7L811.2,346.5L804.1,346.4L797.1,346.5L790.1,346.6L783.1,346.8L776.1,347.1L769.1,347.4L762.1,347.8L755,348.3L748,348.8L741,349.4L734,350L727,350.6L720,351.3L713,352L705.9,352.7L698.9,353.4L691.9,354.1L684.9,354.9L677.9,355.6L670.9,356.4L663.9,357.2L656.9,357.9L649.8,358.7L642.8,359.5L635.8,360.3L628.8,361.1L621.8,361.9L614.8,362.7L607.8,363.6L600.7,364.4L593.7,365.4L586.7,366.4L579.7,367.4Z"/></clipPath>
<clipPath id="cpb3"><path d="M1093.8,340L1100.8,335.7L1107.9,331.6L1114.9,327.7L1122,323.9L1129,320.4L1136,317L1143.1,313.8L1150.1,310.7L1157.2,307.7L1164.2,304.9L1171.2,302.2L1178.3,299.5L1185.3,297L1192.4,294.5L1199.4,292.2L1206.5,289.9L1213.5,287.7L1220.5,285.6L1227.6,283.6L1234.6,281.6L1241.7,279.7L1248.7,277.9L1255.7,276.1L1262.8,274.5L1269.8,272.9L1276.9,271.3L1283.9,269.9L1290.9,268.5L1298,267.2L1305,266L1312.1,264.9L1319.1,263.8L1326.1,262.9L1333.2,262L1340.2,261.3L1347.3,260.6L1354.3,260.1L1361.4,259.6L1368.4,259.3L1375.4,259L1382.5,258.9L1389.5,258.9L1396.6,259L1403.6,259.3L1410.6,259.7L1417.7,260.1L1424.7,260.8L1431.8,261.5L1438.8,262.4L1445.8,263.4L1452.9,264.5L1459.9,265.7L1467,267.1L1474,268.6L1481,270.2L1488.1,271.9L1495.1,273.7L1502.2,275.7L1509.2,277.7L1516.3,279.8L1523.3,282L1530.3,284.3L1537.4,286.7L1544.4,289.1L1551.5,291.6L1558.5,294.1L1565.5,296.6L1572.6,299.1L1579.6,301.6L1586.7,304.1L1593.7,306.6L1583.8,356.3L1576.8,354.2L1569.8,352.2L1562.8,350.2L1555.9,348.3L1548.9,346.4L1541.9,344.6L1534.9,342.9L1527.9,341.2L1520.9,339.6L1513.9,338.1L1506.9,336.6L1500,335.3L1493,334L1486,332.7L1479,331.6L1472,330.5L1465,329.5L1458,328.6L1451,327.7L1444.1,327L1437.1,326.3L1430.1,325.7L1423.1,325.2L1416.1,324.8L1409.1,324.5L1402.1,324.2L1395.2,324L1388.2,323.9L1381.2,323.9L1374.2,324L1367.2,324.2L1360.2,324.4L1353.2,324.7L1346.2,325.2L1339.3,325.7L1332.3,326.2L1325.3,326.9L1318.3,327.6L1311.3,328.5L1304.3,329.4L1297.3,330.4L1290.3,331.4L1283.4,332.6L1276.4,333.8L1269.4,335.1L1262.4,336.5L1255.4,338L1248.4,339.6L1241.4,341.2L1234.5,343L1227.5,344.8L1220.5,346.7L1213.5,348.6L1206.5,350.7L1199.5,352.8L1192.5,355.1L1185.5,357.4L1178.6,359.8L1171.6,362.2L1164.6,364.8L1157.6,367.5L1150.6,370.2L1143.6,373L1136.6,376L1129.6,379L1122.7,382.1L1115.7,385.3L1108.7,388.6L1101.7,392Z"/></clipPath>
<clipPath id="pb"><rect x="3.5" y="225.6" width="1613.5" height="207.4"/></clipPath>
<linearGradient id="fd7" gradientUnits="userSpaceOnUse" x1="0" y1="334" x2="33.6" y2="302.5"><stop offset="0" stop-color="#000" stop-opacity="1.0"/><stop offset="1" stop-color="#000" stop-opacity="0"/></linearGradient>
<linearGradient id="fd8" gradientUnits="userSpaceOnUse" x1="494" y1="396" x2="461.8" y2="379.9"><stop offset="0" stop-color="#000" stop-opacity="1.0"/><stop offset="1" stop-color="#000" stop-opacity="0"/></linearGradient>
<linearGradient id="fd9" gradientUnits="userSpaceOnUse" x1="552" y1="318" x2="578.1" y2="307.7"><stop offset="0" stop-color="#000" stop-opacity="0.9"/><stop offset="1" stop-color="#000" stop-opacity="0"/></linearGradient>
<linearGradient id="fd10" gradientUnits="userSpaceOnUse" x1="1030" y1="410" x2="1006.6" y2="398.7"><stop offset="0" stop-color="#000" stop-opacity="1.0"/><stop offset="1" stop-color="#000" stop-opacity="0"/></linearGradient>
<linearGradient id="fd11" gradientUnits="userSpaceOnUse" x1="1088" y1="342" x2="1108.7" y2="334.6"><stop offset="0" stop-color="#000" stop-opacity="0.9"/><stop offset="1" stop-color="#000" stop-opacity="0"/></linearGradient>
<linearGradient id="fd12" gradientUnits="userSpaceOnUse" x1="1578" y1="362" x2="1565" y2="356.9"><stop offset="0" stop-color="#000" stop-opacity="0.7"/><stop offset="1" stop-color="#000" stop-opacity="0"/></linearGradient>
<linearGradient id="cbb" gradientUnits="userSpaceOnUse" x1="0" y1="232.4" x2="0" y2="423.9"><stop offset="0.000" stop-color="#f7f2aa"/><stop offset="0.100" stop-color="#f8f046"/><stop offset="0.175" stop-color="#f8ec1e"/><stop offset="0.212" stop-color="#fad21c"/><stop offset="0.250" stop-color="#f8961e"/><stop offset="0.269" stop-color="#f65a1e"/><stop offset="0.294" stop-color="#f02420"/><stop offset="0.375" stop-color="#e21e22"/><stop offset="0.425" stop-color="#961818"/><stop offset="0.463" stop-color="#400c0c"/><stop offset="0.500" stop-color="#000"/><stop offset="0.537" stop-color="#0e1038"/><stop offset="0.575" stop-color="#1e2470"/><stop offset="0.625" stop-color="#2c3896"/><stop offset="0.662" stop-color="#344cac"/><stop offset="0.713" stop-color="#3864b9"/><stop offset="0.750" stop-color="#3880cd"/><stop offset="0.800" stop-color="#30ace6"/><stop offset="0.850" stop-color="#50c0e8"/><stop offset="0.938" stop-color="#82d4ea"/><stop offset="1.000" stop-color="#acdeee"/></linearGradient>
<clipPath id="cpc1"><path d="M8.2,552.8L15.2,549.6L22.1,546.4L29.1,543.3L36,540.2L43,537.2L49.9,534.2L56.9,531.3L63.8,528.5L70.8,525.7L77.7,523L84.7,520.4L91.6,517.8L98.6,515.4L105.5,513L112.5,510.7L119.4,508.5L126.4,506.4L133.3,504.3L140.3,502.4L147.2,500.6L154.2,498.8L161.1,497.2L168.1,495.7L175,494.2L182,492.9L189,491.6L195.9,490.4L202.9,489.4L209.8,488.4L216.8,487.5L223.7,486.7L230.7,486L237.6,485.4L244.6,484.9L251.5,484.5L258.5,484.2L265.4,483.9L272.4,483.7L279.3,483.7L286.3,483.7L293.2,483.7L300.2,483.9L307.1,484.1L314.1,484.5L321,484.9L328,485.3L334.9,485.9L341.9,486.5L348.9,487.2L355.8,488L362.8,488.9L369.7,489.9L376.7,490.9L383.6,492L390.6,493.2L397.5,494.5L404.5,495.8L411.4,497.3L418.4,498.8L425.3,500.4L432.3,502.2L439.2,504L446.2,505.9L453.1,508L460.1,510.1L467,512.4L474,514.8L480.9,517.3L487.9,520L494.8,522.8L501.8,525.7L508.7,528.8L515.7,532.1L497.2,609.7L490.2,606.7L483.1,603.8L476.1,601.1L469.1,598.6L462,596.2L455,594L448,591.9L440.9,589.9L433.9,588L426.9,586.3L419.8,584.6L412.8,583L405.8,581.5L398.7,580.2L391.7,578.9L384.6,577.6L377.6,576.5L370.6,575.5L363.5,574.5L356.5,573.6L349.5,572.8L342.4,572L335.4,571.4L328.4,570.8L321.3,570.3L314.3,569.8L307.3,569.5L300.2,569.2L293.2,569L286.2,568.9L279.1,568.9L272.1,569L265.1,569.1L258,569.4L251,569.7L244,570.1L236.9,570.6L229.9,571.2L222.9,571.9L215.8,572.7L208.8,573.6L201.8,574.6L194.7,575.7L187.7,576.8L180.7,578.1L173.6,579.4L166.6,580.8L159.6,582.4L152.5,584L145.5,585.6L138.4,587.4L131.4,589.2L124.4,591.1L117.3,593L110.3,595L103.3,597.1L96.2,599.2L89.2,601.3L82.2,603.4L75.1,605.6L68.1,607.7L61.1,609.8L54,611.9L47,614Z"/></clipPath>
<linearGradient id="gc1" gradientUnits="userSpaceOnUse" x1="6" y1="0" x2="515" y2="0"><stop offset="0.000" stop-color="#464646"/><stop offset="0.067" stop-color="#696969"/><stop offset="0.185" stop-color="#7d7d7d"/><stop offset="0.912" stop-color="#787878"/><stop offset="1.000" stop-color="#464646"/></linearGradient>
<clipPath id="cpc2"><path d="M568.2,531.9L575.2,528.5L582.1,525.1L589.1,521.8L596,518.7L603,515.6L609.9,512.7L616.9,509.9L623.8,507.3L630.8,504.8L637.7,502.5L644.7,500.4L651.6,498.4L658.6,496.6L665.6,494.9L672.5,493.5L679.5,492.2L686.4,491L693.4,490.1L700.3,489.3L707.3,488.7L714.2,488.3L721.2,488L728.1,487.9L735.1,487.9L742,488.1L749,488.4L755.9,488.9L762.9,489.5L769.9,490.2L776.8,491L783.8,491.9L790.7,493L797.7,494.1L804.6,495.3L811.6,496.7L818.5,498.1L825.5,499.5L832.4,501.1L839.4,502.7L846.3,504.3L853.3,506L860.3,507.8L867.2,509.5L874.2,511.4L881.1,513.2L888.1,515.1L895,517.1L902,519L908.9,521L915.9,523L922.8,525.1L929.8,527.1L936.7,529.3L943.7,531.4L950.6,533.6L957.6,535.9L964.6,538.2L971.5,540.6L978.5,543.1L985.4,545.7L992.4,548.3L999.3,551.1L1006.3,554L1013.2,557.1L1020.2,560.3L1027.1,563.8L1034.1,567.4L1041,571.3L1048,575.4L1041.9,634.4L1034.9,631.3L1027.9,628.2L1020.9,625.1L1013.9,622.2L1006.9,619.2L999.9,616.4L992.9,613.7L985.9,611L978.9,608.4L971.9,605.9L964.9,603.5L957.9,601.3L950.9,599.1L943.9,597L936.9,595.1L929.9,593.2L922.8,591.5L915.8,589.9L908.8,588.3L901.8,586.9L894.8,585.6L887.8,584.5L880.8,583.4L873.8,582.4L866.8,581.5L859.8,580.8L852.8,580.1L845.8,579.5L838.8,579L831.8,578.6L824.8,578.3L817.8,578.1L810.8,578L803.8,577.9L796.8,577.9L789.8,578L782.8,578.1L775.8,578.3L768.8,578.6L761.8,578.9L754.8,579.3L747.8,579.7L740.8,580.1L733.8,580.6L726.8,581.2L719.8,581.8L712.8,582.4L705.8,583.1L698.7,583.8L691.7,584.5L684.7,585.3L677.7,586.1L670.7,586.9L663.7,587.7L656.7,588.6L649.7,589.5L642.7,590.5L635.7,591.5L628.7,592.5L621.7,593.6L614.7,594.7L607.7,595.9L600.7,597.1L593.7,598.4L586.7,599.8Z"/></clipPath>
<linearGradient id="gc2" gradientUnits="userSpaceOnUse" x1="565" y1="0" x2="1050" y2="0"><stop offset="0.000" stop-color="#505050"/><stop offset="0.062" stop-color="#878787"/><stop offset="0.155" stop-color="#a0a0a0"/><stop offset="0.866" stop-color="#878787"/><stop offset="0.938" stop-color="#787878"/><stop offset="1.000" stop-color="#464646"/></linearGradient>
<clipPath id="cpc3"><path d="M1092.3,566.7L1099.3,562.9L1106.3,559L1113.3,555.3L1120.3,551.7L1127.3,548.2L1134.3,544.7L1141.3,541.4L1148.3,538.1L1155.3,534.9L1162.3,531.9L1169.3,528.9L1176.4,526.1L1183.4,523.3L1190.4,520.7L1197.4,518.1L1204.4,515.6L1211.4,513.3L1218.4,511.1L1225.4,508.9L1232.4,506.9L1239.4,504.9L1246.4,503.1L1253.4,501.4L1260.4,499.7L1267.4,498.2L1274.4,496.7L1281.4,495.4L1288.4,494.2L1295.4,493L1302.4,492L1309.4,491L1316.4,490.2L1323.4,489.4L1330.4,488.7L1337.4,488.2L1344.5,487.7L1351.5,487.3L1358.5,487L1365.5,486.8L1372.5,486.6L1379.5,486.6L1386.5,486.7L1393.5,486.8L1400.5,487.1L1407.5,487.4L1414.5,487.9L1421.5,488.4L1428.5,489L1435.5,489.7L1442.5,490.5L1449.5,491.4L1456.5,492.5L1463.5,493.6L1470.5,494.8L1477.5,496.1L1484.5,497.6L1491.5,499.1L1498.5,500.8L1505.5,502.6L1512.6,504.5L1519.6,506.6L1526.6,508.8L1533.6,511.1L1540.6,513.6L1547.6,516.2L1554.6,519L1561.6,521.9L1568.6,525L1575.6,528.3L1582.6,531.8L1589.6,535.5L1575.3,582.8L1568.3,580.7L1561.3,578.6L1554.4,576.6L1547.4,574.7L1540.4,572.9L1533.4,571.2L1526.4,569.5L1519.4,567.9L1512.5,566.4L1505.5,565L1498.5,563.7L1491.5,562.4L1484.5,561.3L1477.5,560.2L1470.6,559.1L1463.6,558.2L1456.6,557.3L1449.6,556.5L1442.6,555.8L1435.7,555.2L1428.7,554.6L1421.7,554.1L1414.7,553.7L1407.7,553.4L1400.7,553.1L1393.8,552.9L1386.8,552.8L1379.8,552.7L1372.8,552.7L1365.8,552.8L1358.8,553L1351.9,553.3L1344.9,553.6L1337.9,554L1330.9,554.5L1323.9,555L1317,555.7L1310,556.4L1303,557.2L1296,558.1L1289,559L1282,560.1L1275.1,561.2L1268.1,562.4L1261.1,563.7L1254.1,565L1247.1,566.5L1240.1,568L1233.2,569.7L1226.2,571.4L1219.2,573.2L1212.2,575.1L1205.2,577.1L1198.3,579.2L1191.3,581.4L1184.3,583.7L1177.3,586.1L1170.3,588.6L1163.3,591.2L1156.4,593.9L1149.4,596.8L1142.4,599.7L1135.4,602.7L1128.4,605.9L1121.4,609.2L1114.5,612.6L1107.5,616.2L1100.5,619.8Z"/></clipPath>
<linearGradient id="gc3" gradientUnits="userSpaceOnUse" x1="1090" y1="0" x2="1590" y2="0"><stop offset="0.000" stop-color="#505050"/><stop offset="0.100" stop-color="#878787"/><stop offset="0.950" stop-color="#969696"/><stop offset="1.000" stop-color="#5a5a5a"/></linearGradient>
<linearGradient id="oc1" gradientUnits="userSpaceOnUse" x1="100.7" y1="0" x2="474.6" y2="0"><stop offset="0.000" stop-color="#96c464"/><stop offset="0.065" stop-color="#b0c65c"/><stop offset="0.159" stop-color="#9ec464"/><stop offset="0.332" stop-color="#a0c662"/><stop offset="0.362" stop-color="#c4c856"/><stop offset="0.386" stop-color="#d6a046"/><stop offset="0.410" stop-color="#ce4842"/><stop offset="0.528" stop-color="#cc4c44"/><stop offset="0.549" stop-color="#d6a046"/><stop offset="0.570" stop-color="#c4c856"/><stop offset="0.603" stop-color="#9cc468"/><stop offset="0.800" stop-color="#92c270"/><stop offset="0.881" stop-color="#b0c85c"/><stop offset="0.948" stop-color="#a0c468"/><stop offset="1.000" stop-color="#82be82"/></linearGradient>
<linearGradient id="oc1v" gradientUnits="userSpaceOnUse" x1="0" y1="485" x2="0" y2="612"><stop offset="0.000" stop-color="#f0e65a" stop-opacity="0.3"/><stop offset="0.354" stop-color="#f0e65a" stop-opacity="0.08"/><stop offset="0.512" stop-color="#3cbeb4" stop-opacity="0.05"/><stop offset="0.787" stop-color="#3cbeb4" stop-opacity="0.35"/><stop offset="1.000" stop-color="#28aadc" stop-opacity="0.6"/></linearGradient>
<linearGradient id="oc2" gradientUnits="userSpaceOnUse" x1="636" y1="0" x2="987.4" y2="0"><stop offset="0.000" stop-color="#c0c84a"/><stop offset="0.182" stop-color="#ccc84c"/><stop offset="0.367" stop-color="#d2c650"/><stop offset="0.387" stop-color="#d8a846"/><stop offset="0.421" stop-color="#d06046"/><stop offset="0.467" stop-color="#ce4842"/><stop offset="0.694" stop-color="#ca4640"/><stop offset="0.766" stop-color="#d0683e"/><stop offset="0.865" stop-color="#d6963e"/><stop offset="1.000" stop-color="#d2a444"/></linearGradient>
<linearGradient id="oc3" gradientUnits="userSpaceOnUse" x1="1135" y1="0" x2="1564" y2="0"><stop offset="0.000" stop-color="#d69642"/><stop offset="0.058" stop-color="#d68c42"/><stop offset="0.100" stop-color="#ce5c46"/><stop offset="0.152" stop-color="#cc5446"/><stop offset="0.210" stop-color="#d27044"/><stop offset="0.291" stop-color="#d47c46"/><stop offset="0.350" stop-color="#d06446"/><stop offset="0.378" stop-color="#cc4c48"/><stop offset="0.401" stop-color="#be484c"/><stop offset="0.413" stop-color="#884c56"/><stop offset="0.552" stop-color="#8a4e58"/><stop offset="0.564" stop-color="#c84c48"/><stop offset="0.580" stop-color="#dc8c50"/><stop offset="0.599" stop-color="#e2a058"/><stop offset="0.641" stop-color="#de9654"/><stop offset="0.683" stop-color="#d2644a"/><stop offset="0.734" stop-color="#cc4e48"/><stop offset="1.000" stop-color="#cc4c46"/></linearGradient>
<linearGradient id="oc2v" gradientUnits="userSpaceOnUse" x1="0" y1="540" x2="0" y2="590"><stop offset="0.000" stop-color="#96c846" stop-opacity="0.0"/><stop offset="1.000" stop-color="#8cc846" stop-opacity="0.5"/></linearGradient>
<clipPath id="pc"><rect x="4.7" y="452.3" width="1612" height="209.4"/></clipPath>
<linearGradient id="fd13" gradientUnits="userSpaceOnUse" x1="5" y1="550" x2="37.3" y2="517.2"><stop offset="0" stop-color="#000" stop-opacity="1.0"/><stop offset="1" stop-color="#000" stop-opacity="0"/></linearGradient>
<linearGradient id="fd14" gradientUnits="userSpaceOnUse" x1="492" y1="620" x2="459.6" y2="604.3"><stop offset="0" stop-color="#000" stop-opacity="1.0"/><stop offset="1" stop-color="#000" stop-opacity="0"/></linearGradient>
<linearGradient id="fd15" gradientUnits="userSpaceOnUse" x1="562" y1="536" x2="588" y2="525.6"><stop offset="0" stop-color="#000" stop-opacity="0.9"/><stop offset="1" stop-color="#000" stop-opacity="0"/></linearGradient>
<linearGradient id="fd16" gradientUnits="userSpaceOnUse" x1="1034" y1="642" x2="1012" y2="632.3"><stop offset="0" stop-color="#000" stop-opacity="1.0"/><stop offset="1" stop-color="#000" stop-opacity="0"/></linearGradient>
<linearGradient id="fd17" gradientUnits="userSpaceOnUse" x1="1086" y1="572" x2="1106" y2="562.7"><stop offset="0" stop-color="#000" stop-opacity="0.95"/><stop offset="1" stop-color="#000" stop-opacity="0"/></linearGradient>
<linearGradient id="fd18" gradientUnits="userSpaceOnUse" x1="1572" y1="590" x2="1557.2" y2="583.9"><stop offset="0" stop-color="#000" stop-opacity="0.8"/><stop offset="1" stop-color="#000" stop-opacity="0"/></linearGradient>
<linearGradient id="cbc" gradientUnits="userSpaceOnUse" x1="0" y1="451" x2="0" y2="661.2"><stop offset="0.000" stop-color="#8c1a1c"/><stop offset="0.080" stop-color="#d62024"/><stop offset="0.140" stop-color="#ec2026"/><stop offset="0.200" stop-color="#f05024"/><stop offset="0.280" stop-color="#f68c1e"/><stop offset="0.350" stop-color="#fcc816"/><stop offset="0.400" stop-color="#f0e618"/><stop offset="0.460" stop-color="#bed632"/><stop offset="0.520" stop-color="#96cc64"/><stop offset="0.580" stop-color="#76c8a0"/><stop offset="0.630" stop-color="#64c8dc"/><stop offset="0.680" stop-color="#30bcec"/><stop offset="0.720" stop-color="#34a0e2"/><stop offset="0.780" stop-color="#3e6ebe"/><stop offset="0.840" stop-color="#3c54ac"/><stop offset="0.940" stop-color="#303896"/><stop offset="1.000" stop-color="#262478"/></linearGradient>
</defs>
<rect x="3.5" y="4" width="1612" height="202.6" fill="#000"/>
<g clip-path="url(#pa)">
<g filter="url(#spk)">
<path d="M7,95.7L14,92.4L21,89.2L28,86L35,83L42,80L49,77.1L56,74.3L63,71.6L70,68.9L77,66.4L84,63.9L91,61.5L98,59.2L105,57L112,54.8L119,52.7L126,50.8L133,48.9L140,47.1L147,45.3L154,43.7L161,42.2L168,40.7L175,39.3L182,38L189,36.8L196,35.7L203,34.7L210,33.8L217,32.9L224,32.2L231,31.5L238,31L245,30.5L252,30.1L259,29.8L266,29.6L273,29.5L280,29.5L287,29.6L294,29.8L301,30.1L308,30.5L315,30.9L322,31.5L329,32.1L336,32.9L343,33.7L350,34.7L357,35.7L364,36.8L371,38L378,39.3L385,40.7L392,42.2L399,43.8L406,45.4L413,47.2L420,49L427,50.9L434,52.9L441,54.9L448,57.1L455,59.3L462,61.6L469,64L476,66.4L483,68.9L490,71.4L497,74.1L504,76.7L511,79.5L501,91L495,108L492,138L490,153L483,150.5L476,148.1L469,145.8L461.9,143.6L454.9,141.5L447.9,139.5L440.9,137.5L433.9,135.7L426.9,133.9L419.8,132.1L412.8,130.5L405.8,128.9L398.8,127.4L391.8,125.9L384.8,124.6L377.7,123.2L370.7,122L363.7,120.8L356.7,119.8L349.7,118.7L342.7,117.8L335.6,117L328.6,116.2L321.6,115.5L314.6,114.9L307.6,114.3L300.6,113.9L293.5,113.6L286.5,113.3L279.5,113.1L272.5,113.1L265.5,113.1L258.5,113.3L251.4,113.5L244.4,113.8L237.4,114.3L230.4,114.8L223.4,115.4L216.4,116.2L209.3,117L202.3,118L195.3,119L188.3,120.1L181.3,121.4L174.3,122.7L167.2,124.1L160.2,125.6L153.2,127.2L146.2,128.8L139.2,130.5L132.2,132.3L125.1,134.2L118.1,136L111.1,138L104.1,139.9L97.1,141.9L90.1,143.8L83,145.8L76,147.8L69,149.7L62,151.5L40,134L24,114L7,98Z" fill="url(#ga1)"/>
<path d="M7,95.7L14,92.4L21,89.2L28,86L35,83L42,80L49,77.1L56,74.3L63,71.6L70,68.9L77,66.4L84,63.9L91,61.5L98,59.2L105,57L112,54.8L119,52.7L126,50.8L133,48.9L140,47.1L147,45.3L154,43.7L161,42.2L168,40.7L175,39.3L182,38L189,36.8L196,35.7L203,34.7L210,33.8L217,32.9L224,32.2L231,31.5L238,31L245,30.5L252,30.1L259,29.8L266,29.6L273,29.5L280,29.5L287,29.6L294,29.8L301,30.1L308,30.5L315,30.9L322,31.5L329,32.1L336,32.9L343,33.7L350,34.7L357,35.7L364,36.8L371,38L378,39.3L385,40.7L392,42.2L399,43.8L406,45.4L413,47.2L420,49L427,50.9L434,52.9L441,54.9L448,57.1L455,59.3L462,61.6L469,64L476,66.4L483,68.9L490,71.4L497,74.1L504,76.7L511,79.5L501,91L495,108L492,138L490,153L483,150.5L476,148.1L469,145.8L461.9,143.6L454.9,141.5L447.9,139.5L440.9,137.5L433.9,135.7L426.9,133.9L419.8,132.1L412.8,130.5L405.8,128.9L398.8,127.4L391.8,125.9L384.8,124.6L377.7,123.2L370.7,122L363.7,120.8L356.7,119.8L349.7,118.7L342.7,117.8L335.6,117L328.6,116.2L321.6,115.5L314.6,114.9L307.6,114.3L300.6,113.9L293.5,113.6L286.5,113.3L279.5,113.1L272.5,113.1L265.5,113.1L258.5,113.3L251.4,113.5L244.4,113.8L237.4,114.3L230.4,114.8L223.4,115.4L216.4,116.2L209.3,117L202.3,118L195.3,119L188.3,120.1L181.3,121.4L174.3,122.7L167.2,124.1L160.2,125.6L153.2,127.2L146.2,128.8L139.2,130.5L132.2,132.3L125.1,134.2L118.1,136L111.1,138L104.1,139.9L97.1,141.9L90.1,143.8L83,145.8L76,147.8L69,149.7L62,151.5L40,134L24,114L7,98Z" fill="url(#shd)"/>
<path d="M559.7,81.3L566.7,78L573.7,74.6L580.8,71.3L587.8,68.1L594.8,64.9L601.8,61.8L608.9,58.9L615.9,56.1L622.9,53.4L629.9,50.8L636.9,48.5L644,46.3L651,44.3L658,42.4L665,40.8L672,39.3L679.1,38.1L686.1,37L693.1,36.1L700.1,35.4L707.2,34.9L714.2,34.5L721.2,34.4L728.2,34.4L735.2,34.6L742.3,34.9L749.3,35.5L756.3,36.1L763.3,36.9L770.4,37.8L777.4,38.8L784.4,40L791.4,41.3L798.4,42.6L805.5,44.1L812.5,45.6L819.5,47.2L826.5,48.9L833.5,50.6L840.6,52.4L847.6,54.2L854.6,56L861.6,57.9L868.7,59.8L875.7,61.8L882.7,63.7L889.7,65.7L896.7,67.7L903.8,69.7L910.8,71.7L917.8,73.7L924.8,75.8L931.9,77.8L938.9,79.9L945.9,82.1L952.9,84.2L959.9,86.5L967,88.8L974,91.1L981,93.6L988,96.2L995,98.9L1002.1,101.8L1009.1,104.8L1016.1,108L1023.1,111.5L1030.2,115.2L1037.2,119.2L1044.2,123.5L1049,140L1042,165L1032.6,181L1025.6,178.8L1018.7,176.4L1011.7,173.9L1004.8,171.3L997.8,168.7L990.9,166L983.9,163.3L977,160.6L970,157.9L963.1,155.2L956.1,152.6L949.2,150L942.2,147.5L935.2,145.1L928.3,142.8L921.3,140.6L914.4,138.5L907.4,136.5L900.5,134.6L893.5,132.8L886.6,131.2L879.6,129.7L872.7,128.3L865.7,127.1L858.8,126L851.8,125L844.8,124.2L837.9,123.4L830.9,122.8L824,122.3L817,121.9L810.1,121.7L803.1,121.5L796.2,121.5L789.2,121.5L782.3,121.6L775.3,121.8L768.4,122.1L761.4,122.5L754.4,122.9L747.5,123.4L740.5,124L733.6,124.6L726.6,125.2L719.7,125.9L712.7,126.7L705.8,127.4L698.8,128.2L691.9,129.1L684.9,129.9L678,130.8L671,131.7L664,132.6L657.1,133.6L650.1,134.5L643.2,135.5L636.2,136.5L629.3,137.6L622.3,138.7L615.4,139.8L608.4,140.9L601.5,142.2L594.5,143.4L587.6,144.8L580.6,146.2L572,120L563,95Z" fill="url(#ga2)"/>
<path d="M559.7,81.3L566.7,78L573.7,74.6L580.8,71.3L587.8,68.1L594.8,64.9L601.8,61.8L608.9,58.9L615.9,56.1L622.9,53.4L629.9,50.8L636.9,48.5L644,46.3L651,44.3L658,42.4L665,40.8L672,39.3L679.1,38.1L686.1,37L693.1,36.1L700.1,35.4L707.2,34.9L714.2,34.5L721.2,34.4L728.2,34.4L735.2,34.6L742.3,34.9L749.3,35.5L756.3,36.1L763.3,36.9L770.4,37.8L777.4,38.8L784.4,40L791.4,41.3L798.4,42.6L805.5,44.1L812.5,45.6L819.5,47.2L826.5,48.9L833.5,50.6L840.6,52.4L847.6,54.2L854.6,56L861.6,57.9L868.7,59.8L875.7,61.8L882.7,63.7L889.7,65.7L896.7,67.7L903.8,69.7L910.8,71.7L917.8,73.7L924.8,75.8L931.9,77.8L938.9,79.9L945.9,82.1L952.9,84.2L959.9,86.5L967,88.8L974,91.1L981,93.6L988,96.2L995,98.9L1002.1,101.8L1009.1,104.8L1016.1,108L1023.1,111.5L1030.2,115.2L1037.2,119.2L1044.2,123.5L1049,140L1042,165L1032.6,181L1025.6,178.8L1018.7,176.4L1011.7,173.9L1004.8,171.3L997.8,168.7L990.9,166L983.9,163.3L977,160.6L970,157.9L963.1,155.2L956.1,152.6L949.2,150L942.2,147.5L935.2,145.1L928.3,142.8L921.3,140.6L914.4,138.5L907.4,136.5L900.5,134.6L893.5,132.8L886.6,131.2L879.6,129.7L872.7,128.3L865.7,127.1L858.8,126L851.8,125L844.8,124.2L837.9,123.4L830.9,122.8L824,122.3L817,121.9L810.1,121.7L803.1,121.5L796.2,121.5L789.2,121.5L782.3,121.6L775.3,121.8L768.4,122.1L761.4,122.5L754.4,122.9L747.5,123.4L740.5,124L733.6,124.6L726.6,125.2L719.7,125.9L712.7,126.7L705.8,127.4L698.8,128.2L691.9,129.1L684.9,129.9L678,130.8L671,131.7L664,132.6L657.1,133.6L650.1,134.5L643.2,135.5L636.2,136.5L629.3,137.6L622.3,138.7L615.4,139.8L608.4,140.9L601.5,142.2L594.5,143.4L587.6,144.8L580.6,146.2L572,120L563,95Z" fill="url(#shd)"/>
<path d="M1091.7,111.4L1098.7,107.7L1105.7,104.1L1112.6,100.6L1119.6,97.2L1126.6,93.9L1133.6,90.7L1140.5,87.6L1147.5,84.6L1154.5,81.7L1161.5,78.9L1168.4,76.1L1175.4,73.4L1182.4,70.9L1189.4,68.4L1196.3,65.9L1203.3,63.6L1210.3,61.3L1217.3,59.2L1224.2,57L1231.2,55L1238.2,53.1L1245.2,51.2L1252.1,49.4L1259.1,47.7L1266.1,46.1L1273.1,44.6L1280.1,43.2L1287,41.8L1294,40.5L1301,39.3L1308,38.2L1314.9,37.2L1321.9,36.3L1328.9,35.5L1335.9,34.8L1342.8,34.2L1349.8,33.7L1356.8,33.2L1363.8,32.9L1370.7,32.7L1377.7,32.6L1384.7,32.6L1391.7,32.7L1398.6,32.9L1405.6,33.3L1412.6,33.7L1419.6,34.3L1426.6,34.9L1433.5,35.7L1440.5,36.6L1447.5,37.6L1454.5,38.8L1461.4,40L1468.4,41.4L1475.4,42.8L1482.4,44.4L1489.3,46.1L1496.3,48L1503.3,49.9L1510.3,51.9L1517.2,54.1L1524.2,56.4L1531.2,58.7L1538.2,61.2L1545.1,63.8L1552.1,66.5L1559.1,69.3L1566.1,72.1L1573,75.1L1580,78.1L1587,81.3L1582,105L1575.4,130.3L1568.4,127.6L1561.4,125L1554.4,122.6L1547.4,120.3L1540.3,118.2L1533.3,116.2L1526.3,114.3L1519.3,112.5L1512.3,110.8L1505.3,109.2L1498.3,107.7L1491.3,106.4L1484.3,105.1L1477.3,103.9L1470.2,102.8L1463.2,101.8L1456.2,100.8L1449.2,100L1442.2,99.2L1435.2,98.6L1428.2,98L1421.2,97.5L1414.2,97L1407.2,96.7L1400.1,96.4L1393.1,96.2L1386.1,96.1L1379.1,96.1L1372.1,96.2L1365.1,96.3L1358.1,96.5L1351.1,96.8L1344.1,97.2L1337.1,97.7L1330,98.3L1323,98.9L1316,99.7L1309,100.5L1302,101.4L1295,102.5L1288,103.6L1281,104.7L1274,106L1266.9,107.4L1259.9,108.9L1252.9,110.4L1245.9,112.1L1238.9,113.8L1231.9,115.6L1224.9,117.6L1217.9,119.6L1210.9,121.6L1203.9,123.8L1196.8,126.1L1189.8,128.4L1182.8,130.8L1175.8,133.3L1168.8,135.9L1161.8,138.5L1154.8,141.2L1147.8,144L1140.8,146.8L1133.8,149.7L1126.7,152.6L1119.7,155.6L1112.7,158.6L1105.7,161.6L1098.7,164.6L1094,140Z" fill="url(#ga3)"/>
<path d="M1091.7,111.4L1098.7,107.7L1105.7,104.1L1112.6,100.6L1119.6,97.2L1126.6,93.9L1133.6,90.7L1140.5,87.6L1147.5,84.6L1154.5,81.7L1161.5,78.9L1168.4,76.1L1175.4,73.4L1182.4,70.9L1189.4,68.4L1196.3,65.9L1203.3,63.6L1210.3,61.3L1217.3,59.2L1224.2,57L1231.2,55L1238.2,53.1L1245.2,51.2L1252.1,49.4L1259.1,47.7L1266.1,46.1L1273.1,44.6L1280.1,43.2L1287,41.8L1294,40.5L1301,39.3L1308,38.2L1314.9,37.2L1321.9,36.3L1328.9,35.5L1335.9,34.8L1342.8,34.2L1349.8,33.7L1356.8,33.2L1363.8,32.9L1370.7,32.7L1377.7,32.6L1384.7,32.6L1391.7,32.7L1398.6,32.9L1405.6,33.3L1412.6,33.7L1419.6,34.3L1426.6,34.9L1433.5,35.7L1440.5,36.6L1447.5,37.6L1454.5,38.8L1461.4,40L1468.4,41.4L1475.4,42.8L1482.4,44.4L1489.3,46.1L1496.3,48L1503.3,49.9L1510.3,51.9L1517.2,54.1L1524.2,56.4L1531.2,58.7L1538.2,61.2L1545.1,63.8L1552.1,66.5L1559.1,69.3L1566.1,72.1L1573,75.1L1580,78.1L1587,81.3L1582,105L1575.4,130.3L1568.4,127.6L1561.4,125L1554.4,122.6L1547.4,120.3L1540.3,118.2L1533.3,116.2L1526.3,114.3L1519.3,112.5L1512.3,110.8L1505.3,109.2L1498.3,107.7L1491.3,106.4L1484.3,105.1L1477.3,103.9L1470.2,102.8L1463.2,101.8L1456.2,100.8L1449.2,100L1442.2,99.2L1435.2,98.6L1428.2,98L1421.2,97.5L1414.2,97L1407.2,96.7L1400.1,96.4L1393.1,96.2L1386.1,96.1L1379.1,96.1L1372.1,96.2L1365.1,96.3L1358.1,96.5L1351.1,96.8L1344.1,97.2L1337.1,97.7L1330,98.3L1323,98.9L1316,99.7L1309,100.5L1302,101.4L1295,102.5L1288,103.6L1281,104.7L1274,106L1266.9,107.4L1259.9,108.9L1252.9,110.4L1245.9,112.1L1238.9,113.8L1231.9,115.6L1224.9,117.6L1217.9,119.6L1210.9,121.6L1203.9,123.8L1196.8,126.1L1189.8,128.4L1182.8,130.8L1175.8,133.3L1168.8,135.9L1161.8,138.5L1154.8,141.2L1147.8,144L1140.8,146.8L1133.8,149.7L1126.7,152.6L1119.7,155.6L1112.7,158.6L1105.7,161.6L1098.7,164.6L1094,140Z" fill="url(#shd)"/>
</g>
<g fill="none" stroke="#fff" stroke-linecap="round">
<path d="M32,85.2L36.9,83L41.9,80.9L46.9,78.9L51.9,76.8L56.9,74.9L61.9,72.9L66.9,71L71.9,69.1L76.9,67.3L81.9,65.6L86.8,63.8L91.8,62.1L96.8,60.5L101.8,58.9L106.8,57.3L111.8,55.8L116.8,54.3L121.8,52.9L126.8,51.5L131.8,50.1L136.7,48.8L141.7,47.5L146.7,46.3L151.7,45.1L156.7,44L161.7,42.9L166.7,41.9L171.7,40.9L176.7,39.9L181.7,39L186.6,38.1L191.6,37.3L196.6,36.5L201.6,35.8L206.6,35.1L211.6,34.5L216.6,33.9L221.6,33.3L226.6,32.8L231.6,32.4L236.5,32L241.5,31.6L246.5,31.3L251.5,31L256.5,30.8L261.5,30.6L266.5,30.5L271.5,30.5L276.5,30.4L281.5,30.4L286.4,30.5L291.4,30.6L296.4,30.8L301.4,31L306.4,31.3L311.4,31.6L316.4,31.9L321.4,32.3L326.4,32.8L331.4,33.3L336.3,33.8L341.3,34.4L346.3,35.1L351.3,35.8L356.3,36.5L361.3,37.3L366.3,38.1L371.3,39L376.3,39.9L381.3,40.9L386.2,41.9L391.2,42.9L396.2,44L401.2,45.2L406.2,46.4L411.2,47.6L416.2,48.9L421.2,50.2L426.2,51.6L431.2,53L436.1,54.4L441.1,55.9L446.1,57.4L451.1,59L456.1,60.6L461.1,62.2L466.1,63.9L471.1,65.6L476.1,67.3" stroke-opacity=".6" stroke-width="2"/>
<path d="M226.6,32.8L231.6,32.4L236.5,32L241.5,31.6L246.5,31.3L251.5,31L256.5,30.8L261.5,30.6L266.5,30.5L271.5,30.5L276.5,30.4L281.5,30.4L286.4,30.5L291.4,30.6L296.4,30.8L301.4,31L306.4,31.3L311.4,31.6L316.4,31.9L321.4,32.3L326.4,32.8L331.4,33.3" stroke-opacity=".85" stroke-width="2.4"/>
<path d="M206.3,116.6L211.3,116L216.3,115.4L221.3,114.8L226.2,114.4L231.2,113.9L236.2,113.5L241.2,113.2L246.1,112.9L251.1,112.7L256.1,112.5L261.1,112.4L266,112.3L271,112.3L276,112.3L281,112.4L286,112.5L290.9,112.7L295.9,112.9L300.9,113.1L305.9,113.4L310.8,113.8L315.8,114.2L320.8,114.6L325.8,115.1L330.7,115.6" stroke-opacity=".6" stroke-width="2"/>
<path d="M91.9,142.5L96.8,141.1L101.8,139.7L106.8,138.4L111.8,137L116.7,135.6L121.7,134.3L126.7,132.9L131.7,131.7L136.7,130.4L141.6,129.1L146.6,127.9L151.6,126.8L156.6,125.6L161.5,124.5L166.5,123.5L171.5,122.4L176.5,121.5L181.4,120.5L186.4,119.7L191.4,118.8L196.4,118L201.3,117.3L206.3,116.6L211.3,116L216.3,115.4L221.3,114.8L226.2,114.4L231.2,113.9L236.2,113.5L241.2,113.2L246.1,112.9L251.1,112.7L256.1,112.5L261.1,112.4L266,112.3L271,112.3L276,112.3L281,112.4L286,112.5L290.9,112.7L295.9,112.9L300.9,113.1L305.9,113.4L310.8,113.8L315.8,114.2L320.8,114.6L325.8,115.1L330.7,115.6L335.7,116.2L340.7,116.8L345.7,117.4L350.7,118.1L355.6,118.8L360.6,119.6L365.6,120.4L370.6,121.2L375.5,122L380.5,123L385.5,123.9L390.5,124.9L395.4,125.9L400.4,126.9L405.4,128L410.4,129.1L415.3,130.3L420.3,131.4L425.3,132.7L430.3,133.9L435.3,135.2L440.2,136.5L445.2,137.9L450.2,139.3L455.2,140.8" stroke-opacity=".3" stroke-width="1.6"/>
<path d="M579.7,72.6L584.7,70.3L589.7,68L594.7,65.8L599.7,63.6L604.7,61.4L609.6,59.4L614.6,57.3L619.6,55.4L624.6,53.5L629.6,51.7L634.6,50L639.6,48.4L644.6,46.9L649.6,45.4L654.6,44.1L659.6,42.8L664.6,41.7L669.6,40.6L674.6,39.6L679.6,38.8L684.6,38L689.6,37.3L694.6,36.7L699.6,36.2L704.6,35.8L709.5,35.5L714.5,35.3L719.5,35.2L724.5,35.2L729.5,35.2L734.5,35.4L739.5,35.6L744.5,35.9L749.5,36.3L754.5,36.7L759.5,37.2L764.5,37.8L769.5,38.5L774.5,39.2L779.5,40" stroke-opacity=".4" stroke-width="1.6"/>
<path d="M640.9,135.1L645.9,134.3L650.9,133.6L655.9,132.9L661,132.2L666,131.6L671,130.9L676,130.3L681,129.6L686.1,129L691.1,128.4L696.1,127.8L701.1,127.2L706.2,126.6L711.2,126L716.2,125.5L721.2,125L726.2,124.5L731.3,124L736.3,123.5L741.3,123.1L746.3,122.7L751.4,122.3L756.4,122L761.4,121.7L766.4,121.4L771.4,121.2L776.5,121L781.5,120.8L786.5,120.7L791.5,120.7L796.6,120.7L801.6,120.7L806.6,120.8L811.6,120.9L816.6,121.1L821.7,121.4L826.7,121.7" stroke-opacity=".35" stroke-width="1.6"/>
<path d="M1251.8,50.3L1256.8,49.1L1261.8,47.9L1266.8,46.8L1271.8,45.7L1276.8,44.6L1281.8,43.6L1286.8,42.6L1291.8,41.7L1296.8,40.8L1301.8,40L1306.8,39.2L1311.8,38.5L1316.8,37.8L1321.8,37.1L1326.8,36.6L1331.8,36L1336.8,35.5L1341.9,35.1L1346.9,34.7L1351.9,34.3L1356.9,34L1361.9,33.8L1366.9,33.6L1371.9,33.5L1376.9,33.4L1381.9,33.4L1386.9,33.4L1391.9,33.5L1396.9,33.7L1401.9,33.9L1406.9,34.1L1411.9,34.5L1416.9,34.8L1421.9,35.3L1426.9,35.8L1431.9,36.3L1436.9,36.9L1441.9,37.6L1446.9,38.3L1451.9,39.1L1456.9,40L1461.9,40.9L1466.9,41.9L1471.9,42.9L1476.9,44" stroke-opacity=".5" stroke-width="2"/>
<path d="M1254.3,109.3L1259.3,108.2L1264.3,107.1L1269.3,106.1L1274.3,105.2L1279.3,104.2L1284.4,103.4L1289.4,102.5L1294.4,101.7L1299.4,101L1304.4,100.3L1309.5,99.7L1314.5,99.1L1319.5,98.5L1324.5,98L1329.5,97.5L1334.5,97.1L1339.6,96.7L1344.6,96.4L1349.6,96.1L1354.6,95.9L1359.6,95.7L1364.6,95.5L1369.7,95.4L1374.7,95.3L1379.7,95.3L1384.7,95.3L1389.7,95.4L1394.8,95.5L1399.8,95.6L1404.8,95.8L1409.8,96L1414.8,96.3L1419.8,96.6L1424.9,96.9L1429.9,97.3L1434.9,97.7L1439.9,98.2L1444.9,98.7L1450,99.3L1455,99.9L1460,100.5L1465,101.2L1470,101.9L1475,102.7" stroke-opacity=".55" stroke-width="2"/>
</g>
<path d="M-36.3,117.3L42.7,196.3L104.2,134.8L25.2,55.8Z" fill="url(#fd1)"/>
<path d="M523.2,192.5L567.7,100.9L496.7,66.4L452.2,157.9Z" fill="url(#fd2)"/>
<path d="M509.8,90L547,180.2L616.3,151.7L579.2,61.5Z" fill="url(#fd3)"/>
<path d="M1066,217.5L1105.9,129.7L1041.3,100.3L1001.4,188.2Z" fill="url(#fd4)"/>
<path d="M1038.4,127.4L1077.1,204.9L1138.8,174L1100.1,96.5Z" fill="url(#fd5)"/>
<path d="M1608.1,162.1L1639.2,85.9L1577.2,60.6L1546.1,136.8Z" fill="url(#fd6)"/>
</g>
<rect x="497" y="99" width="67" height="1.4" fill="#2c2c2c"/>
<rect x="1585" y="98" width="30" height="1.4" fill="#2e2e2e"/>
<rect x="1330" y="105.5" width="70" height="2.2" fill="#555" opacity=".45"/>
<line x1="767.6" y1="10.5" x2="767.6" y2="172" stroke="#fff" stroke-width="2.8" stroke-dasharray="13 7.3" stroke-opacity=".95"/>
<text x="6.8" y="38.6" font-size="49.5" fill="#fff">(a)</text>
<text x="233" y="189.8" font-size="31.5" fill="#fff" textLength="72" lengthAdjust="spacingAndGlyphs">Virgin</text>
<text x="647" y="189.8" font-size="31.5" fill="#fff" textLength="71.5" lengthAdjust="spacingAndGlyphs">Virgin</text>
<text x="854" y="190.3" font-size="31.5" fill="#fff" textLength="57" lengthAdjust="spacingAndGlyphs">CXL</text>
<text x="1313" y="190.3" font-size="31.5" fill="#fff" textLength="109.5" lengthAdjust="spacingAndGlyphs">Full CXL</text>
<text x="1507" y="174.8" font-size="31.5" fill="#fff" textLength="66" lengthAdjust="spacingAndGlyphs">2 mm</text>
<rect x="1482.5" y="182" width="121.5" height="10.8" fill="#fff"/>
<rect x="1654.3" y="3" width="24.2" height="206.5" fill="url(#cba)" stroke="#666" stroke-width=".7"/>
<text x="1684.3" y="32.6" font-size="19.5" fill="#3a3a3a" textLength="20" lengthAdjust="spacingAndGlyphs">90</text>
<text x="1684.3" y="84.9" font-size="19.5" fill="#3a3a3a" textLength="20" lengthAdjust="spacingAndGlyphs">80</text>
<text x="1684.3" y="137.3" font-size="19.5" fill="#3a3a3a" textLength="20" lengthAdjust="spacingAndGlyphs">70</text>
<text x="1684.3" y="189.6" font-size="19.5" fill="#3a3a3a" textLength="20" lengthAdjust="spacingAndGlyphs">60</text>
<text transform="translate(1641.5,105.4) rotate(-90)" font-size="25.5" fill="#3a3a3a" text-anchor="middle" textLength="152" lengthAdjust="spacingAndGlyphs">Intensity (dB)</text>
<rect x="3.5" y="225.6" width="1613.5" height="207.4" fill="#000"/>
<g filter="url(#spk3)">
<g clip-path="url(#cpb1)">
<path d="M2.5,306.8L5.4,306.5L38.1,402.7L35.5,402.6Z" fill="#19121f"/>
<path d="M5,306.7L7.9,305.2L40.2,402.9L37.7,402.6Z" fill="#1a1323"/>
<path d="M7.5,305.4L10.4,304L42.4,403.2L39.8,402.9Z" fill="#1b1426"/>
<path d="M10,304.2L12.9,302.7L44.6,403.4L42,403.1Z" fill="#1c152a"/>
<path d="M12.5,302.9L15.4,301.4L46.7,403.7L44.2,403.4Z" fill="#1d162d"/>
<path d="M15,301.6L17.9,300.2L48.9,403.9L46.3,403.6Z" fill="#1e1731"/>
<path d="M17.5,300.4L20.4,298.9L51.1,404.2L48.5,403.9Z" fill="#1e1834"/>
<path d="M20,299.1L22.9,297.7L53.2,404.4L50.7,404.1Z" fill="#1f1938"/>
<path d="M22.5,297.9L25.4,296.6L55.4,404.2L52.8,404.4Z" fill="#201a3b"/>
<path d="M25,296.7L27.9,295.5L57.7,403.4L55,404.3Z" fill="#211b3e"/>
<path d="M27.5,295.7L30.5,294.5L60,402.6L57.3,403.5Z" fill="#211b3f"/>
<path d="M30.1,294.6L33,293.4L62.3,401.9L59.6,402.8Z" fill="#221c41"/>
<path d="M32.6,293.6L35.6,292.4L64.6,401.1L61.9,402Z" fill="#221c42"/>
<path d="M35.2,292.6L38.1,291.4L66.9,400.4L64.2,401.2Z" fill="#221d44"/>
<path d="M37.7,291.5L40.6,290.4L69.2,399.6L66.5,400.5Z" fill="#231d45"/>
<path d="M40.2,290.5L43.2,289.4L71.4,398.9L68.8,399.8Z" fill="#231e47"/>
<path d="M42.8,289.5L45.7,288.3L73.7,398.2L71,399Z" fill="#241e48"/>
<path d="M45.3,288.5L48.3,287.3L76,397.4L73.3,398.3Z" fill="#241f4a"/>
<path d="M47.9,287.5L50.8,286.4L78.3,396.7L75.6,397.6Z" fill="#251f4b"/>
<path d="M50.4,286.5L53.4,285.4L80.6,396L77.9,396.9Z" fill="#25204d"/>
<path d="M53,285.5L55.9,284.4L82.9,395.3L80.2,396.2Z" fill="#25214e"/>
<path d="M55.5,284.5L58.5,283.4L84.9,394.8L82.5,395.5Z" fill="#25204d"/>
<path d="M58.1,283.5L61.1,282.4L86.9,394.2L84.5,394.9Z" fill="#241f4a"/>
<path d="M60.7,282.6L63.7,281.4L88.8,393.6L86.5,394.3Z" fill="#231e46"/>
<path d="M63.3,281.6L66.3,280.5L90.8,393L88.4,393.7Z" fill="#221d43"/>
<path d="M65.9,280.6L68.9,279.5L92.8,392.4L90.4,393.1Z" fill="#211b40"/>
<path d="M68.5,279.6L71.5,278.5L94.8,391.9L92.4,392.6Z" fill="#201a3c"/>
<path d="M71.1,278.7L74.1,277.6L96.8,391.3L94.4,392Z" fill="#201939"/>
<path d="M73.7,277.7L76.7,276.6L98.7,390.8L96.4,391.4Z" fill="#1f1836"/>
<path d="M76.3,276.8L79.3,275.7L100.7,390.2L98.3,390.9Z" fill="#1e1832"/>
<path d="M78.9,275.9L81.9,274.8L102.7,389.7L100.3,390.3Z" fill="#1d172f"/>
<path d="M81.5,274.9L84.5,273.9L104.7,389.1L102.3,389.8Z" fill="#1c162c"/>
<path d="M84.1,274L87.2,273L106.7,388.6L104.3,389.2Z" fill="#1b1528"/>
<path d="M86.8,273.1L89.8,272.1L109.2,387.9L106.2,388.7Z" fill="#19121f"/>
<path d="M89.3,272.2L92.4,271.2L111.9,387.2L108.8,388Z" fill="#291521"/>
<path d="M92,271.3L95,270.3L114.5,386.5L111.5,387.3Z" fill="#3a1824"/>
<path d="M94.5,270.4L97.6,269.4L117.1,385.8L114,386.6Z" fill="#501b27"/>
<path d="M97.2,269.6L100.2,268.5L119.7,385.1L116.7,385.9Z" fill="#671e2a"/>
<path d="M99.8,268.7L102.4,267.8L122.2,384.5L119.2,385.2Z" fill="#73202c"/>
<path d="M102,267.9L104.7,267.1L124.8,383.8L121.8,384.6Z" fill="#73202c"/>
<path d="M104.2,267.2L106.9,266.3L127.3,383.2L124.3,383.9Z" fill="#74202c"/>
<path d="M106.5,266.5L109.2,265.6L129.8,382.6L126.9,383.3Z" fill="#74202c"/>
<path d="M108.8,265.7L111.4,264.9L132.4,382L129.4,382.7Z" fill="#75202c"/>
<path d="M111,265L113.7,264.2L135,381.3L132,382.1Z" fill="#75202c"/>
<path d="M113.2,264.3L115.9,263.5L137.5,380.7L134.6,381.4Z" fill="#76202c"/>
<path d="M115.5,263.6L118.2,262.8L140.1,380.1L137.1,380.8Z" fill="#76202c"/>
<path d="M117.8,262.9L120.4,262.1L142.6,379.6L139.7,380.2Z" fill="#77202d"/>
<path d="M120,262.2L122.7,261.4L145.2,379L142.2,379.7Z" fill="#77202d"/>
<path d="M122.2,261.5L124.6,260.8L147.5,378.5L144.8,379.1Z" fill="#6c1f2b"/>
<path d="M124.2,261L126.5,260.3L149.8,378L147.1,378.6Z" fill="#501b27"/>
<path d="M126.1,260.4L128.5,259.7L152.1,377.4L149.4,378Z" fill="#381723"/>
<path d="M128.1,259.8L130.4,259.1L154.4,376.9L151.7,377.5Z" fill="#231420"/>
<path d="M405.2,248.9L408,249.6L394.1,375.4L391.8,374.9Z" fill="#22131f"/>
<path d="M407.6,249.5L410.3,250.1L396,375.8L393.7,375.3Z" fill="#361723"/>
<path d="M409.9,250L412.6,250.7L398,376.3L395.6,375.8Z" fill="#4c1b27"/>
<path d="M412.2,250.6L414.9,251.2L399.9,376.7L397.6,376.2Z" fill="#661e2a"/>
<path d="M414.5,251.1L441.4,258.6L423.4,382.3L399.5,376.6Z" fill="#73202c"/>
<path d="M441,258.5L443.3,259.2L426,383L423,382.2Z" fill="#661e2a"/>
<path d="M442.9,259L445.1,259.8L428.6,383.7L425.6,382.9Z" fill="#4c1b27"/>
<path d="M444.8,259.6L447,260.4L431.3,384.4L428.2,383.6Z" fill="#361723"/>
<path d="M446.6,260.2L448.9,261L433.9,385L430.9,384.3Z" fill="#22131f"/>
<path d="M448.5,260.8L450.8,261.6L436.3,385.7L433.5,384.9Z" fill="#1a1321"/>
<path d="M450.4,261.5L452.8,262.2L438.6,386.3L435.9,385.6Z" fill="#1b1427"/>
<path d="M452.4,262.1L454.7,262.9L441,386.9L438.2,386.2Z" fill="#1d162e"/>
<path d="M454.3,262.7L456.6,263.5L443.3,387.6L440.6,386.8Z" fill="#1e1834"/>
<path d="M456.2,263.4L458.5,264.2L445.7,388.2L442.9,387.5Z" fill="#201a3a"/>
<path d="M458.1,264L460.5,264.8L448,388.8L445.3,388.1Z" fill="#221c41"/>
<path d="M460.1,264.7L462.4,265.5L450.4,389.5L447.6,388.7Z" fill="#231e47"/>
<path d="M462,265.4L464.6,266.3L453,390.2L450,389.4Z" fill="#241f4a"/>
<path d="M464.2,266.2L466.9,267.1L455.6,390.9L452.6,390.1Z" fill="#241f49"/>
<path d="M466.5,267L469.1,267.9L458.2,391.6L455.2,390.8Z" fill="#241f49"/>
<path d="M468.8,267.8L471.4,268.8L460.8,392.3L457.8,391.5Z" fill="#241e48"/>
<path d="M471,268.6L473.6,269.6L463.4,393L460.4,392.2Z" fill="#241e47"/>
<path d="M473.2,269.4L475.9,270.4L466,393.7L463,392.9Z" fill="#231e47"/>
<path d="M475.5,270.3L478.1,271.3L468.6,394.5L465.6,393.6Z" fill="#231e46"/>
<path d="M477.8,271.2L480.4,272.2L471.2,395.2L468.2,394.3Z" fill="#231d45"/>
<path d="M480,272L482.6,273.1L473.8,395.9L470.8,395.1Z" fill="#231d45"/>
<path d="M482.2,272.9L484.9,274L476.4,396.6L473.4,395.8Z" fill="#231d44"/>
<path d="M484.5,273.8L487.1,274.9L479,397.3L476,396.5Z" fill="#221d43"/>
<path d="M486.8,274.7L489.4,275.8L481.6,398L478.6,397.2Z" fill="#221c42"/>
<path d="M489,275.6L491.6,276.7L484.1,398.7L481.2,397.9Z" fill="#221c42"/>
<path d="M491.2,276.6L494.5,277.9L485,398.9L483.8,398.6Z" fill="#211b40"/>
<path d="M494.1,277.7L497.3,279L485.9,399L484.6,398.8Z" fill="#201a3c"/>
<path d="M496.9,278.8L500.1,280.2L486.8,399.2L485.5,398.9Z" fill="#201938"/>
<path d="M499.7,280L502.9,281.3L487.6,399.4L486.4,399.1Z" fill="#1f1835"/>
<path d="M502.6,281.2L505.8,282.5L488.5,399.6L487.2,399.3Z" fill="#1e1731"/>
<path d="M505.4,282.3L508.6,283.7L489.4,399.7L488.1,399.5Z" fill="#1d162e"/>
<path d="M508.2,283.5L511.4,284.9L490.3,399.9L489,399.6Z" fill="#1c152a"/>
<path d="M511,284.8L514.2,286.2L491.1,400.1L489.9,399.8Z" fill="#1b1427"/>
<path d="M513.9,286L517.1,287.5L492,399.8L490.8,400Z" fill="#1a1323"/>
<path d="M516.7,287.3L519.9,288.2L492.9,399.7L491.6,399.9Z" fill="#19121f"/>
</g>
<g clip-path="url(#cpb2)">
<path d="M555.5,293.5L558.5,293L584.8,382.2L582.5,382.2Z" fill="#1a1221"/>
<path d="M558.1,293.3L561.1,291.5L586.6,382.1L584.4,382.2Z" fill="#1b1427"/>
<path d="M560.8,291.7L563.8,289.9L588.5,382.1L586.2,382.1Z" fill="#1d162d"/>
<path d="M563.4,290.2L566.4,288.4L590.4,382L588.1,382.1Z" fill="#1e1833"/>
<path d="M566,288.6L569,286.8L592.3,382L590,382Z" fill="#201938"/>
<path d="M568.6,287.1L571.6,285.3L594.1,381.9L591.9,382Z" fill="#211b3e"/>
<path d="M571.2,285.6L574.3,283.8L595.8,381.9L593.8,382Z" fill="#221c42"/>
<path d="M573.9,284L577,282.3L597.5,381.9L595.4,382Z" fill="#221c43"/>
<path d="M576.6,282.5L579.6,280.8L599.1,381.9L597.1,382Z" fill="#221d43"/>
<path d="M579.2,281L582.3,279.3L600.8,381.9L598.8,382Z" fill="#231d44"/>
<path d="M581.9,279.6L585,277.9L602.5,381.9L600.4,382Z" fill="#231d45"/>
<path d="M584.6,278.1L587.6,276.4L604.1,381.9L602.1,382Z" fill="#231d46"/>
<path d="M587.2,276.7L590.3,275L605.8,381.9L603.8,382Z" fill="#231e46"/>
<path d="M589.9,275.2L593,273.6L607.5,381.9L605.4,382Z" fill="#231e47"/>
<path d="M592.6,273.8L595.6,272.2L609.1,382L607.1,382Z" fill="#241e48"/>
<path d="M595.2,272.4L598.3,270.9L610.8,381.9L608.8,382Z" fill="#241f49"/>
<path d="M597.9,271.1L601,269.5L612.5,381.9L610.4,382Z" fill="#241f49"/>
<path d="M600.6,269.7L603.6,268.2L614.1,381.9L612.1,382Z" fill="#241f4a"/>
<path d="M603.2,268.4L606.4,266.9L616,381.9L613.8,382Z" fill="#231e46"/>
<path d="M606,267.1L609.2,265.5L617.8,381.9L615.6,381.9Z" fill="#211b3d"/>
<path d="M608.8,265.7L611.9,264.2L619.7,381.9L617.5,381.9Z" fill="#1e1834"/>
<path d="M611.5,264.4L614.6,262.9L621.5,381.8L619.3,381.9Z" fill="#1c152b"/>
<path d="M614.2,263.1L617.4,261.7L623.4,381.8L621.1,381.9Z" fill="#1a1322"/>
<path d="M617,261.9L619.3,260.8L626,381.6L623,381.8Z" fill="#22131f"/>
<path d="M618.9,261L621.1,259.9L628.6,381.5L625.6,381.7Z" fill="#341723"/>
<path d="M620.8,260.1L623,259L631.3,381.3L628.2,381.5Z" fill="#481a26"/>
<path d="M622.6,259.2L624.9,258.1L633.9,381.1L630.9,381.3Z" fill="#601d29"/>
<path d="M624.5,258.3L626.4,257.4L636.7,380.9L633.5,381.2Z" fill="#6c1f2b"/>
<path d="M626,257.6L627.9,256.7L639.5,380.7L636.3,381Z" fill="#6d1f2b"/>
<path d="M627.5,256.9L629.4,256L642.3,380.5L639.1,380.8Z" fill="#6d1f2b"/>
<path d="M629,256.2L630.9,255.3L645,380.3L641.9,380.5Z" fill="#6e1f2b"/>
<path d="M630.5,255.5L632.4,254.6L647.8,380.1L644.6,380.3Z" fill="#6e1f2b"/>
<path d="M632,254.8L633.9,254L650.6,379.9L647.4,380.1Z" fill="#6f1f2b"/>
<path d="M633.5,254.1L635.4,253.3L653.4,379.7L650.2,379.9Z" fill="#6f1f2b"/>
<path d="M635,253.5L636.9,252.7L656.2,379.5L653,379.7Z" fill="#70202c"/>
<path d="M636.5,252.9L638.4,252.1L659,379.3L655.8,379.5Z" fill="#70202c"/>
<path d="M638,252.2L639.9,251.5L661.8,379L658.6,379.3Z" fill="#71202c"/>
<path d="M639.5,251.6L641.4,250.9L664.5,378.8L661.4,379.1Z" fill="#71202c"/>
<path d="M641,251L642.9,250.3L667.3,378.6L664.1,378.8Z" fill="#72202c"/>
<path d="M642.5,250.4L644.4,249.7L670.1,378.4L666.9,378.6Z" fill="#72202c"/>
<path d="M644,249.9L645.9,249.2L672.9,378.2L669.7,378.4Z" fill="#73202c"/>
<path d="M645.5,249.3L647.8,248.5L675.3,378L672.5,378.2Z" fill="#621e2a"/>
<path d="M647.4,248.6L649.7,247.9L677.7,377.8L674.9,378Z" fill="#3f1925"/>
<path d="M649.3,248L651.6,247.3L680.1,377.6L677.3,377.8Z" fill="#261420"/>
<path d="M1003,305.6L1006,306.8L969.8,395.8L967,394.8Z" fill="#451a26"/>
<path d="M1005.7,306.7L1008.7,307.9L972.1,396.7L969.3,395.7Z" fill="#491a26"/>
<path d="M1008.3,307.8L1011.3,309L974.5,397.6L971.7,396.6Z" fill="#4d1b27"/>
<path d="M1010.9,308.9L1014,310.1L976.8,398.5L974.1,397.4Z" fill="#511b27"/>
<path d="M1013.6,310L1016.6,311.3L979.1,399.3L976.4,398.3Z" fill="#551c28"/>
<path d="M1016.2,311.1L1018.3,312L981.8,400.3L978.8,399.2Z" fill="#571c28"/>
<path d="M1017.9,311.8L1019.9,312.7L984.5,401.3L981.4,400.2Z" fill="#571c28"/>
<path d="M1019.5,312.6L1021.5,313.5L987.2,402.4L984.1,401.2Z" fill="#561c28"/>
<path d="M1021.1,313.3L1023.1,314.2L989.9,403.4L986.8,402.2Z" fill="#561c28"/>
<path d="M1022.7,314.1L1024.7,315L992.5,404.4L989.5,403.2Z" fill="#551c28"/>
<path d="M1024.3,314.8L1026.3,315.8L995.2,405.3L992.1,404.2Z" fill="#551c28"/>
<path d="M1025.9,315.6L1027.9,316.6L997.9,406.3L994.8,405.2Z" fill="#541c28"/>
<path d="M1027.5,316.4L1029.5,317.4L1000.6,407.3L997.5,406.2Z" fill="#541c28"/>
<path d="M1029.1,317.2L1031.1,318.2L1003.3,408.3L1000.2,407.2Z" fill="#531c28"/>
<path d="M1030.7,318L1032.7,319.1L1005.9,409.2L1002.9,408.1Z" fill="#531c28"/>
<path d="M1032.3,318.9L1034.3,319.9L1008.6,410.2L1005.5,409.1Z" fill="#521b27"/>
<path d="M1033.9,319.7L1035.9,320.8L1011.3,411.1L1008.2,410Z" fill="#521b27"/>
<path d="M1035.5,320.6L1037.5,321.7L1014,412L1010.9,411Z" fill="#511b27"/>
<path d="M1037.1,321.5L1039.2,322.6L1016.6,412.9L1013.6,411.9Z" fill="#511b27"/>
<path d="M1038.8,322.4L1041.2,323.8L1019.3,413.8L1016.2,412.8Z" fill="#4b1b27"/>
<path d="M1040.8,323.6L1043.2,325L1022,414.7L1018.9,413.7Z" fill="#421925"/>
<path d="M1042.8,324.8L1045.3,326.2L1024.7,415.5L1021.6,414.6Z" fill="#3a1824"/>
<path d="M1044.9,326L1047.3,327.5L1027.4,416.3L1024.3,415.4Z" fill="#321622"/>
<path d="M1046.9,327.2L1049.3,328.8L1030,417.1L1027,416.2Z" fill="#2b1521"/>
<path d="M1048.9,328.5L1051.4,329.6L1032.7,417.9L1029.6,417Z" fill="#241420"/>
<path d="M1051,329.6L1053.4,329.6L1035.4,417.9L1032.3,417.8Z" fill="#1c121e"/>
</g>
<g clip-path="url(#cpb3)">
<path d="M1087.5,327L1089.6,327.1L1105.6,404.3L1102.5,405Z" fill="#1c121e"/>
<path d="M1089.2,327.1L1091.3,327.1L1108.2,402.8L1105.2,404.5Z" fill="#231420"/>
<path d="M1090.9,327.4L1093.1,326L1110.9,401.6L1107.8,403Z" fill="#2a1521"/>
<path d="M1092.7,326.3L1094.8,324.8L1113.5,400.4L1110.5,401.7Z" fill="#311622"/>
<path d="M1094.4,325.1L1096.5,323.7L1116.2,399.2L1113.1,400.5Z" fill="#381824"/>
<path d="M1096.1,324L1098.2,322.6L1118.8,398L1115.8,399.3Z" fill="#401925"/>
<path d="M1097.8,322.9L1099.9,321.5L1121.5,396.8L1118.4,398.2Z" fill="#491a26"/>
<path d="M1099.5,321.8L1101.7,320.4L1124.2,395.6L1121.1,397Z" fill="#531c28"/>
<path d="M1101.2,320.7L1119.2,310.2L1156.7,382.3L1123.8,395.8Z" fill="#571c28"/>
<path d="M1118.8,310.4L1121.5,309L1159,381.4L1156.2,382.5Z" fill="#4b1a26"/>
<path d="M1121.1,309.2L1123.8,307.8L1161.3,380.6L1158.6,381.6Z" fill="#351723"/>
<path d="M1123.4,308L1126.2,306.6L1163.7,379.7L1160.9,380.7Z" fill="#22131f"/>
</g>
</g>
<g filter="url(#spk2)">
<g clip-path="url(#cpb1)">
<path d="M130,259.2L132.4,258.6L156.4,376.5L154,377Z" fill="#060719"/>
<path d="M132,258.7L134.4,258L158.4,376.1L156,376.6Z" fill="#15184a"/>
<path d="M134,258.1L136.4,257.4L160.4,375.7L158,376.2Z" fill="#232a75"/>
<path d="M136,257.5L138.4,256.9L162.4,375.3L160,375.8Z" fill="#2d378b"/>
<path d="M138,257L160.9,251.1L187.9,370.6L162,375.4Z" fill="#323f95"/>
<path d="M160.5,251.2L163.2,250.5L189.8,370.3L187.5,370.7Z" fill="#2f3a91"/>
<path d="M162.8,250.6L165.5,250L191.8,370L189.4,370.3Z" fill="#2a3385"/>
<path d="M165.1,250.1L167.8,249.5L193.7,369.7L191.4,370Z" fill="#252c79"/>
<path d="M167.4,249.6L170.2,249L195.7,369.4L193.3,369.7Z" fill="#1f246a"/>
<path d="M169.8,249.1L172.8,248.4L197.5,369.1L195.2,369.4Z" fill="#0e1034"/>
<path d="M172.4,248.5L175.4,247.8L199.4,368.8L197.1,369.2Z" fill="#260808"/>
<path d="M175,247.9L177.6,247.4L200.6,368.7L199,368.9Z" fill="#8a1c1c"/>
<path d="M177.2,247.5L179.7,247L201.7,368.5L200.2,368.7Z" fill="#c32427"/>
<path d="M179.3,247L181.9,246.5L202.9,368.3L201.3,368.6Z" fill="#d6292a"/>
<path d="M181.5,246.6L183.9,246.1L204.9,368.1L202.5,368.4Z" fill="#db2c2a"/>
<path d="M183.5,246.2L185.9,245.7L206.9,367.8L204.5,368.1Z" fill="#d26b30"/>
<path d="M185.5,245.8L187.9,245.3L208.9,367.5L206.5,367.8Z" fill="#be9e39"/>
<path d="M187.5,245.4L189.3,245.1L211.2,367.2L208.5,367.6Z" fill="#bba93b"/>
<path d="M188.9,245.1L190.8,244.8L213.6,366.9L210.8,367.3Z" fill="#baaa3b"/>
<path d="M190.4,244.9L192.3,244.5L215.9,366.6L213.2,367Z" fill="#baab3b"/>
<path d="M191.9,244.6L193.7,244.2L218.3,366.3L215.5,366.7Z" fill="#baac3b"/>
<path d="M193.3,244.3L195.2,244L220.7,366L217.9,366.4Z" fill="#baad3b"/>
<path d="M194.8,244L197.2,243.6L222.7,365.8L220.2,366.1Z" fill="#bba53a"/>
<path d="M196.8,243.7L199.2,243.3L224.7,365.6L222.2,365.9Z" fill="#cd7932"/>
<path d="M198.8,243.3L201.2,242.9L226.7,365.4L224.2,365.7Z" fill="#db2c2a"/>
<path d="M200.8,243L203.7,242.5L229.2,365.2L226.2,365.4Z" fill="#d5282a"/>
<path d="M203.2,242.6L206.2,242.1L231.7,364.9L228.8,365.2Z" fill="#a72022"/>
<path d="M205.8,242.2L207.5,241.9L233.8,364.7L231.2,364.9Z" fill="#310a0a"/>
<path d="M207.1,242L208.9,241.7L235.9,364.5L233.4,364.7Z" fill="#11133d"/>
<path d="M208.5,241.7L211,241.4L237.3,364.4L235.5,364.5Z" fill="#2e398e"/>
<path d="M210.6,241.4L213.2,241L238.7,364.3L236.9,364.4Z" fill="#3e61ac"/>
<path d="M212.8,241.1L215.8,240.7L240.5,364.2L238.2,364.3Z" fill="#3d9ac6"/>
<path d="M215.4,240.7L218.4,240.3L242.4,364L240.1,364.2Z" fill="#6aa7ba"/>
<path d="M218,240.4L220.5,240L243.8,363.9L242,364Z" fill="#7da8b4"/>
<path d="M220.1,240.1L222.7,239.8L245.2,363.8L243.4,364Z" fill="#82a8b3"/>
<path d="M222.2,239.8L224.8,239.5L246.5,363.7L244.8,363.9Z" fill="#86a9b3"/>
<path d="M224.4,239.6L226.9,239.3L247.9,363.7L246.1,363.8Z" fill="#8baab4"/>
<path d="M226.5,239.3L306.6,235.9L299.1,363L247.5,363.7Z" fill="#8eabb4"/>
<path d="M306.2,235.9L308.8,236L300.2,363L298.8,363Z" fill="#8aaab4"/>
<path d="M308.4,235.9L311,236L301.3,363.1L299.8,363Z" fill="#83a8b3"/>
<path d="M310.6,236L313.2,236.1L302.3,363.1L300.9,363.1Z" fill="#7ca8b5"/>
<path d="M312.8,236.1L315.4,236.2L303.4,363.2L301.9,363.1Z" fill="#75a8b6"/>
<path d="M315,236.2L317.5,236.4L304.8,363.2L303,363.2Z" fill="#65a6bb"/>
<path d="M317.1,236.3L319.6,236.5L306.1,363.3L304.4,363.2Z" fill="#449dc4"/>
<path d="M319.2,236.5L322.4,236.7L307.4,363.4L305.8,363.3Z" fill="#4077b8"/>
<path d="M322,236.6L325.1,236.8L308.6,363.4L307,363.3Z" fill="#3b57a8"/>
<path d="M324.8,236.8L327.3,237L309.8,363.5L308.2,363.4Z" fill="#303b92"/>
<path d="M326.9,237L329.5,237.2L311,363.6L309.4,363.5Z" fill="#212770"/>
<path d="M329.1,237.1L331.6,237.3L312.1,363.6L310.6,363.5Z" fill="#0a0b26"/>
<path d="M331.2,237.3L333.7,237.5L313.7,363.7L311.8,363.6Z" fill="#2b0909"/>
<path d="M333.3,237.5L335.8,237.7L315.3,363.8L313.3,363.7Z" fill="#921d1d"/>
<path d="M335.4,237.7L337.9,237.9L316.9,364L314.9,363.8Z" fill="#d2272a"/>
<path d="M337.5,237.9L340.3,238.1L318.8,364.1L316.5,363.9Z" fill="#d82a2a"/>
<path d="M339.9,238.1L342.7,238.4L320.7,364.2L318.4,364.1Z" fill="#db3a2a"/>
<path d="M342.3,238.3L345.1,238.6L322.6,364.4L320.3,364.2Z" fill="#c78a35"/>
<path d="M344.8,238.6L347.1,238.9L325.1,364.6L322.2,364.4Z" fill="#bca13a"/>
<path d="M346.7,238.8L349,239.1L327.5,364.8L324.7,364.6Z" fill="#bba93b"/>
<path d="M348.6,239L350.9,239.3L329.9,365.1L327.1,364.8Z" fill="#bab03b"/>
<path d="M350.5,239.3L352.4,239.5L332.4,365.3L329.5,365Z" fill="#bab03b"/>
<path d="M352,239.4L353.9,239.7L334.9,365.6L332,365.3Z" fill="#bba93b"/>
<path d="M353.5,239.6L355.4,239.9L337.4,365.9L334.5,365.6Z" fill="#bca13a"/>
<path d="M355,239.8L357.4,240.2L339.4,366.1L337,365.8Z" fill="#c78a35"/>
<path d="M357,240.1L359.4,240.4L341.4,366.4L339,366.1Z" fill="#db3a2a"/>
<path d="M359,240.4L361.4,240.7L343.4,366.6L341,366.3Z" fill="#d82a2a"/>
<path d="M361,240.7L363.8,241.1L345.3,366.9L343,366.6Z" fill="#d3272a"/>
<path d="M363.4,241L366.2,241.4L347.2,367.1L344.9,366.8Z" fill="#ab2122"/>
<path d="M365.8,241.4L368.6,241.8L349.1,367.4L346.8,367.1Z" fill="#6b1616"/>
<path d="M368.2,241.7L371.1,242.2L351.1,367.6L348.8,367.3Z" fill="#1d0606"/>
<path d="M370.7,242.1L373.5,242.6L353,367.9L350.7,367.6Z" fill="#0a0b26"/>
<path d="M373.1,242.5L375.9,243L354.9,368.2L352.6,367.8Z" fill="#1d2264"/>
<path d="M375.5,242.9L377.9,243.3L356.9,368.5L354.5,368.1Z" fill="#262e7c"/>
<path d="M377.5,243.3L379.9,243.7L358.9,368.8L356.5,368.4Z" fill="#2a3384"/>
<path d="M379.5,243.6L381.9,244.1L360.9,369.1L358.5,368.7Z" fill="#2d378b"/>
<path d="M381.5,244L383.9,244.4L362.9,369.4L360.5,369Z" fill="#303c93"/>
<path d="M383.5,244.4L385.5,244.7L365.5,369.9L362.5,369.4Z" fill="#323e95"/>
<path d="M385.1,244.7L387.1,245.1L368.1,370.3L365.1,369.8Z" fill="#313e95"/>
<path d="M386.7,245L388.7,245.4L370.7,370.8L367.7,370.3Z" fill="#313e95"/>
<path d="M388.3,245.3L390.3,245.7L373.3,371.3L370.3,370.7Z" fill="#313d94"/>
<path d="M389.9,245.6L392,246L376,371.7L372.9,371.2Z" fill="#313d94"/>
<path d="M391.6,245.9L393.6,246.4L378.6,372.2L375.6,371.7Z" fill="#313d94"/>
<path d="M393.2,246.3L395.2,246.7L381.2,372.8L378.2,372.2Z" fill="#313c93"/>
<path d="M394.8,246.6L396.8,247L383.8,373.3L380.8,372.7Z" fill="#303c93"/>
<path d="M396.4,247L398.4,247.4L386.4,373.8L383.4,373.2Z" fill="#303b92"/>
<path d="M398,247.3L400.8,247.9L388.3,374.2L386,373.7Z" fill="#2a3384"/>
<path d="M400.4,247.8L403.2,248.5L390.2,374.6L387.9,374.1Z" fill="#1b205e"/>
<path d="M402.8,248.4L405.6,249L392.1,375L389.8,374.5Z" fill="#08091f"/>
<path d="M242.5,251.2L258.3,297.5Q268,319.9 277.7,297.5L293.5,251.2Z" fill="#60a5bd"/>
<path d="M243.7,251.2L258.8,295.8Q268,317.2 277.2,295.8L292.3,251.2Z" fill="#407bba"/>
<path d="M245.1,251.2L259.4,293.7Q268,314.1 276.6,293.7L290.9,251.2Z" fill="#36489f"/>
<path d="M246.9,251.2L260.2,291.1Q268,310 275.8,291.1L289.1,251.2Z" fill="#1b205e"/>
<path d="M248.1,251.2L260.7,289.4Q268,307.3 275.3,289.4L287.9,251.2Z" fill="#781818"/>
<path d="M249.1,251.2L261.1,288Q268,305.1 274.9,288L286.9,251.2Z" fill="#d4282a"/>
<path d="M251.1,251.2L262,285.1Q268,300.6 274,285.1L284.9,251.2Z" fill="#da2c2a"/>
<path d="M253.1,251.2L262.8,282.2Q268,296.1 273.2,282.2L282.9,251.2Z" fill="#d26b30"/>
<path d="M255.1,251.2L263.6,279.3Q268,291.7 272.4,279.3L280.9,251.2Z" fill="#bba43a"/>
<path d="M257.1,251.2L264.5,276.5Q268,287.2 271.5,276.5L278.9,251.2Z" fill="#bab44b"/>
<ellipse cx="268" cy="262.2" rx="8" ry="7" fill="#b9b68d"/>
</g>
<g clip-path="url(#cpb2)">
<path d="M651.2,247.4L653.6,246.7L682.1,377.5L679.8,377.6Z" fill="#060719"/>
<path d="M653.2,246.8L655.6,246.1L684.1,377.3L681.8,377.5Z" fill="#15184a"/>
<path d="M655.2,246.2L657.6,245.5L686.1,377.2L683.8,377.4Z" fill="#232a75"/>
<path d="M657.2,245.6L659.6,244.9L688.1,377.1L685.8,377.2Z" fill="#2d378b"/>
<path d="M659.2,245L692.9,238.4L713.9,375L687.8,377.1Z" fill="#323f95"/>
<path d="M692.5,238.5L694,238.3L716.1,374.8L713.5,375Z" fill="#2f3a90"/>
<path d="M693.6,238.3L695,238.1L718.3,374.5L715.7,374.8Z" fill="#293182"/>
<path d="M694.6,238.2L696.1,238L720.5,374.3L717.9,374.6Z" fill="#232973"/>
<path d="M695.7,238L697.1,237.9L722.6,374.1L720.1,374.4Z" fill="#1a1e5a"/>
<path d="M696.8,237.9L699,237.7L725.3,373.9L722.2,374.2Z" fill="#07081c"/>
<path d="M698.6,237.7L700.9,237.5L727.9,373.6L724.9,373.9Z" fill="#4f1010"/>
<path d="M700.5,237.5L703.4,237.3L730.4,373.4L727.5,373.7Z" fill="#bb2326"/>
<path d="M703,237.3L705.9,237.1L732.9,373.1L730,373.4Z" fill="#d82a2a"/>
<path d="M705.5,237.1L708,237L734.6,373L732.5,373.2Z" fill="#da3d2b"/>
<path d="M707.6,237L710,236.8L736.3,372.8L734.2,373Z" fill="#cf7631"/>
<path d="M709.6,236.9L712.1,236.7L738,372.6L735.9,372.8Z" fill="#c19838"/>
<path d="M711.7,236.8L714.1,236.7L739.6,372.5L737.6,372.7Z" fill="#bba83b"/>
<path d="M713.8,236.7L731.6,236.6L760.1,370.6L739.2,372.5Z" fill="#baae3b"/>
<path d="M731.2,236.6L734.1,236.7L762.6,370.4L759.8,370.6Z" fill="#be9d39"/>
<path d="M733.8,236.7L736.6,236.8L765.1,370.1L762.2,370.4Z" fill="#dc332a"/>
<path d="M736.2,236.8L739.3,236.9L767,370L764.8,370.2Z" fill="#d4282a"/>
<path d="M738.9,236.9L741.9,237.1L768.9,369.8L766.6,370Z" fill="#8c1c1c"/>
<path d="M741.5,237.1L743.5,237.2L769.8,369.7L768.5,369.8Z" fill="#010105"/>
<path d="M743.1,237.2L745.1,237.3L770.6,369.6L769.4,369.7Z" fill="#242b76"/>
<path d="M744.8,237.3L747.3,237.4L772,369.5L770.2,369.6Z" fill="#3a51a6"/>
<path d="M746.9,237.4L749.4,237.6L773.4,369.4L771.6,369.5Z" fill="#407fbc"/>
<path d="M749,237.6L751.6,237.8L774.6,369.2L773,369.4Z" fill="#4ca0c2"/>
<path d="M751.2,237.7L753.7,238L775.7,369.1L774.2,369.3Z" fill="#65a6bb"/>
<path d="M753.3,237.9L755.9,238.2L776.9,369L775.3,369.1Z" fill="#79a8b5"/>
<path d="M755.5,238.1L758.1,238.4L778.1,368.9L776.5,369Z" fill="#86a9b3"/>
<path d="M757.7,238.3L760.2,238.6L779.2,368.8L777.7,368.9Z" fill="#89aab4"/>
<path d="M759.8,238.6L762.4,238.8L780.4,368.6L778.8,368.8Z" fill="#8caab4"/>
<path d="M762,238.8L851.6,257.6L844.1,366.4L780,368.7Z" fill="#8eabb4"/>
<path d="M851.2,257.5L853.8,258.2L845.2,366.5L843.8,366.4Z" fill="#89aab4"/>
<path d="M853.4,258L856,258.8L846.3,366.5L844.8,366.4Z" fill="#80a8b4"/>
<path d="M855.6,258.6L858.2,259.3L847.3,366.5L845.9,366.5Z" fill="#76a9b6"/>
<path d="M857.8,259.2L860.4,259.9L848.4,366.5L846.9,366.5Z" fill="#6ea8b9"/>
<path d="M860,259.8L862.6,260.5L849.1,366.6L848,366.5Z" fill="#63a6bc"/>
<path d="M862.2,260.4L864.9,261.2L849.9,366.6L848.8,366.5Z" fill="#53a3c0"/>
<path d="M864.5,261L867.1,261.8L850.6,366.6L849.5,366.5Z" fill="#409bc5"/>
<path d="M866.8,261.7L869.4,262.4L851.4,366.6L850.2,366.5Z" fill="#3f87bf"/>
<path d="M869,262.3L872.2,263.2L851.8,366.5L851,366.5Z" fill="#4076b7"/>
<path d="M871.8,263L875,263.9L852.2,366.5L851.4,366.5Z" fill="#3f6bb1"/>
<path d="M874.6,263.8L877.8,264.7L852.6,366.5L851.8,366.5Z" fill="#3e61ac"/>
<path d="M877.4,264.6L880.6,265.5L853,366.4L852.2,366.4Z" fill="#3c5aa9"/>
<path d="M880.2,265.3L883.4,266.2L853.4,366.4L852.6,366.4Z" fill="#3a52a6"/>
<path d="M883,266.1L886.3,267.1L854,366.4L853,366.3Z" fill="#374ba1"/>
<path d="M885.9,266.9L889.1,267.9L854.6,366.4L853.6,366.3Z" fill="#344399"/>
<path d="M888.8,267.8L892,268.7L855.3,366.3L854.2,366.3Z" fill="#303b91"/>
<path d="M891.6,268.6L894.9,269.5L855.9,366.3L854.9,366.3Z" fill="#2b3487"/>
<path d="M894.5,269.4L897.6,270.3L857.1,366.4L855.5,366.3Z" fill="#1e2367"/>
<path d="M897.2,270.2L900.4,271.2L858.4,366.5L856.8,366.4Z" fill="#020309"/>
<path d="M900,271L902.7,271.9L860.7,366.8L858,366.5Z" fill="#5d1313"/>
<path d="M902.3,271.8L905.1,272.6L863.1,367L860.3,366.7Z" fill="#b32224"/>
<path d="M904.7,272.5L907.4,273.4L865.4,367.3L862.7,367Z" fill="#d5292a"/>
<path d="M907,273.2L909.4,274L868.1,367.7L865,367.3Z" fill="#d92b2a"/>
<path d="M909,273.9L911.5,274.7L870.8,368.1L867.7,367.7Z" fill="#da2b2a"/>
<path d="M911.1,274.6L913.5,275.3L873.4,368.5L870.4,368Z" fill="#db2c2a"/>
<path d="M913.1,275.2L915.5,276L876.1,369L873,368.5Z" fill="#db2d2a"/>
<path d="M915.1,275.9L917.6,276.7L878.8,369.4L875.7,368.9Z" fill="#dc2f2a"/>
<path d="M917.2,276.5L919.6,277.3L881.5,369.9L878.4,369.3Z" fill="#da3d2b"/>
<path d="M919.2,277.2L921.6,278L884.1,370.4L881.1,369.8Z" fill="#d94b2c"/>
<path d="M921.2,277.8L923.4,278.5L886.8,370.9L883.8,370.3Z" fill="#d94b2c"/>
<path d="M923,278.4L925.1,279.1L889.5,371.4L886.4,370.8Z" fill="#da402b"/>
<path d="M924.7,279L926.8,279.6L892.1,372L889.1,371.4Z" fill="#dc332a"/>
<path d="M926.4,279.5L928.5,280.2L894.8,372.6L891.7,371.9Z" fill="#dc2d2a"/>
<path d="M928.1,280.1L930.2,280.7L897.4,373.2L894.4,372.5Z" fill="#db2c2a"/>
<path d="M929.8,280.6L932,281.3L900.1,373.8L897,373.1Z" fill="#da2c2a"/>
<path d="M931.6,281.2L933.7,281.9L902.7,374.4L899.7,373.7Z" fill="#da2b2a"/>
<path d="M933.3,281.7L935.4,282.4L905.4,375.1L902.3,374.3Z" fill="#d92b2a"/>
<path d="M935,282.3L937.4,283L907.4,375.6L905,375Z" fill="#d7292a"/>
<path d="M937,282.9L939.4,283.7L909.4,376.1L907,375.5Z" fill="#d3272a"/>
<path d="M939,283.5L941.4,284.3L911.4,376.6L909,376Z" fill="#af2223"/>
<path d="M941,284.2L943.4,284.9L913.4,377.2L911,376.5Z" fill="#7f1a1a"/>
<path d="M943,284.8L945.3,285.6L915.7,377.8L913,377Z" fill="#3b0d0d"/>
<path d="M944.9,285.4L947.3,286.2L918,378.4L915.3,377.7Z" fill="#050101"/>
<path d="M946.9,286.1L949.2,286.8L920.3,379.1L917.6,378.3Z" fill="#0b0d2a"/>
<path d="M948.8,286.7L951.1,287.4L922.6,379.8L919.9,379Z" fill="#191e59"/>
<path d="M950.8,287.3L953.2,288.1L924.3,380.3L922.2,379.7Z" fill="#232a75"/>
<path d="M952.8,288L955.3,288.8L926,380.8L923.9,380.1Z" fill="#272f7f"/>
<path d="M954.9,288.6L957.3,289.4L927.7,381.3L925.6,380.7Z" fill="#2c3588"/>
<path d="M956.9,289.3L959.4,290.1L929.4,381.8L927.3,381.2Z" fill="#303b92"/>
<path d="M959,290L985.9,299.2L952.9,389.7L929,381.7Z" fill="#323f95"/>
<path d="M985.5,299L988.5,300.1L954.8,390.4L952.5,389.6Z" fill="#2f3a90"/>
<path d="M988.1,300L991.1,301.1L956.6,391L954.4,390.2Z" fill="#293182"/>
<path d="M990.8,300.9L993.8,302.1L958.5,391.7L956.2,390.9Z" fill="#232973"/>
<path d="M993.4,301.9L996.4,303L960.4,392.4L958.1,391.6Z" fill="#1a1e5a"/>
<path d="M996,302.9L998.7,303.9L962.7,393.3L960,392.3Z" fill="#0d0f32"/>
<path d="M998.3,303.8L1001.1,304.8L965.1,394.1L962.3,393.1Z" fill="#000"/>
<path d="M1000.7,304.7L1003.4,305.8L967.4,395L964.7,394Z" fill="#3a0c0c"/>
<path d="M782.5,260.9L799.5,308.6Q810,331.8 820.5,308.6L837.5,260.9Z" fill="#60a5bd"/>
<path d="M783.7,260.9L800,306.9Q810,329.2 820,306.9L836.3,260.9Z" fill="#407bba"/>
<path d="M785.1,260.9L800.6,304.9Q810,326 819.4,304.9L834.9,260.9Z" fill="#36489f"/>
<path d="M786.9,260.9L801.3,302.3Q810,322 818.7,302.3L833.1,260.9Z" fill="#1b205e"/>
<path d="M788.1,260.9L801.9,300.6Q810,319.3 818.1,300.6L831.9,260.9Z" fill="#781818"/>
<path d="M789.1,260.9L802.3,299.1Q810,317.1 817.7,299.1L830.9,260.9Z" fill="#d4282a"/>
<path d="M791.1,260.9L803.1,296.3Q810,312.6 816.9,296.3L828.9,260.9Z" fill="#da2c2a"/>
<path d="M793.1,260.9L804,293.4Q810,308.1 816,293.4L826.9,260.9Z" fill="#d26b30"/>
<path d="M795.1,260.9L804.8,290.5Q810,303.6 815.2,290.5L824.9,260.9Z" fill="#bba43a"/>
<path d="M797.1,260.9L805.6,287.6Q810,299.1 814.4,287.6L822.9,260.9Z" fill="#bab44b"/>
<ellipse cx="810" cy="271.9" rx="8.8" ry="7" fill="#b9b68d"/>
</g>
<g clip-path="url(#cpb3)">
<path d="M1125.8,306.8L1128.2,305.5L1165.3,379.1L1163.2,379.9Z" fill="#070719"/>
<path d="M1127.8,305.7L1130.3,304.5L1167,378.5L1164.9,379.3Z" fill="#15184b"/>
<path d="M1129.9,304.7L1132.3,303.5L1168.7,377.9L1166.6,378.7Z" fill="#242a76"/>
<path d="M1131.9,303.7L1134.4,302.6L1170.4,377.3L1168.3,378.1Z" fill="#2e398f"/>
<path d="M1134,302.7L1186.4,281.3L1210.4,364.6L1170,377.5Z" fill="#334099"/>
<path d="M1186,281.5L1188.7,280.6L1212.7,364L1210,364.7Z" fill="#303b93"/>
<path d="M1188.2,280.7L1190.9,279.8L1214.9,363.3L1212.2,364.1Z" fill="#2a3384"/>
<path d="M1190.5,279.9L1193.2,279L1217.2,362.7L1214.5,363.4Z" fill="#232a75"/>
<path d="M1192.8,279.1L1195.4,278.2L1219.4,362.1L1216.8,362.8Z" fill="#1a1f5b"/>
<path d="M1195,278.4L1197.4,277.6L1221.4,361.5L1219,362.2Z" fill="#0c0d2c"/>
<path d="M1197,277.7L1199.4,276.9L1223.4,361L1221,361.6Z" fill="#160404"/>
<path d="M1199,277L1201.4,276.2L1225.4,360.4L1223,361.1Z" fill="#681515"/>
<path d="M1201,276.4L1203.4,275.6L1227.4,359.9L1225,360.6Z" fill="#b12224"/>
<path d="M1203,275.7L1205.4,274.9L1229.4,359.4L1227,360Z" fill="#dc292c"/>
<path d="M1205,275L1207.4,274.3L1231.4,358.9L1229,359.5Z" fill="#e22c2c"/>
<path d="M1207,274.4L1210,273.4L1233.3,358.4L1231,359Z" fill="#e62f2c"/>
<path d="M1209.6,273.6L1212.7,272.6L1235.2,358L1232.9,358.5Z" fill="#e74d2f"/>
<path d="M1212.2,272.7L1215.3,271.8L1237,357.5L1234.8,358.1Z" fill="#e48236"/>
<path d="M1214.9,271.9L1217.9,271L1238.9,357.1L1236.6,357.6Z" fill="#e0a73c"/>
<path d="M1217.5,271.1L1219.9,270.4L1240.9,356.6L1238.5,357.2Z" fill="#ddb940"/>
<path d="M1219.5,270.5L1221.9,269.8L1242.9,356.1L1240.5,356.7Z" fill="#dcc341"/>
<path d="M1221.5,269.9L1223.9,269.2L1244.9,355.6L1242.5,356.2Z" fill="#dbc941"/>
<path d="M1223.5,269.3L1225.9,268.6L1246.9,355.2L1244.5,355.7Z" fill="#dbcf42"/>
<path d="M1225.5,268.7L1227.3,268.2L1249.7,354.6L1246.5,355.3Z" fill="#dbd242"/>
<path d="M1226.9,268.3L1228.7,267.8L1252.4,353.9L1249.3,354.6Z" fill="#dbd142"/>
<path d="M1228.3,267.9L1230.1,267.4L1255.2,353.3L1252,354Z" fill="#dbd142"/>
<path d="M1229.7,267.5L1231.5,267L1258,352.7L1254.8,353.4Z" fill="#dbd042"/>
<path d="M1231.1,267.1L1232.9,266.5L1260.8,352.1L1257.6,352.8Z" fill="#dbd042"/>
<path d="M1232.5,266.6L1234.4,266.1L1263.5,351.6L1260.4,352.2Z" fill="#dbcf42"/>
<path d="M1234,266.2L1235.8,265.7L1266.3,351L1263.1,351.6Z" fill="#dbcf42"/>
<path d="M1235.4,265.8L1237.2,265.3L1269.1,350.5L1265.9,351.1Z" fill="#dbce42"/>
<path d="M1236.8,265.4L1238.6,264.9L1271.9,349.9L1268.7,350.5Z" fill="#dbce42"/>
<path d="M1238.2,265L1240,264.5L1274.6,349.4L1271.5,350Z" fill="#dbcd42"/>
<path d="M1239.6,264.6L1241.4,264.1L1277.4,348.9L1274.2,349.5Z" fill="#dbcc42"/>
<path d="M1241,264.2L1243.4,263.6L1279.4,348.5L1277,349Z" fill="#dcc241"/>
<path d="M1243,263.7L1245.4,263L1281.4,348.2L1279,348.6Z" fill="#e29639"/>
<path d="M1245,263.1L1247.4,262.5L1283.4,347.9L1281,348.3Z" fill="#e7342c"/>
<path d="M1247,262.6L1248.7,262.1L1285.8,347.5L1283,347.9Z" fill="#e22d2c"/>
<path d="M1248.3,262.2L1250,261.8L1288.3,347.1L1285.4,347.5Z" fill="#de2a2c"/>
<path d="M1249.6,261.9L1251.3,261.4L1290.7,346.7L1287.9,347.1Z" fill="#d1272a"/>
<path d="M1250.9,261.5L1252.7,261.1L1293.2,346.3L1290.3,346.7Z" fill="#aa2122"/>
<path d="M1252.2,261.2L1254.8,260.5L1294.3,346.1L1292.8,346.3Z" fill="#631414"/>
<path d="M1254.4,260.6L1257,260L1295.5,346L1293.9,346.2Z" fill="#0b0202"/>
<path d="M1256.6,260.1L1259.2,259.5L1296.7,345.8L1295.1,346Z" fill="#10123c"/>
<path d="M1258.8,259.6L1261.4,258.9L1297.4,345.7L1296.2,345.9Z" fill="#232974"/>
<path d="M1261,259L1263.7,258.4L1298.2,345.6L1297,345.8Z" fill="#2e388d"/>
<path d="M1263.2,258.5L1265.9,257.9L1298.9,345.6L1297.8,345.7Z" fill="#3748a1"/>
<path d="M1265.5,258L1268.4,257.3L1299.9,345.5L1298.5,345.6Z" fill="#3c56ac"/>
<path d="M1268,257.4L1270.8,256.8L1300.8,345.3L1299.5,345.5Z" fill="#3f5eb0"/>
<path d="M1270.4,256.9L1273.2,256.3L1301.8,345.2L1300.4,345.4Z" fill="#4166b4"/>
<path d="M1272.8,256.4L1275.7,255.7L1302.7,345.1L1301.3,345.3Z" fill="#4271bb"/>
<path d="M1275.3,255.8L1278.2,255.2L1303.7,345L1302.3,345.2Z" fill="#447dc2"/>
<path d="M1277.8,255.3L1280.6,254.7L1305,344.9L1303.2,345.1Z" fill="#438fcc"/>
<path d="M1280.2,254.8L1283,254.2L1306.3,344.7L1304.6,344.9Z" fill="#42a6d7"/>
<path d="M1282.6,254.3L1285.5,253.7L1307.6,344.6L1305.9,344.8Z" fill="#53b1d7"/>
<path d="M1285.1,253.8L1287.9,253.2L1308.9,344.4L1307.2,344.6Z" fill="#64b8d6"/>
<path d="M1287.5,253.3L1290.5,252.7L1310.8,344.2L1308.5,344.5Z" fill="#73bdd5"/>
<path d="M1290.1,252.8L1293.2,252.2L1312.7,344L1310.4,344.3Z" fill="#81c1d3"/>
<path d="M1292.8,252.3L1295.8,251.7L1314.5,343.8L1312.2,344Z" fill="#8fc4d3"/>
<path d="M1295.4,251.8L1298.4,251.2L1316.4,343.6L1314.1,343.8Z" fill="#9ec7d3"/>
<path d="M1298,251.3L1412.9,243.4L1385.9,340.1L1316,343.6Z" fill="#a5c8d4"/>
<path d="M1412.5,243.4L1415,243.6L1387.5,340.1L1385.5,340.1Z" fill="#9cc6d3"/>
<path d="M1414.6,243.5L1417.1,243.7L1389.1,340.1L1387.1,340.1Z" fill="#88c3d3"/>
<path d="M1416.7,243.7L1419.2,243.9L1390.7,340.1L1388.7,340.1Z" fill="#75bdd4"/>
<path d="M1418.8,243.8L1421.2,244L1392.2,340.1L1390.2,340.1Z" fill="#61b7d6"/>
<path d="M1420.8,244L1423.3,244.2L1393.8,340.1L1391.8,340.1Z" fill="#4aacd7"/>
<path d="M1422.9,244.2L1425.4,244.4L1395.4,340.1L1393.4,340.1Z" fill="#4393ce"/>
<path d="M1425,244.4L1427.5,244.6L1396.8,340.1L1395,340.1Z" fill="#437ac1"/>
<path d="M1427.1,244.6L1429.7,244.8L1398.2,340.1L1396.4,340.1Z" fill="#4169b5"/>
<path d="M1429.2,244.8L1431.8,245.1L1399.5,340.1L1397.8,340.1Z" fill="#3e5db0"/>
<path d="M1431.4,245L1433.9,245.3L1400.9,340.2L1399.1,340.1Z" fill="#3b52aa"/>
<path d="M1433.5,245.3L1436.5,245.6L1402,340.2L1400.5,340.1Z" fill="#323d96"/>
<path d="M1436.1,245.6L1439.1,245.9L1403.1,340.2L1401.6,340.1Z" fill="#222771"/>
<path d="M1438.7,245.9L1441.7,246.3L1404.2,340.2L1402.7,340.2Z" fill="#0a0b26"/>
<path d="M1441.2,246.2L1443.8,246.6L1405.3,340.2L1403.8,340.2Z" fill="#2c0909"/>
<path d="M1443.4,246.5L1446,246.9L1406.5,340.2L1404.9,340.2Z" fill="#961e1e"/>
<path d="M1445.6,246.8L1448.2,247.2L1407.7,340.2L1406.1,340.2Z" fill="#db292c"/>
<path d="M1447.8,247.2L1449.5,247.5L1410.3,340.3L1407.2,340.2Z" fill="#e02c2c"/>
<path d="M1449.1,247.4L1451,247.7L1412.8,340.4L1409.9,340.3Z" fill="#e32d2c"/>
<path d="M1450.6,247.7L1452.3,248L1415.5,340.6L1412.4,340.4Z" fill="#e62f2c"/>
<path d="M1451.9,247.9L1453.8,248.2L1418,340.7L1415.1,340.5Z" fill="#e74d2f"/>
<path d="M1453.4,248.2L1455.2,248.5L1420.7,340.8L1417.6,340.7Z" fill="#e57c35"/>
<path d="M1454.8,248.4L1457.2,248.9L1422.7,340.9L1420.2,340.8Z" fill="#e0a53c"/>
<path d="M1456.8,248.8L1459.2,249.3L1424.7,341.1L1422.2,340.9Z" fill="#dcc041"/>
<path d="M1458.8,249.2L1461.2,249.7L1426.7,341.2L1424.2,341Z" fill="#dbcc42"/>
<path d="M1460.8,249.6L1463.2,250.1L1429.2,341.3L1426.2,341.1Z" fill="#dbd242"/>
<path d="M1462.8,250L1465.2,250.5L1431.7,341.5L1428.8,341.3Z" fill="#dbd142"/>
<path d="M1464.8,250.4L1467.2,250.9L1434.2,341.7L1431.3,341.5Z" fill="#dbd142"/>
<path d="M1466.8,250.8L1469.3,251.4L1436.8,341.9L1433.8,341.7Z" fill="#dbd042"/>
<path d="M1468.9,251.3L1471.3,251.8L1439.3,342.1L1436.4,341.9Z" fill="#dbcf42"/>
<path d="M1470.9,251.8L1473.3,252.3L1441.8,342.3L1438.9,342.1Z" fill="#dbce42"/>
<path d="M1472.9,252.2L1475.3,252.8L1444.3,342.5L1441.4,342.3Z" fill="#dbce42"/>
<path d="M1474.9,252.7L1477.4,253.3L1446.9,342.8L1443.9,342.5Z" fill="#dbcd42"/>
<path d="M1477,253.2L1479.4,253.8L1449.4,343L1446.5,342.7Z" fill="#dbcc42"/>
<path d="M1479,253.7L1481.8,254.4L1451.3,343.2L1449,343Z" fill="#dcc341"/>
<path d="M1481.4,254.3L1484.2,255L1453.2,343.4L1450.9,343.1Z" fill="#e19e3a"/>
<path d="M1483.8,254.9L1486.7,255.6L1455.2,343.5L1452.8,343.3Z" fill="#e74a2e"/>
<path d="M1486.2,255.5L1488.8,256.2L1457.5,343.8L1454.8,343.5Z" fill="#e52e2c"/>
<path d="M1488.4,256.1L1490.9,256.8L1459.9,344.1L1457.1,343.8Z" fill="#e32d2c"/>
<path d="M1490.5,256.7L1493,257.4L1462.3,344.3L1459.5,344Z" fill="#e22c2c"/>
<path d="M1492.6,257.3L1495.2,258L1464.7,344.6L1461.9,344.3Z" fill="#e02b2c"/>
<path d="M1494.8,257.9L1497.3,258.6L1467,344.9L1464.2,344.6Z" fill="#de2a2c"/>
<path d="M1496.9,258.5L1499.4,259.2L1469.4,345.2L1466.6,344.8Z" fill="#dc292c"/>
<path d="M1499,259.1L1501.5,259.8L1470.8,345.3L1469,345.1Z" fill="#c62528"/>
<path d="M1501.1,259.7L1503.7,260.4L1472.2,345.5L1470.4,345.3Z" fill="#9a1f1f"/>
<path d="M1503.2,260.3L1505.8,261.1L1473.5,345.7L1471.8,345.4Z" fill="#571212"/>
<path d="M1505.4,261L1507.9,261.7L1474.9,345.8L1473.1,345.6Z" fill="#1b0606"/>
<path d="M1507.5,261.6L1510.3,262.4L1476.1,345.9L1474.5,345.8Z" fill="#04040f"/>
<path d="M1509.9,262.3L1512.7,263.2L1477.3,346.1L1475.7,345.9Z" fill="#0c0e2e"/>
<path d="M1512.3,263.1L1515.1,263.9L1478.5,346.2L1476.9,346Z" fill="#15194c"/>
<path d="M1514.7,263.8L1517.5,264.7L1479.7,346.3L1478.1,346.1Z" fill="#1f246a"/>
<path d="M1517.1,264.6L1519.9,265.5L1480.9,346.5L1479.3,346.3Z" fill="#262e7c"/>
<path d="M1519.5,265.3L1521.6,266.1L1483.6,346.9L1480.5,346.4Z" fill="#2a3385"/>
<path d="M1521.2,265.9L1523.3,266.7L1486.3,347.3L1483.2,346.8Z" fill="#2b3488"/>
<path d="M1522.9,266.5L1525.1,267.3L1489.1,347.7L1485.9,347.3Z" fill="#2c368a"/>
<path d="M1524.7,267.2L1526.8,267.9L1491.8,348.2L1488.7,347.7Z" fill="#2d378d"/>
<path d="M1526.4,267.8L1528.5,268.5L1494.5,348.7L1491.4,348.1Z" fill="#2f398f"/>
<path d="M1528.1,268.4L1530.2,269.2L1497.2,349.1L1494.1,348.6Z" fill="#303a92"/>
<path d="M1529.8,269L1532,269.8L1500,349.6L1496.8,349.1Z" fill="#313c94"/>
<path d="M1531.6,269.7L1533.7,270.5L1502.7,350.1L1499.6,349.5Z" fill="#323e97"/>
<path d="M1533.3,270.3L1535.4,271.1L1505.4,350.6L1502.3,350Z" fill="#333f99"/>
<path d="M1535,271L1537,271.7L1508.1,351.1L1505,350.5Z" fill="#334099"/>
<path d="M1536.6,271.6L1538.7,272.4L1510.7,351.6L1507.7,351Z" fill="#334099"/>
<path d="M1538.3,272.2L1540.3,273L1513.4,352.2L1510.3,351.6Z" fill="#334099"/>
<path d="M1539.9,272.8L1542,273.6L1516.1,352.7L1513,352.1Z" fill="#334099"/>
<path d="M1541.6,273.5L1543.6,274.2L1518.8,353.2L1515.7,352.6Z" fill="#334099"/>
<path d="M1543.2,274.1L1545.3,274.9L1521.4,353.8L1518.4,353.2Z" fill="#334099"/>
<path d="M1544.9,274.7L1546.9,275.5L1524.1,354.4L1521,353.7Z" fill="#333f98"/>
<path d="M1546.5,275.4L1548.6,276.2L1526.8,354.9L1523.7,354.3Z" fill="#333f98"/>
<path d="M1548.2,276L1550.2,276.8L1529.4,355.5L1526.4,354.9Z" fill="#333f98"/>
<path d="M1549.8,276.7L1551.9,277.4L1532.1,356.1L1529,355.5Z" fill="#333f98"/>
<path d="M1551.5,277.3L1553.5,278.1L1534.8,356.7L1531.7,356Z" fill="#323f98"/>
<path d="M1553.1,277.9L1555.2,278.7L1537.4,357.4L1534.4,356.7Z" fill="#323f98"/>
<path d="M1554.8,278.6L1556.8,279.4L1540.1,358L1537,357.3Z" fill="#323e97"/>
<path d="M1556.4,279.2L1558.5,280L1542.8,358.6L1539.7,357.9Z" fill="#323e97"/>
<path d="M1558.1,279.9L1560.1,280.7L1545.5,359.3L1542.4,358.5Z" fill="#323e97"/>
<path d="M1559.7,280.5L1561.8,281.3L1548.1,359.9L1545.1,359.2Z" fill="#323e97"/>
<path d="M1561.4,281.2L1563.4,282L1550.8,360.6L1547.7,359.8Z" fill="#323e97"/>
<path d="M1563,281.8L1565.1,282.6L1553.5,361.3L1550.4,360.5Z" fill="#323e97"/>
<path d="M1564.7,282.5L1566.7,283.3L1556.1,362L1553.1,361.2Z" fill="#323e97"/>
<path d="M1566.3,283.1L1568.4,283.9L1558.8,362.7L1555.7,361.9Z" fill="#323d96"/>
<path d="M1568,283.7L1570,284.5L1561.5,363.4L1558.4,362.6Z" fill="#323d96"/>
<path d="M1569.6,284.4L1571.7,285.2L1564.2,364.1L1561.1,363.3Z" fill="#323d96"/>
<path d="M1571.2,285L1574,286.1L1566.8,364.8L1563.8,364Z" fill="#2f3a91"/>
<path d="M1573.6,285.9L1576.3,287L1569.5,365.5L1566.4,364.7Z" fill="#2a3386"/>
<path d="M1575.9,286.8L1578.7,287.9L1572.1,366.2L1569.1,365.4Z" fill="#262d7a"/>
<path d="M1578.3,287.7L1581,288.7L1574.8,367L1571.7,366.1Z" fill="#20266d"/>
<path d="M1580.6,288.6L1583.4,289.6L1577.4,367.7L1574.4,366.9Z" fill="#191d57"/>
<path d="M1583,289.5L1586,290.5L1578.5,368L1577,367.6Z" fill="#10123c"/>
<path d="M1585.6,290.4L1588.6,291.5L1579.6,368.3L1578.1,367.9Z" fill="#07081c"/>
<path d="M1588.2,291.3L1591.2,292.4L1580.7,368.6L1579.2,368.2Z" fill="#040101"/>
<path d="M1590.8,292.2L1593.7,293.3L1581.7,368.9L1580.2,368.5Z" fill="#280808"/>
<path d="M1593.3,293.2L1596.3,294.2L1582.8,368.8L1581.3,368.8Z" fill="#501111"/>
<path d="M1595.9,294.1L1598.9,294.2L1583.9,368.8L1582.4,368.8Z" fill="#7f1a1a"/>
<path d="M1317.5,254.3L1338,294.9Q1351,314.1 1364,294.9L1384.5,254.3Z" fill="#6bbad5"/>
<path d="M1319.2,254.3L1338.7,293Q1351,311.1 1363.3,293L1382.8,254.3Z" fill="#4483c6"/>
<path d="M1321.3,254.3L1339.6,290.8Q1351,307.7 1362.4,290.8L1380.7,254.3Z" fill="#384ba4"/>
<path d="M1323.9,254.3L1340.7,288Q1351,303.3 1361.3,288L1378.1,254.3Z" fill="#1b205f"/>
<path d="M1325.6,254.3L1341.4,286.1Q1351,300.4 1360.6,286.1L1376.4,254.3Z" fill="#7a1919"/>
<path d="M1327.1,254.3L1342,284.5Q1351,298 1360,284.5L1374.9,254.3Z" fill="#dd2a2c"/>
<path d="M1330,254.3L1343.2,281.4Q1351,293.1 1358.8,281.4L1372,254.3Z" fill="#e42e2c"/>
<path d="M1332.9,254.3L1344.4,278.3Q1351,288.2 1357.6,278.3L1369.1,254.3Z" fill="#e57534"/>
<path d="M1335.8,254.3L1345.7,275.1Q1351,283.4 1356.3,275.1L1366.2,254.3Z" fill="#dcc041"/>
<path d="M1338.7,254.3L1346.9,272Q1351,278.5 1355.1,272L1363.3,254.3Z" fill="#dbd455"/>
<ellipse cx="1351" cy="265.3" rx="10.8" ry="7" fill="#dad6a4"/>
</g>
</g>
<g clip-path="url(#pb)">
<path d="M-41,356L35.4,437.5L101.8,375.3L25.4,293.8Z" fill="url(#fd7)"/>
<path d="M528.9,426.9L575.6,333.4L503.2,297.2L456.4,390.6Z" fill="url(#fd8)"/>
<path d="M505.7,323.3L540.5,411.7L608.4,384.9L573.7,296.6Z" fill="url(#fd9)"/>
<path d="M1065.3,440.4L1107.7,352.8L1043.8,321.9L1001.4,409.5Z" fill="url(#fd10)"/>
<path d="M1041.6,345.8L1069.7,424.4L1132.8,401.9L1104.7,323.3Z" fill="url(#fd11)"/>
<path d="M1615.5,389.6L1646.3,311.3L1591.4,289.7L1560.6,368Z" fill="url(#fd12)"/>
</g>
<line x1="134.1" y1="260.2" x2="155.6" y2="377.6" stroke="#fff" stroke-width="2.6" stroke-dasharray="11.5 6.5"/>
<line x1="207.9" y1="243.5" x2="240.5" y2="372.9" stroke="#fff" stroke-width="2.6" stroke-dasharray="11.5 6.5"/>
<line x1="161.4" y1="377.4" x2="230.6" y2="361.1" stroke="#fff" stroke-width="2.2"/><path d="M157.5,378.3L169.2,379.9L165,376.5L167.2,371.7Z" fill="#fff"/><path d="M234.5,360.2L224.8,366.8L227,362L222.8,358.6Z" fill="#fff"/>
<circle cx="158.7" cy="388" r="1.6" fill="#fff"/>
<line x1="655" y1="254.6" x2="678" y2="372.9" stroke="#fff" stroke-width="2.6" stroke-dasharray="11.5 6.5"/>
<line x1="748.7" y1="248.3" x2="768.6" y2="365" stroke="#fff" stroke-width="2.6" stroke-dasharray="11.5 6.5"/>
<line x1="685.9" y1="374.5" x2="760.1" y2="360.9" stroke="#fff" stroke-width="2.2"/><path d="M682,375.2L693.6,377.4L689.6,373.8L692.1,369.1Z" fill="#fff"/><path d="M764,360.2L753.9,366.3L756.4,361.6L752.4,358Z" fill="#fff"/>
<circle cx="680.5" cy="381.6" r="1.6" fill="#fff"/>
<line x1="893.7" y1="274.3" x2="861.2" y2="364" stroke="#fff" stroke-width="2.6" stroke-dasharray="11.5 6.5"/>
<line x1="999.2" y1="307.8" x2="974.5" y2="398.5" stroke="#fff" stroke-width="2.6" stroke-dasharray="11.5 6.5"/>
<line x1="866.3" y1="366.1" x2="969.7" y2="396.4" stroke="#fff" stroke-width="2.2"/><path d="M862.5,365L871.9,372.1L869.9,367.2L874.2,364.1Z" fill="#fff"/><path d="M973.5,397.5L961.8,398.4L966.1,395.3L964.1,390.4Z" fill="#fff"/>
<circle cx="858.3" cy="375.4" r="1.5" fill="#fff"/>
<line x1="1122.4" y1="298" x2="1180.5" y2="399.5" stroke="#fff" stroke-width="2.6" stroke-dasharray="11.5 6.5"/>
<line x1="1234.7" y1="251.7" x2="1297.8" y2="367" stroke="#fff" stroke-width="2.6" stroke-dasharray="11.5 6.5"/>
<line x1="1189.1" y1="394.9" x2="1282.3" y2="354.8" stroke="#fff" stroke-width="2.2"/><path d="M1185.4,396.5L1197.2,396L1192.5,393.5L1193.8,388.3Z" fill="#fff"/><path d="M1286,353.2L1277.6,361.4L1278.9,356.2L1274.2,353.7Z" fill="#fff"/>
<circle cx="1296.8" cy="366.5" r="1.6" fill="#fff"/>
<text x="5.6" y="270" font-size="49.5" fill="#fff">(b)</text>
<text x="236" y="418.3" font-size="31.5" fill="#fff" textLength="72" lengthAdjust="spacingAndGlyphs">Virgin</text>
<text x="613.5" y="419.3" font-size="31.5" fill="#fff" textLength="71" lengthAdjust="spacingAndGlyphs">Virgin</text>
<text x="979.5" y="427.8" font-size="31.5" fill="#fff" textLength="57" lengthAdjust="spacingAndGlyphs">CXL</text>
<text x="1314.5" y="419" font-size="31.5" fill="#fff" textLength="109.5" lengthAdjust="spacingAndGlyphs">Full CXL</text>
<text x="1509" y="403.2" font-size="31.5" fill="#fff" textLength="65.5" lengthAdjust="spacingAndGlyphs">2 mm</text>
<rect x="1485" y="411.5" width="120" height="10" fill="#fff"/>
<rect x="1654.3" y="232.4" width="26.5" height="191.5" fill="url(#cbb)" stroke="#444" stroke-width=".8"/>
<text x="1688" y="238" font-size="19.5" fill="#3a3a3a" textLength="24.5" lengthAdjust="spacingAndGlyphs">0.4</text>
<text x="1688" y="285.9" font-size="19.5" fill="#3a3a3a" textLength="24.5" lengthAdjust="spacingAndGlyphs">0.2</text>
<text x="1688" y="333.8" font-size="19.5" fill="#3a3a3a" textLength="10" lengthAdjust="spacingAndGlyphs">0</text>
<text x="1688" y="381.7" font-size="19.5" fill="#3a3a3a" textLength="31.5" lengthAdjust="spacingAndGlyphs">-0.2</text>
<text x="1688" y="429.6" font-size="19.5" fill="#3a3a3a" textLength="31.5" lengthAdjust="spacingAndGlyphs">-0.4</text>
<text transform="translate(1642,330.5) rotate(-90)" font-size="25.5" fill="#3a3a3a" text-anchor="middle" textLength="196" lengthAdjust="spacingAndGlyphs">Part. Vel. (mm/s)</text>
<rect x="4.7" y="452.3" width="1612" height="209.4" fill="#000"/>
<g filter="url(#spk)">
<path d="M8.2,552.8L15.2,549.6L22.1,546.4L29.1,543.3L36,540.2L43,537.2L49.9,534.2L56.9,531.3L63.8,528.5L70.8,525.7L77.7,523L84.7,520.4L91.6,517.8L98.6,515.4L105.5,513L112.5,510.7L119.4,508.5L126.4,506.4L133.3,504.3L140.3,502.4L147.2,500.6L154.2,498.8L161.1,497.2L168.1,495.7L175,494.2L182,492.9L189,491.6L195.9,490.4L202.9,489.4L209.8,488.4L216.8,487.5L223.7,486.7L230.7,486L237.6,485.4L244.6,484.9L251.5,484.5L258.5,484.2L265.4,483.9L272.4,483.7L279.3,483.7L286.3,483.7L293.2,483.7L300.2,483.9L307.1,484.1L314.1,484.5L321,484.9L328,485.3L334.9,485.9L341.9,486.5L348.9,487.2L355.8,488L362.8,488.9L369.7,489.9L376.7,490.9L383.6,492L390.6,493.2L397.5,494.5L404.5,495.8L411.4,497.3L418.4,498.8L425.3,500.4L432.3,502.2L439.2,504L446.2,505.9L453.1,508L460.1,510.1L467,512.4L474,514.8L480.9,517.3L487.9,520L494.8,522.8L501.8,525.7L508.7,528.8L515.7,532.1L506,545L500,562L498,592L497.2,609.7L490.2,606.7L483.1,603.8L476.1,601.1L469.1,598.6L462,596.2L455,594L448,591.9L440.9,589.9L433.9,588L426.9,586.3L419.8,584.6L412.8,583L405.8,581.5L398.7,580.2L391.7,578.9L384.6,577.6L377.6,576.5L370.6,575.5L363.5,574.5L356.5,573.6L349.5,572.8L342.4,572L335.4,571.4L328.4,570.8L321.3,570.3L314.3,569.8L307.3,569.5L300.2,569.2L293.2,569L286.2,568.9L279.1,568.9L272.1,569L265.1,569.1L258,569.4L251,569.7L244,570.1L236.9,570.6L229.9,571.2L222.9,571.9L215.8,572.7L208.8,573.6L201.8,574.6L194.7,575.7L187.7,576.8L180.7,578.1L173.6,579.4L166.6,580.8L159.6,582.4L152.5,584L145.5,585.6L138.4,587.4L131.4,589.2L124.4,591.1L117.3,593L110.3,595L103.3,597.1L96.2,599.2L89.2,601.3L82.2,603.4L75.1,605.6L68.1,607.7L61.1,609.8L54,611.9L47,614L42,590L26,570L9,555Z" fill="url(#gc1)"/>
<path d="M8.2,552.8L15.2,549.6L22.1,546.4L29.1,543.3L36,540.2L43,537.2L49.9,534.2L56.9,531.3L63.8,528.5L70.8,525.7L77.7,523L84.7,520.4L91.6,517.8L98.6,515.4L105.5,513L112.5,510.7L119.4,508.5L126.4,506.4L133.3,504.3L140.3,502.4L147.2,500.6L154.2,498.8L161.1,497.2L168.1,495.7L175,494.2L182,492.9L189,491.6L195.9,490.4L202.9,489.4L209.8,488.4L216.8,487.5L223.7,486.7L230.7,486L237.6,485.4L244.6,484.9L251.5,484.5L258.5,484.2L265.4,483.9L272.4,483.7L279.3,483.7L286.3,483.7L293.2,483.7L300.2,483.9L307.1,484.1L314.1,484.5L321,484.9L328,485.3L334.9,485.9L341.9,486.5L348.9,487.2L355.8,488L362.8,488.9L369.7,489.9L376.7,490.9L383.6,492L390.6,493.2L397.5,494.5L404.5,495.8L411.4,497.3L418.4,498.8L425.3,500.4L432.3,502.2L439.2,504L446.2,505.9L453.1,508L460.1,510.1L467,512.4L474,514.8L480.9,517.3L487.9,520L494.8,522.8L501.8,525.7L508.7,528.8L515.7,532.1L506,545L500,562L498,592L497.2,609.7L490.2,606.7L483.1,603.8L476.1,601.1L469.1,598.6L462,596.2L455,594L448,591.9L440.9,589.9L433.9,588L426.9,586.3L419.8,584.6L412.8,583L405.8,581.5L398.7,580.2L391.7,578.9L384.6,577.6L377.6,576.5L370.6,575.5L363.5,574.5L356.5,573.6L349.5,572.8L342.4,572L335.4,571.4L328.4,570.8L321.3,570.3L314.3,569.8L307.3,569.5L300.2,569.2L293.2,569L286.2,568.9L279.1,568.9L272.1,569L265.1,569.1L258,569.4L251,569.7L244,570.1L236.9,570.6L229.9,571.2L222.9,571.9L215.8,572.7L208.8,573.6L201.8,574.6L194.7,575.7L187.7,576.8L180.7,578.1L173.6,579.4L166.6,580.8L159.6,582.4L152.5,584L145.5,585.6L138.4,587.4L131.4,589.2L124.4,591.1L117.3,593L110.3,595L103.3,597.1L96.2,599.2L89.2,601.3L82.2,603.4L75.1,605.6L68.1,607.7L61.1,609.8L54,611.9L47,614L42,590L26,570L9,555Z" fill="url(#shd)"/>
<path d="M568.2,531.9L575.2,528.5L582.1,525.1L589.1,521.8L596,518.7L603,515.6L609.9,512.7L616.9,509.9L623.8,507.3L630.8,504.8L637.7,502.5L644.7,500.4L651.6,498.4L658.6,496.6L665.6,494.9L672.5,493.5L679.5,492.2L686.4,491L693.4,490.1L700.3,489.3L707.3,488.7L714.2,488.3L721.2,488L728.1,487.9L735.1,487.9L742,488.1L749,488.4L755.9,488.9L762.9,489.5L769.9,490.2L776.8,491L783.8,491.9L790.7,493L797.7,494.1L804.6,495.3L811.6,496.7L818.5,498.1L825.5,499.5L832.4,501.1L839.4,502.7L846.3,504.3L853.3,506L860.3,507.8L867.2,509.5L874.2,511.4L881.1,513.2L888.1,515.1L895,517.1L902,519L908.9,521L915.9,523L922.8,525.1L929.8,527.1L936.7,529.3L943.7,531.4L950.6,533.6L957.6,535.9L964.6,538.2L971.5,540.6L978.5,543.1L985.4,545.7L992.4,548.3L999.3,551.1L1006.3,554L1013.2,557.1L1020.2,560.3L1027.1,563.8L1034.1,567.4L1041,571.3L1048,575.4L1053,594L1048,620L1041.9,634.4L1034.9,631.3L1027.9,628.2L1020.9,625.1L1013.9,622.2L1006.9,619.2L999.9,616.4L992.9,613.7L985.9,611L978.9,608.4L971.9,605.9L964.9,603.5L957.9,601.3L950.9,599.1L943.9,597L936.9,595.1L929.9,593.2L922.8,591.5L915.8,589.9L908.8,588.3L901.8,586.9L894.8,585.6L887.8,584.5L880.8,583.4L873.8,582.4L866.8,581.5L859.8,580.8L852.8,580.1L845.8,579.5L838.8,579L831.8,578.6L824.8,578.3L817.8,578.1L810.8,578L803.8,577.9L796.8,577.9L789.8,578L782.8,578.1L775.8,578.3L768.8,578.6L761.8,578.9L754.8,579.3L747.8,579.7L740.8,580.1L733.8,580.6L726.8,581.2L719.8,581.8L712.8,582.4L705.8,583.1L698.7,583.8L691.7,584.5L684.7,585.3L677.7,586.1L670.7,586.9L663.7,587.7L656.7,588.6L649.7,589.5L642.7,590.5L635.7,591.5L628.7,592.5L621.7,593.6L614.7,594.7L607.7,595.9L600.7,597.1L593.7,598.4L586.7,599.8L580,576L571,550Z" fill="url(#gc2)"/>
<path d="M568.2,531.9L575.2,528.5L582.1,525.1L589.1,521.8L596,518.7L603,515.6L609.9,512.7L616.9,509.9L623.8,507.3L630.8,504.8L637.7,502.5L644.7,500.4L651.6,498.4L658.6,496.6L665.6,494.9L672.5,493.5L679.5,492.2L686.4,491L693.4,490.1L700.3,489.3L707.3,488.7L714.2,488.3L721.2,488L728.1,487.9L735.1,487.9L742,488.1L749,488.4L755.9,488.9L762.9,489.5L769.9,490.2L776.8,491L783.8,491.9L790.7,493L797.7,494.1L804.6,495.3L811.6,496.7L818.5,498.1L825.5,499.5L832.4,501.1L839.4,502.7L846.3,504.3L853.3,506L860.3,507.8L867.2,509.5L874.2,511.4L881.1,513.2L888.1,515.1L895,517.1L902,519L908.9,521L915.9,523L922.8,525.1L929.8,527.1L936.7,529.3L943.7,531.4L950.6,533.6L957.6,535.9L964.6,538.2L971.5,540.6L978.5,543.1L985.4,545.7L992.4,548.3L999.3,551.1L1006.3,554L1013.2,557.1L1020.2,560.3L1027.1,563.8L1034.1,567.4L1041,571.3L1048,575.4L1053,594L1048,620L1041.9,634.4L1034.9,631.3L1027.9,628.2L1020.9,625.1L1013.9,622.2L1006.9,619.2L999.9,616.4L992.9,613.7L985.9,611L978.9,608.4L971.9,605.9L964.9,603.5L957.9,601.3L950.9,599.1L943.9,597L936.9,595.1L929.9,593.2L922.8,591.5L915.8,589.9L908.8,588.3L901.8,586.9L894.8,585.6L887.8,584.5L880.8,583.4L873.8,582.4L866.8,581.5L859.8,580.8L852.8,580.1L845.8,579.5L838.8,579L831.8,578.6L824.8,578.3L817.8,578.1L810.8,578L803.8,577.9L796.8,577.9L789.8,578L782.8,578.1L775.8,578.3L768.8,578.6L761.8,578.9L754.8,579.3L747.8,579.7L740.8,580.1L733.8,580.6L726.8,581.2L719.8,581.8L712.8,582.4L705.8,583.1L698.7,583.8L691.7,584.5L684.7,585.3L677.7,586.1L670.7,586.9L663.7,587.7L656.7,588.6L649.7,589.5L642.7,590.5L635.7,591.5L628.7,592.5L621.7,593.6L614.7,594.7L607.7,595.9L600.7,597.1L593.7,598.4L586.7,599.8L580,576L571,550Z" fill="url(#shd)"/>
<path d="M1092.3,566.7L1099.3,562.9L1106.3,559L1113.3,555.3L1120.3,551.7L1127.3,548.2L1134.3,544.7L1141.3,541.4L1148.3,538.1L1155.3,534.9L1162.3,531.9L1169.3,528.9L1176.4,526.1L1183.4,523.3L1190.4,520.7L1197.4,518.1L1204.4,515.6L1211.4,513.3L1218.4,511.1L1225.4,508.9L1232.4,506.9L1239.4,504.9L1246.4,503.1L1253.4,501.4L1260.4,499.7L1267.4,498.2L1274.4,496.7L1281.4,495.4L1288.4,494.2L1295.4,493L1302.4,492L1309.4,491L1316.4,490.2L1323.4,489.4L1330.4,488.7L1337.4,488.2L1344.5,487.7L1351.5,487.3L1358.5,487L1365.5,486.8L1372.5,486.6L1379.5,486.6L1386.5,486.7L1393.5,486.8L1400.5,487.1L1407.5,487.4L1414.5,487.9L1421.5,488.4L1428.5,489L1435.5,489.7L1442.5,490.5L1449.5,491.4L1456.5,492.5L1463.5,493.6L1470.5,494.8L1477.5,496.1L1484.5,497.6L1491.5,499.1L1498.5,500.8L1505.5,502.6L1512.6,504.5L1519.6,506.6L1526.6,508.8L1533.6,511.1L1540.6,513.6L1547.6,516.2L1554.6,519L1561.6,521.9L1568.6,525L1575.6,528.3L1582.6,531.8L1589.6,535.5L1585,560L1575.3,582.8L1568.3,580.7L1561.3,578.6L1554.4,576.6L1547.4,574.7L1540.4,572.9L1533.4,571.2L1526.4,569.5L1519.4,567.9L1512.5,566.4L1505.5,565L1498.5,563.7L1491.5,562.4L1484.5,561.3L1477.5,560.2L1470.6,559.1L1463.6,558.2L1456.6,557.3L1449.6,556.5L1442.6,555.8L1435.7,555.2L1428.7,554.6L1421.7,554.1L1414.7,553.7L1407.7,553.4L1400.7,553.1L1393.8,552.9L1386.8,552.8L1379.8,552.7L1372.8,552.7L1365.8,552.8L1358.8,553L1351.9,553.3L1344.9,553.6L1337.9,554L1330.9,554.5L1323.9,555L1317,555.7L1310,556.4L1303,557.2L1296,558.1L1289,559L1282,560.1L1275.1,561.2L1268.1,562.4L1261.1,563.7L1254.1,565L1247.1,566.5L1240.1,568L1233.2,569.7L1226.2,571.4L1219.2,573.2L1212.2,575.1L1205.2,577.1L1198.3,579.2L1191.3,581.4L1184.3,583.7L1177.3,586.1L1170.3,588.6L1163.3,591.2L1156.4,593.9L1149.4,596.8L1142.4,599.7L1135.4,602.7L1128.4,605.9L1121.4,609.2L1114.5,612.6L1107.5,616.2L1100.5,619.8L1096,596Z" fill="url(#gc3)"/>
<path d="M1092.3,566.7L1099.3,562.9L1106.3,559L1113.3,555.3L1120.3,551.7L1127.3,548.2L1134.3,544.7L1141.3,541.4L1148.3,538.1L1155.3,534.9L1162.3,531.9L1169.3,528.9L1176.4,526.1L1183.4,523.3L1190.4,520.7L1197.4,518.1L1204.4,515.6L1211.4,513.3L1218.4,511.1L1225.4,508.9L1232.4,506.9L1239.4,504.9L1246.4,503.1L1253.4,501.4L1260.4,499.7L1267.4,498.2L1274.4,496.7L1281.4,495.4L1288.4,494.2L1295.4,493L1302.4,492L1309.4,491L1316.4,490.2L1323.4,489.4L1330.4,488.7L1337.4,488.2L1344.5,487.7L1351.5,487.3L1358.5,487L1365.5,486.8L1372.5,486.6L1379.5,486.6L1386.5,486.7L1393.5,486.8L1400.5,487.1L1407.5,487.4L1414.5,487.9L1421.5,488.4L1428.5,489L1435.5,489.7L1442.5,490.5L1449.5,491.4L1456.5,492.5L1463.5,493.6L1470.5,494.8L1477.5,496.1L1484.5,497.6L1491.5,499.1L1498.5,500.8L1505.5,502.6L1512.6,504.5L1519.6,506.6L1526.6,508.8L1533.6,511.1L1540.6,513.6L1547.6,516.2L1554.6,519L1561.6,521.9L1568.6,525L1575.6,528.3L1582.6,531.8L1589.6,535.5L1585,560L1575.3,582.8L1568.3,580.7L1561.3,578.6L1554.4,576.6L1547.4,574.7L1540.4,572.9L1533.4,571.2L1526.4,569.5L1519.4,567.9L1512.5,566.4L1505.5,565L1498.5,563.7L1491.5,562.4L1484.5,561.3L1477.5,560.2L1470.6,559.1L1463.6,558.2L1456.6,557.3L1449.6,556.5L1442.6,555.8L1435.7,555.2L1428.7,554.6L1421.7,554.1L1414.7,553.7L1407.7,553.4L1400.7,553.1L1393.8,552.9L1386.8,552.8L1379.8,552.7L1372.8,552.7L1365.8,552.8L1358.8,553L1351.9,553.3L1344.9,553.6L1337.9,554L1330.9,554.5L1323.9,555L1317,555.7L1310,556.4L1303,557.2L1296,558.1L1289,559L1282,560.1L1275.1,561.2L1268.1,562.4L1261.1,563.7L1254.1,565L1247.1,566.5L1240.1,568L1233.2,569.7L1226.2,571.4L1219.2,573.2L1212.2,575.1L1205.2,577.1L1198.3,579.2L1191.3,581.4L1184.3,583.7L1177.3,586.1L1170.3,588.6L1163.3,591.2L1156.4,593.9L1149.4,596.8L1142.4,599.7L1135.4,602.7L1128.4,605.9L1121.4,609.2L1114.5,612.6L1107.5,616.2L1100.5,619.8L1096,596Z" fill="url(#shd)"/>
</g>
<g filter="url(#spk2)">
<g clip-path="url(#cpc1)"><rect x="100.7" y="470" width="373.9" height="150" fill="url(#oc1)"/><rect x="100.7" y="470" width="373.9" height="150" fill="url(#oc1v)"/></g>
<g clip-path="url(#cpc2)"><path d="M636,470L987.4,470L987.4,602.5L943,594.5L905,588L880,640L636,640Z" fill="url(#oc2)"/>
<path d="M772,487.4L780,488.4L792,490.2L804,492.2L816,494.5L828,497.1L840,499.8L852,502.7L864,505.7L866,510.2L860,509.3L848,509.4L836,509.7L824,510.2L812,508.7L800,506.5L788,504.6L776,502.9L772,503.4 Z" fill="#b4c450"/>
<rect x="636" y="530" width="137" height="70" fill="url(#oc2v)"/>
</g>
<g clip-path="url(#cpc3)"><path d="M1144,500L1144,560L1136,574L1180,592L1180,640L1564,640L1564,470L1144,470Z" fill="url(#oc3)"/>
<path d="M1300.4,556.5L1305.4,555.9L1310.4,555.4L1315.4,554.8L1320.4,554.4L1325.4,553.9L1330.4,553.5L1335.4,553.2L1340.4,552.9L1345.4,552.6L1350.4,552.3L1355.4,552.1L1360.4,552L1365.4,551.9L1370.4,551.8L1375.4,551.7L1380.4,551.7L1385.4,551.7L1390.4,551.8L1395.4,551.9L1400.4,552.1L1405.4,552.3L1410.4,552.5L1415.4,552.7L1420.4,553L1425.4,553.4L1430.4,553.7L1435.4,554.2L1440.4,554.6L1445.4,555.1L1450.4,555.6L1455.4,556.2L1460.3,556.8L1465.3,557.4L1470.3,558.1L1475.3,558.8" fill="none" stroke="#d22c2c" stroke-width="3"/>
</g>
</g>
<g clip-path="url(#pc)">
<path d="M-35.1,573.7L45,652.5L108.8,587.6L28.7,508.8Z" fill="url(#fd13)"/>
<path d="M527.2,650.5L573.7,554.9L500.9,519.5L454.4,615Z" fill="url(#fd14)"/>
<path d="M515.8,541.6L552.7,633.9L620.5,606.7L583.5,514.5Z" fill="url(#fd15)"/>
<path d="M1070.3,671.1L1110,581.2L1046.9,553.3L1007.2,643.3Z" fill="url(#fd16)"/>
<path d="M1040.1,580.1L1076.2,657.8L1137,629.6L1100.9,551.9Z" fill="url(#fd17)"/>
<path d="M1609,618.3L1642.2,538.1L1585.8,514.8L1552.6,595Z" fill="url(#fd18)"/>
</g>
<rect x="497" y="553" width="76" height="1.6" fill="#2c2c2c"/>
<rect x="1584" y="552" width="32" height="1.6" fill="#383838"/>
<rect x="1340" y="561.5" width="70" height="2.2" fill="#666" opacity=".45"/>
<line x1="773" y1="471.5" x2="773" y2="635" stroke="#e6e6e6" stroke-width="2.2" stroke-dasharray="12.5 8.2" stroke-opacity=".8"/>
<text x="8" y="496" font-size="49.5" fill="#fff">(c)</text>
<text x="235" y="647.3" font-size="31.5" fill="#fff" textLength="71" lengthAdjust="spacingAndGlyphs">Virgin</text>
<text x="648" y="648.8" font-size="31.5" fill="#fff" textLength="71.5" lengthAdjust="spacingAndGlyphs">Virgin</text>
<text x="854.5" y="648.8" font-size="31.5" fill="#fff" textLength="57" lengthAdjust="spacingAndGlyphs">CXL</text>
<text x="1314" y="648.3" font-size="31.5" fill="#fff" textLength="109.5" lengthAdjust="spacingAndGlyphs">Full CXL</text>
<text x="1507.5" y="631.8" font-size="31.5" fill="#fff" textLength="66" lengthAdjust="spacingAndGlyphs">2 mm</text>
<rect x="1484" y="640.8" width="120" height="10" fill="#fff"/>
<rect x="1655.2" y="451" width="27" height="210.2" fill="url(#cbc)"/>
<text x="1690" y="457.4" font-size="20.5" fill="#3a3a3a" textLength="10.5" lengthAdjust="spacingAndGlyphs">5</text>
<text x="1690" y="499.3" font-size="20.5" fill="#3a3a3a" textLength="10.5" lengthAdjust="spacingAndGlyphs">4</text>
<text x="1690" y="541.2" font-size="20.5" fill="#3a3a3a" textLength="10.5" lengthAdjust="spacingAndGlyphs">3</text>
<text x="1690" y="583.1" font-size="20.5" fill="#3a3a3a" textLength="10.5" lengthAdjust="spacingAndGlyphs">2</text>
<text x="1690" y="625" font-size="20.5" fill="#3a3a3a" textLength="10.5" lengthAdjust="spacingAndGlyphs">1</text>
<text x="1690" y="666.9" font-size="20.5" fill="#3a3a3a" textLength="10.5" lengthAdjust="spacingAndGlyphs">0</text>
<text transform="translate(1644.5,555) rotate(-90)" font-size="27" fill="#3a3a3a" text-anchor="middle" textLength="213" lengthAdjust="spacingAndGlyphs">Wave speed (m/s)</text>
<rect x="141.6" y="851.4" width="219.6" height="112.4" fill="none" stroke="#fff" stroke-width="2.8" stroke-dasharray="12 7"/>
<rect x="528.5" y="851.2" width="220" height="97.3" fill="none" stroke="#fff" stroke-width="2.8" stroke-dasharray="12 7"/>
<text x="130.2" y="825" font-family="DejaVu Serif" font-size="24.5" fill="#fff" textLength="250.5" lengthAdjust="spacingAndGlyphs"><tspan font-style="italic">c</tspan> = 3.07 ± 0.26 m/s</text>
<text x="516.6" y="825" font-family="DejaVu Serif" font-size="24.5" fill="#fff" textLength="250.5" lengthAdjust="spacingAndGlyphs"><tspan font-style="italic">c</tspan> = 4.94 ± 0.98 m/s</text>
<text x="109.5" y="756.1" font-size="27.5" fill="#3a3a3a" text-anchor="end" textLength="13.5" lengthAdjust="spacingAndGlyphs">2</text>
<text x="109.5" y="841.7" font-size="27.5" fill="#3a3a3a" text-anchor="end" textLength="35" lengthAdjust="spacingAndGlyphs">2.5</text>
<text x="109.5" y="927.3" font-size="27.5" fill="#3a3a3a" text-anchor="end" textLength="13.5" lengthAdjust="spacingAndGlyphs">3</text>
<text x="200.3" y="1022.2" font-size="27.5" fill="#3a3a3a" text-anchor="middle" textLength="13.5" lengthAdjust="spacingAndGlyphs">4</text>
<text x="363.8" y="1022.2" font-size="27.5" fill="#3a3a3a" text-anchor="middle" textLength="13.5" lengthAdjust="spacingAndGlyphs">5</text>
<text x="527.3" y="1022.2" font-size="27.5" fill="#3a3a3a" text-anchor="middle" textLength="13.5" lengthAdjust="spacingAndGlyphs">6</text>
<text x="690.8" y="1022.2" font-size="27.5" fill="#3a3a3a" text-anchor="middle" textLength="13.5" lengthAdjust="spacingAndGlyphs">7</text>
<text x="444.5" y="1061" font-size="31" fill="#3a3a3a" text-anchor="middle" textLength="318" lengthAdjust="spacingAndGlyphs">Propagation path (mm)</text>
<text transform="translate(57,845) rotate(-90)" font-size="31" fill="#3a3a3a" text-anchor="middle" textLength="137" lengthAdjust="spacingAndGlyphs">Time (ms)</text>
<text x="18.7" y="721" font-size="49.5" fill="#111">(d)</text>
<rect x="934.4" y="706.3" width="742.0000000000001" height="281.1" fill="#fff"/>
<line x1="934.4" y1="893.7" x2="1676.4" y2="893.7" stroke="#e2e2e2" stroke-width="1.3"/>
<line x1="934.4" y1="800" x2="1676.4" y2="800" stroke="#e2e2e2" stroke-width="1.3"/>
<line x1="1058.1" y1="706.3" x2="1058.1" y2="987.4" stroke="#e2e2e2" stroke-width="1.3"/>
<line x1="1305.4" y1="706.3" x2="1305.4" y2="987.4" stroke="#e2e2e2" stroke-width="1.3"/>
<line x1="1552.7" y1="706.3" x2="1552.7" y2="987.4" stroke="#e2e2e2" stroke-width="1.3"/>
<rect x="993.8" y="854.3" width="57.3" height="133.1" fill="#1270bd" stroke="#1a1a1a" stroke-width="1"/>
<rect x="1064.8" y="851.5" width="57.3" height="135.9" fill="#e5787a" stroke="#3a2a2a" stroke-width="1"/>
<path d="M1022.4,846V861.5M1016.9,846h11M1016.9,861.5h11" stroke="#2f4fc0" stroke-width="1.6" fill="none"/>
<path d="M1093.4,845.4V859M1087.9,845.4h11M1087.9,859h11" stroke="#e3202e" stroke-width="1.6" fill="none"/>
<rect x="1241.1" y="843.6" width="57.3" height="143.8" fill="#1270bd" stroke="#1a1a1a" stroke-width="1"/>
<rect x="1312.1" y="756" width="57.3" height="231.4" fill="#e5787a" stroke="#3a2a2a" stroke-width="1"/>
<path d="M1269.7,830.8V855.2M1264.2,830.8h11M1264.2,855.2h11" stroke="#2f4fc0" stroke-width="1.6" fill="none"/>
<path d="M1340.7,710.3V802.3M1335.2,710.3h11M1335.2,802.3h11" stroke="#e3202e" stroke-width="1.6" fill="none"/>
<rect x="1488.4" y="762.1" width="57.3" height="225.3" fill="#1270bd" stroke="#1a1a1a" stroke-width="1"/>
<rect x="1559.4" y="754.1" width="57.3" height="233.3" fill="#e5787a" stroke="#3a2a2a" stroke-width="1"/>
<path d="M1517,753V769.4M1511.5,753h11M1511.5,769.4h11" stroke="#2f4fc0" stroke-width="1.6" fill="none"/>
<path d="M1588,737.3V770.2M1582.5,737.3h11M1582.5,770.2h11" stroke="#e3202e" stroke-width="1.6" fill="none"/>
<rect x="934.4" y="706.3" width="742.0000000000001" height="281.1" fill="none" stroke="#4a4a4a" stroke-width="1.2"/>
<path d="M934.4,893.7h7M1676.4,893.7h-7M934.4,800h7M1676.4,800h-7M1058.1,706.3v7M1058.1,987.4v-7M1305.4,706.3v7M1305.4,987.4v-7M1552.7,706.3v7M1552.7,987.4v-7" stroke="#3c3c3c" stroke-width="1.1" fill="none"/>
<rect x="972.7" y="729.3" width="179" height="64.6" fill="#fff" stroke="#3c3c3c" stroke-width="1.1"/>
<rect x="978.2" y="735.5" width="57.3" height="22.3" fill="#1270bd" stroke="#1a1a1a" stroke-width="1"/>
<rect x="978.2" y="764.7" width="57.3" height="22.3" fill="#e5787a" stroke="#3a2a2a" stroke-width="1"/>
<text x="1039" y="753.5" font-size="25" fill="#3a3a3a" textLength="91.5" lengthAdjust="spacingAndGlyphs">Left side</text>
<text x="1039" y="782.5" font-size="25" fill="#3a3a3a" textLength="107" lengthAdjust="spacingAndGlyphs">Right side</text>
<text x="924.5" y="994.4" font-size="27" fill="#3a3a3a" text-anchor="end" textLength="13.5" lengthAdjust="spacingAndGlyphs">0</text>
<text x="924.5" y="900.7" font-size="27" fill="#3a3a3a" text-anchor="end" textLength="13.5" lengthAdjust="spacingAndGlyphs">2</text>
<text x="924.5" y="807" font-size="27" fill="#3a3a3a" text-anchor="end" textLength="13.5" lengthAdjust="spacingAndGlyphs">4</text>
<text x="924.5" y="713.3" font-size="27" fill="#3a3a3a" text-anchor="end" textLength="13.5" lengthAdjust="spacingAndGlyphs">6</text>
<text x="1058.1" y="1017.7" font-size="27" fill="#3a3a3a" text-anchor="middle" textLength="71.5" lengthAdjust="spacingAndGlyphs">Virgin</text>
<text x="1305.4" y="1017.7" font-size="27" fill="#3a3a3a" text-anchor="middle" textLength="111.5" lengthAdjust="spacingAndGlyphs">Half-CXL</text>
<text x="1552.7" y="1017.7" font-size="27" fill="#3a3a3a" text-anchor="middle" textLength="107.5" lengthAdjust="spacingAndGlyphs">Full-CXL</text>
<text transform="translate(896.5,844.5) rotate(-90)" font-size="30" fill="#3a3a3a" text-anchor="middle" textLength="230" lengthAdjust="spacingAndGlyphs">Wave speed (m/s)</text>
<text x="809.8" y="721" font-size="49" fill="#111">(e)</text>
</svg>
</body></html>
